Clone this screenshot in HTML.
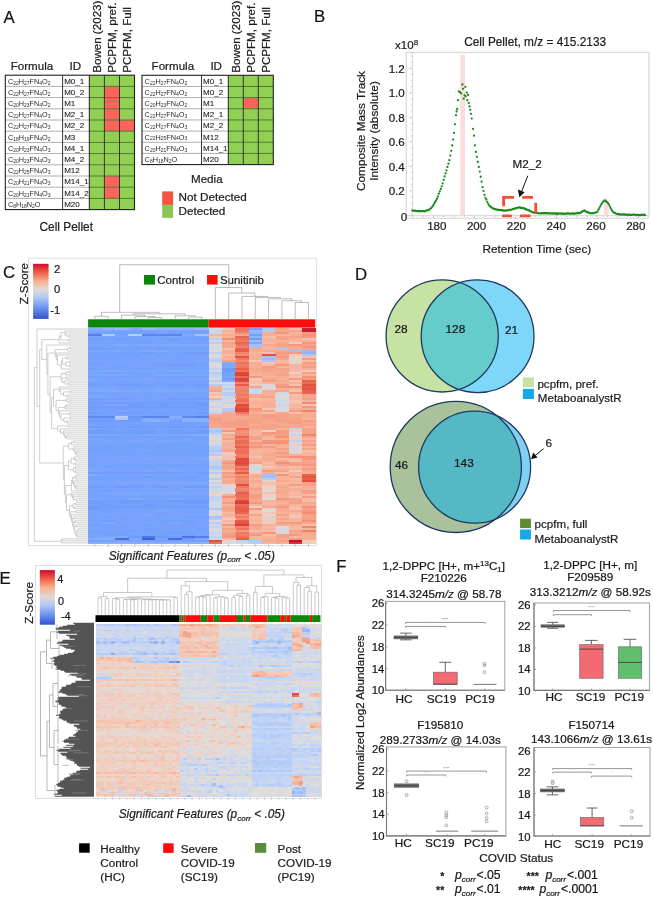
<!DOCTYPE html>
<html><head><meta charset="utf-8"><style>
html,body{margin:0;padding:0;background:#fff;width:653px;height:899px;overflow:hidden}
svg{display:block;filter:blur(0.35px)}
text{stroke:#222;stroke-width:0.22px;stroke-linejoin:round}
</style></head><body>
<svg width="653" height="899" viewBox="0 0 653 899">
<rect width="653" height="899" fill="#fff"/>
<g font-family='"Liberation Sans", sans-serif'>
<text x="3.4" y="23" font-size="16.8" text-anchor="start" fill="#111" >A</text>
<rect x="5.3" y="75.2" width="84" height="134.4" fill="#fff"/>
<rect x="89.3" y="75.2" width="15.1" height="11.2" fill="#91d052"/>
<rect x="104.4" y="75.2" width="15.1" height="11.2" fill="#91d052"/>
<rect x="119.5" y="75.2" width="15" height="11.2" fill="#91d052"/>
<rect x="89.3" y="86.4" width="15.1" height="11.2" fill="#91d052"/>
<rect x="104.4" y="86.4" width="15.1" height="11.2" fill="#fb645b"/>
<rect x="119.5" y="86.4" width="15" height="11.2" fill="#91d052"/>
<rect x="89.3" y="97.6" width="15.1" height="11.2" fill="#91d052"/>
<rect x="104.4" y="97.6" width="15.1" height="11.2" fill="#fb645b"/>
<rect x="119.5" y="97.6" width="15" height="11.2" fill="#91d052"/>
<rect x="89.3" y="108.8" width="15.1" height="11.2" fill="#91d052"/>
<rect x="104.4" y="108.8" width="15.1" height="11.2" fill="#fb645b"/>
<rect x="119.5" y="108.8" width="15" height="11.2" fill="#91d052"/>
<rect x="89.3" y="120" width="15.1" height="11.2" fill="#91d052"/>
<rect x="104.4" y="120" width="15.1" height="11.2" fill="#fb645b"/>
<rect x="119.5" y="120" width="15" height="11.2" fill="#fb645b"/>
<rect x="89.3" y="131.2" width="15.1" height="11.2" fill="#91d052"/>
<rect x="104.4" y="131.2" width="15.1" height="11.2" fill="#91d052"/>
<rect x="119.5" y="131.2" width="15" height="11.2" fill="#91d052"/>
<rect x="89.3" y="142.4" width="15.1" height="11.2" fill="#91d052"/>
<rect x="104.4" y="142.4" width="15.1" height="11.2" fill="#91d052"/>
<rect x="119.5" y="142.4" width="15" height="11.2" fill="#91d052"/>
<rect x="89.3" y="153.6" width="15.1" height="11.2" fill="#91d052"/>
<rect x="104.4" y="153.6" width="15.1" height="11.2" fill="#91d052"/>
<rect x="119.5" y="153.6" width="15" height="11.2" fill="#91d052"/>
<rect x="89.3" y="164.8" width="15.1" height="11.2" fill="#91d052"/>
<rect x="104.4" y="164.8" width="15.1" height="11.2" fill="#91d052"/>
<rect x="119.5" y="164.8" width="15" height="11.2" fill="#91d052"/>
<rect x="89.3" y="176" width="15.1" height="11.2" fill="#91d052"/>
<rect x="104.4" y="176" width="15.1" height="11.2" fill="#fb645b"/>
<rect x="119.5" y="176" width="15" height="11.2" fill="#91d052"/>
<rect x="89.3" y="187.2" width="15.1" height="11.2" fill="#91d052"/>
<rect x="104.4" y="187.2" width="15.1" height="11.2" fill="#fb645b"/>
<rect x="119.5" y="187.2" width="15" height="11.2" fill="#91d052"/>
<rect x="89.3" y="198.4" width="15.1" height="11.2" fill="#91d052"/>
<rect x="104.4" y="198.4" width="15.1" height="11.2" fill="#91d052"/>
<rect x="119.5" y="198.4" width="15" height="11.2" fill="#91d052"/>
<path d="M5.3 86.4H89.3M5.3 97.6H89.3M5.3 108.8H89.3M5.3 120H89.3M5.3 131.2H89.3M5.3 142.4H89.3M5.3 153.6H89.3M5.3 164.8H89.3M5.3 176H89.3M5.3 187.2H89.3M5.3 198.4H89.3" stroke="#9a9a9a" stroke-width="0.8" fill="none"/>
<path d="M89.3 86.4H134.5M89.3 97.6H134.5M89.3 108.8H134.5M89.3 120H134.5M89.3 131.2H134.5M89.3 142.4H134.5M89.3 153.6H134.5M89.3 164.8H134.5M89.3 176H134.5M89.3 187.2H134.5M89.3 198.4H134.5" stroke="#4a7a30" stroke-width="1" fill="none"/>
<path d="M62.6 75.2V209.6M104.4 75.2V209.6M119.5 75.2V209.6" stroke="#222" stroke-width="0.9" fill="none"/>
<path d="M89.3 75.2V209.6" stroke="#222" stroke-width="1" fill="none"/>
<rect x="5.3" y="75.2" width="129.2" height="134.4" fill="none" stroke="#222" stroke-width="1.1"/>
<text x="7.9" y="83.6" font-size="7.3" fill="#2a2a2a" style="stroke:none"><tspan dy="0">C</tspan><tspan font-size="5.0" dy="0.9">22</tspan><tspan dy="-0.9">H</tspan><tspan font-size="5.0" dy="0.9">27</tspan><tspan dy="-0.9">FN</tspan><tspan font-size="5.0" dy="0.9">4</tspan><tspan dy="-0.9">O</tspan><tspan font-size="5.0" dy="0.9">2</tspan></text>
<text x="64.2" y="83.6" font-size="8" fill="#222" style="stroke-width:0.1px">M0_1</text>
<text x="7.9" y="94.8" font-size="7.3" fill="#2a2a2a" style="stroke:none"><tspan dy="0">C</tspan><tspan font-size="5.0" dy="0.9">22</tspan><tspan dy="-0.9">H</tspan><tspan font-size="5.0" dy="0.9">27</tspan><tspan dy="-0.9">FN</tspan><tspan font-size="5.0" dy="0.9">4</tspan><tspan dy="-0.9">O</tspan><tspan font-size="5.0" dy="0.9">2</tspan></text>
<text x="64.2" y="94.8" font-size="8" fill="#222" style="stroke-width:0.1px">M0_2</text>
<text x="7.9" y="106" font-size="7.3" fill="#2a2a2a" style="stroke:none"><tspan dy="0">C</tspan><tspan font-size="5.0" dy="0.9">20</tspan><tspan dy="-0.9">H</tspan><tspan font-size="5.0" dy="0.9">23</tspan><tspan dy="-0.9">FN</tspan><tspan font-size="5.0" dy="0.9">4</tspan><tspan dy="-0.9">O</tspan><tspan font-size="5.0" dy="0.9">2</tspan></text>
<text x="64.2" y="106" font-size="8" fill="#222" style="stroke-width:0.1px">M1</text>
<text x="7.9" y="117.2" font-size="7.3" fill="#2a2a2a" style="stroke:none"><tspan dy="0">C</tspan><tspan font-size="5.0" dy="0.9">22</tspan><tspan dy="-0.9">H</tspan><tspan font-size="5.0" dy="0.9">27</tspan><tspan dy="-0.9">FN</tspan><tspan font-size="5.0" dy="0.9">4</tspan><tspan dy="-0.9">O</tspan><tspan font-size="5.0" dy="0.9">3</tspan></text>
<text x="64.2" y="117.2" font-size="8" fill="#222" style="stroke-width:0.1px">M2_1</text>
<text x="7.9" y="128.4" font-size="7.3" fill="#2a2a2a" style="stroke:none"><tspan dy="0">C</tspan><tspan font-size="5.0" dy="0.9">22</tspan><tspan dy="-0.9">H</tspan><tspan font-size="5.0" dy="0.9">27</tspan><tspan dy="-0.9">FN</tspan><tspan font-size="5.0" dy="0.9">4</tspan><tspan dy="-0.9">O</tspan><tspan font-size="5.0" dy="0.9">3</tspan></text>
<text x="64.2" y="128.4" font-size="8" fill="#222" style="stroke-width:0.1px">M2_2</text>
<text x="7.9" y="139.6" font-size="7.3" fill="#2a2a2a" style="stroke:none"><tspan dy="0">C</tspan><tspan font-size="5.0" dy="0.9">18</tspan><tspan dy="-0.9">H</tspan><tspan font-size="5.0" dy="0.9">19</tspan><tspan dy="-0.9">FN</tspan><tspan font-size="5.0" dy="0.9">4</tspan><tspan dy="-0.9">O</tspan><tspan font-size="5.0" dy="0.9">2</tspan></text>
<text x="64.2" y="139.6" font-size="8" fill="#222" style="stroke-width:0.1px">M3</text>
<text x="7.9" y="150.8" font-size="7.3" fill="#2a2a2a" style="stroke:none"><tspan dy="0">C</tspan><tspan font-size="5.0" dy="0.9">20</tspan><tspan dy="-0.9">H</tspan><tspan font-size="5.0" dy="0.9">23</tspan><tspan dy="-0.9">FN</tspan><tspan font-size="5.0" dy="0.9">4</tspan><tspan dy="-0.9">O</tspan><tspan font-size="5.0" dy="0.9">3</tspan></text>
<text x="64.2" y="150.8" font-size="8" fill="#222" style="stroke-width:0.1px">M4_1</text>
<text x="7.9" y="162" font-size="7.3" fill="#2a2a2a" style="stroke:none"><tspan dy="0">C</tspan><tspan font-size="5.0" dy="0.9">20</tspan><tspan dy="-0.9">H</tspan><tspan font-size="5.0" dy="0.9">23</tspan><tspan dy="-0.9">FN</tspan><tspan font-size="5.0" dy="0.9">4</tspan><tspan dy="-0.9">O</tspan><tspan font-size="5.0" dy="0.9">3</tspan></text>
<text x="64.2" y="162" font-size="8" fill="#222" style="stroke-width:0.1px">M4_2</text>
<text x="7.9" y="173.2" font-size="7.3" fill="#2a2a2a" style="stroke:none"><tspan dy="0">C</tspan><tspan font-size="5.0" dy="0.9">22</tspan><tspan dy="-0.9">H</tspan><tspan font-size="5.0" dy="0.9">25</tspan><tspan dy="-0.9">FN</tspan><tspan font-size="5.0" dy="0.9">4</tspan><tspan dy="-0.9">O</tspan><tspan font-size="5.0" dy="0.9">3</tspan></text>
<text x="64.2" y="173.2" font-size="8" fill="#222" style="stroke-width:0.1px">M12</text>
<text x="7.9" y="184.4" font-size="7.3" fill="#2a2a2a" style="stroke:none"><tspan dy="0">C</tspan><tspan font-size="5.0" dy="0.9">20</tspan><tspan dy="-0.9">H</tspan><tspan font-size="5.0" dy="0.9">21</tspan><tspan dy="-0.9">FN</tspan><tspan font-size="5.0" dy="0.9">4</tspan><tspan dy="-0.9">O</tspan><tspan font-size="5.0" dy="0.9">3</tspan></text>
<text x="64.2" y="184.4" font-size="8" fill="#222" style="stroke-width:0.1px">M14_1</text>
<text x="7.9" y="195.6" font-size="7.3" fill="#2a2a2a" style="stroke:none"><tspan dy="0">C</tspan><tspan font-size="5.0" dy="0.9">20</tspan><tspan dy="-0.9">H</tspan><tspan font-size="5.0" dy="0.9">21</tspan><tspan dy="-0.9">FN</tspan><tspan font-size="5.0" dy="0.9">4</tspan><tspan dy="-0.9">O</tspan><tspan font-size="5.0" dy="0.9">3</tspan></text>
<text x="64.2" y="195.6" font-size="8" fill="#222" style="stroke-width:0.1px">M14_2</text>
<text x="7.9" y="206.8" font-size="7.3" fill="#2a2a2a" style="stroke:none"><tspan dy="0">C</tspan><tspan font-size="5.0" dy="0.9">8</tspan><tspan dy="-0.9">H</tspan><tspan font-size="5.0" dy="0.9">18</tspan><tspan dy="-0.9">N</tspan><tspan font-size="5.0" dy="0.9">2</tspan><tspan dy="-0.9">O</tspan></text>
<text x="64.2" y="206.8" font-size="8" fill="#222" style="stroke-width:0.1px">M20</text>
<rect x="142" y="75.3" width="86.3" height="89.28" fill="#fff"/>
<rect x="228.3" y="75.3" width="15" height="11.16" fill="#91d052"/>
<rect x="243.3" y="75.3" width="15" height="11.16" fill="#91d052"/>
<rect x="258.3" y="75.3" width="15" height="11.16" fill="#91d052"/>
<rect x="228.3" y="86.46" width="15" height="11.16" fill="#91d052"/>
<rect x="243.3" y="86.46" width="15" height="11.16" fill="#91d052"/>
<rect x="258.3" y="86.46" width="15" height="11.16" fill="#91d052"/>
<rect x="228.3" y="97.62" width="15" height="11.16" fill="#91d052"/>
<rect x="243.3" y="97.62" width="15" height="11.16" fill="#fb645b"/>
<rect x="258.3" y="97.62" width="15" height="11.16" fill="#91d052"/>
<rect x="228.3" y="108.78" width="15" height="11.16" fill="#91d052"/>
<rect x="243.3" y="108.78" width="15" height="11.16" fill="#91d052"/>
<rect x="258.3" y="108.78" width="15" height="11.16" fill="#91d052"/>
<rect x="228.3" y="119.94" width="15" height="11.16" fill="#91d052"/>
<rect x="243.3" y="119.94" width="15" height="11.16" fill="#91d052"/>
<rect x="258.3" y="119.94" width="15" height="11.16" fill="#91d052"/>
<rect x="228.3" y="131.1" width="15" height="11.16" fill="#91d052"/>
<rect x="243.3" y="131.1" width="15" height="11.16" fill="#91d052"/>
<rect x="258.3" y="131.1" width="15" height="11.16" fill="#91d052"/>
<rect x="228.3" y="142.26" width="15" height="11.16" fill="#91d052"/>
<rect x="243.3" y="142.26" width="15" height="11.16" fill="#91d052"/>
<rect x="258.3" y="142.26" width="15" height="11.16" fill="#91d052"/>
<rect x="228.3" y="153.42" width="15" height="11.16" fill="#91d052"/>
<rect x="243.3" y="153.42" width="15" height="11.16" fill="#91d052"/>
<rect x="258.3" y="153.42" width="15" height="11.16" fill="#91d052"/>
<path d="M142 86.46H228.3M142 97.62H228.3M142 108.78H228.3M142 119.94H228.3M142 131.1H228.3M142 142.26H228.3M142 153.42H228.3" stroke="#9a9a9a" stroke-width="0.8" fill="none"/>
<path d="M228.3 86.46H273.3M228.3 97.62H273.3M228.3 108.78H273.3M228.3 119.94H273.3M228.3 131.1H273.3M228.3 142.26H273.3M228.3 153.42H273.3" stroke="#4a7a30" stroke-width="1" fill="none"/>
<path d="M201.5 75.3V164.58M243.3 75.3V164.58M258.3 75.3V164.58" stroke="#222" stroke-width="0.9" fill="none"/>
<path d="M228.3 75.3V164.58" stroke="#222" stroke-width="1" fill="none"/>
<rect x="142" y="75.3" width="131.3" height="89.28" fill="none" stroke="#222" stroke-width="1.1"/>
<text x="144.6" y="83.7" font-size="7.3" fill="#2a2a2a" style="stroke:none"><tspan dy="0">C</tspan><tspan font-size="5.0" dy="0.9">22</tspan><tspan dy="-0.9">H</tspan><tspan font-size="5.0" dy="0.9">27</tspan><tspan dy="-0.9">FN</tspan><tspan font-size="5.0" dy="0.9">4</tspan><tspan dy="-0.9">O</tspan><tspan font-size="5.0" dy="0.9">2</tspan></text>
<text x="203.1" y="83.7" font-size="8" fill="#222" style="stroke-width:0.1px">M0_1</text>
<text x="144.6" y="94.86" font-size="7.3" fill="#2a2a2a" style="stroke:none"><tspan dy="0">C</tspan><tspan font-size="5.0" dy="0.9">22</tspan><tspan dy="-0.9">H</tspan><tspan font-size="5.0" dy="0.9">27</tspan><tspan dy="-0.9">FN</tspan><tspan font-size="5.0" dy="0.9">4</tspan><tspan dy="-0.9">O</tspan><tspan font-size="5.0" dy="0.9">2</tspan></text>
<text x="203.1" y="94.86" font-size="8" fill="#222" style="stroke-width:0.1px">M0_2</text>
<text x="144.6" y="106.02" font-size="7.3" fill="#2a2a2a" style="stroke:none"><tspan dy="0">C</tspan><tspan font-size="5.0" dy="0.9">20</tspan><tspan dy="-0.9">H</tspan><tspan font-size="5.0" dy="0.9">23</tspan><tspan dy="-0.9">FN</tspan><tspan font-size="5.0" dy="0.9">4</tspan><tspan dy="-0.9">O</tspan><tspan font-size="5.0" dy="0.9">2</tspan></text>
<text x="203.1" y="106.02" font-size="8" fill="#222" style="stroke-width:0.1px">M1</text>
<text x="144.6" y="117.18" font-size="7.3" fill="#2a2a2a" style="stroke:none"><tspan dy="0">C</tspan><tspan font-size="5.0" dy="0.9">22</tspan><tspan dy="-0.9">H</tspan><tspan font-size="5.0" dy="0.9">27</tspan><tspan dy="-0.9">FN</tspan><tspan font-size="5.0" dy="0.9">4</tspan><tspan dy="-0.9">O</tspan><tspan font-size="5.0" dy="0.9">3</tspan></text>
<text x="203.1" y="117.18" font-size="8" fill="#222" style="stroke-width:0.1px">M2_1</text>
<text x="144.6" y="128.34" font-size="7.3" fill="#2a2a2a" style="stroke:none"><tspan dy="0">C</tspan><tspan font-size="5.0" dy="0.9">22</tspan><tspan dy="-0.9">H</tspan><tspan font-size="5.0" dy="0.9">27</tspan><tspan dy="-0.9">FN</tspan><tspan font-size="5.0" dy="0.9">4</tspan><tspan dy="-0.9">O</tspan><tspan font-size="5.0" dy="0.9">3</tspan></text>
<text x="203.1" y="128.34" font-size="8" fill="#222" style="stroke-width:0.1px">M2_2</text>
<text x="144.6" y="139.5" font-size="7.3" fill="#2a2a2a" style="stroke:none"><tspan dy="0">C</tspan><tspan font-size="5.0" dy="0.9">22</tspan><tspan dy="-0.9">H</tspan><tspan font-size="5.0" dy="0.9">25</tspan><tspan dy="-0.9">FN</tspan><tspan font-size="5.0" dy="0.9">4</tspan><tspan dy="-0.9">O</tspan><tspan font-size="5.0" dy="0.9">3</tspan></text>
<text x="203.1" y="139.5" font-size="8" fill="#222" style="stroke-width:0.1px">M12</text>
<text x="144.6" y="150.66" font-size="7.3" fill="#2a2a2a" style="stroke:none"><tspan dy="0">C</tspan><tspan font-size="5.0" dy="0.9">20</tspan><tspan dy="-0.9">H</tspan><tspan font-size="5.0" dy="0.9">21</tspan><tspan dy="-0.9">FN</tspan><tspan font-size="5.0" dy="0.9">4</tspan><tspan dy="-0.9">O</tspan><tspan font-size="5.0" dy="0.9">3</tspan></text>
<text x="203.1" y="150.66" font-size="8" fill="#222" style="stroke-width:0.1px">M14_1</text>
<text x="144.6" y="161.82" font-size="7.3" fill="#2a2a2a" style="stroke:none"><tspan dy="0">C</tspan><tspan font-size="5.0" dy="0.9">8</tspan><tspan dy="-0.9">H</tspan><tspan font-size="5.0" dy="0.9">18</tspan><tspan dy="-0.9">N</tspan><tspan font-size="5.0" dy="0.9">2</tspan><tspan dy="-0.9">O</tspan></text>
<text x="203.1" y="161.82" font-size="8" fill="#222" style="stroke-width:0.1px">M20</text>
<text x="10.7" y="70.2" font-size="11.6" text-anchor="start" fill="#1a1a1a" >Formula</text>
<text x="69.5" y="70.2" font-size="11.6" text-anchor="start" fill="#1a1a1a" >ID</text>
<text x="151.6" y="70.2" font-size="11.6" text-anchor="start" fill="#1a1a1a" >Formula</text>
<text x="210.4" y="70.2" font-size="11.6" text-anchor="start" fill="#1a1a1a" >ID</text>
<text transform="translate(100.6,72.8) rotate(-90)" font-size="11.6" text-anchor="start" fill="#1a1a1a" >Bowen (2023)</text>
<text transform="translate(116.4,72.8) rotate(-90)" font-size="11.6" text-anchor="start" fill="#1a1a1a" >PCPFM, pref.</text>
<text transform="translate(131.4,72.8) rotate(-90)" font-size="11.6" text-anchor="start" fill="#1a1a1a" >PCPFM, Full</text>
<text transform="translate(239.9,72.8) rotate(-90)" font-size="11.6" text-anchor="start" fill="#1a1a1a" >Bowen (2023)</text>
<text transform="translate(255.4,72.8) rotate(-90)" font-size="11.6" text-anchor="start" fill="#1a1a1a" >PCPFM, pref.</text>
<text transform="translate(270.4,72.8) rotate(-90)" font-size="11.6" text-anchor="start" fill="#1a1a1a" >PCPFM, Full</text>
<text x="39.5" y="231" font-size="11.9" text-anchor="start" fill="#1a1a1a" >Cell Pellet</text>
<text x="191" y="183.3" font-size="11.6" text-anchor="start" fill="#1a1a1a" >Media</text>
<rect x="162.2" y="191.4" width="10.9" height="13.5" fill="#f4553e"/>
<rect x="162.2" y="204.9" width="10.9" height="13" fill="#8cc653"/>
<text x="178.6" y="200.6" font-size="11.7" text-anchor="start" fill="#1a1a1a" >Not Detected</text>
<text x="178.6" y="215.4" font-size="11.7" text-anchor="start" fill="#1a1a1a" >Detected</text>
<text x="313.9" y="21.8" font-size="16.8" text-anchor="start" fill="#111" >B</text>
<rect x="406.3" y="52.4" width="242.7" height="163.2" fill="#fff" stroke="#dcdcdc" stroke-width="1.4"/>
<path d="M412.5 52.4V215.6M406.3 218.3H649.0M406.3 215.6V218.3" stroke="#dcdcdc" stroke-width="1.2" fill="none"/>
<rect x="460.2" y="54.7" width="4.8" height="160.9" fill="#fadcdc"/>
<rect x="603.8" y="198.5" width="4.8" height="17.1" fill="#fadcdc"/>
<path d="M409 215.4H412.5M410.7 209.28H412.5M410.7 203.15H412.5M410.7 197.03H412.5M409 190.9H412.5M410.7 184.78H412.5M410.7 178.65H412.5M410.7 172.53H412.5M409 166.4H412.5M410.7 160.28H412.5M410.7 154.15H412.5M410.7 148.03H412.5M409 141.9H412.5M410.7 135.78H412.5M410.7 129.65H412.5M410.7 123.53H412.5M409 117.4H412.5M410.7 111.27H412.5M410.7 105.15H412.5M410.7 99.02H412.5M409 92.9H412.5M410.7 86.78H412.5M410.7 80.65H412.5M410.7 74.52H412.5M409 68.4H412.5M410.7 62.28H412.5M410.7 56.15H412.5" stroke="#c4c4c4" stroke-width="0.8"/>
<path d="M413.05 215.6V217.1M423.27 215.6V217.1M433.5 215.6V218.4M443.73 215.6V217.1M453.95 215.6V217.1M464.18 215.6V217.1M474.4 215.6V218.4M484.62 215.6V217.1M494.85 215.6V217.1M505.07 215.6V217.1M515.3 215.6V218.4M525.52 215.6V217.1M535.75 215.6V217.1M545.98 215.6V217.1M556.2 215.6V218.4M566.42 215.6V217.1M576.65 215.6V217.1M586.88 215.6V217.1M597.1 215.6V218.4M607.33 215.6V217.1M617.55 215.6V217.1M627.77 215.6V217.1M638 215.6V218.4M648.23 215.6V217.1" stroke="#bdbdbd" stroke-width="0.8"/>
<text x="404.8" y="195.1" font-size="11.6" text-anchor="end" fill="#1a1a1a" >0.2</text>
<text x="404.8" y="170.6" font-size="11.6" text-anchor="end" fill="#1a1a1a" >0.4</text>
<text x="404.8" y="146.1" font-size="11.6" text-anchor="end" fill="#1a1a1a" >0.6</text>
<text x="404.8" y="121.6" font-size="11.6" text-anchor="end" fill="#1a1a1a" >0.8</text>
<text x="404.8" y="97.1" font-size="11.6" text-anchor="end" fill="#1a1a1a" >1.0</text>
<text x="404.8" y="72.6" font-size="11.6" text-anchor="end" fill="#1a1a1a" >1.2</text>
<text x="407.2" y="221.3" font-size="11.6" text-anchor="end" fill="#1a1a1a" >0</text>
<text x="436.8" y="230.2" font-size="11.6" text-anchor="middle" fill="#1a1a1a" >180</text>
<text x="476.6" y="230.2" font-size="11.6" text-anchor="middle" fill="#1a1a1a" >200</text>
<text x="516.4" y="230.2" font-size="11.6" text-anchor="middle" fill="#1a1a1a" >220</text>
<text x="556.2" y="230.2" font-size="11.6" text-anchor="middle" fill="#1a1a1a" >240</text>
<text x="596" y="230.2" font-size="11.6" text-anchor="middle" fill="#1a1a1a" >260</text>
<text x="635.8" y="230.2" font-size="11.6" text-anchor="middle" fill="#1a1a1a" >280</text>
<text x="395" y="49.2" font-size="11.6" fill="#1a1a1a">x10<tspan font-size="8" dy="-4.5">8</tspan></text>
<text x="464.2" y="45.8" font-size="11.85" text-anchor="start" fill="#1a1a1a" >Cell Pellet, m/z = 415.2133</text>
<text transform="translate(364.6,131) rotate(-90)" font-size="11.8" text-anchor="middle" fill="#1a1a1a" >Composite Mass Track</text>
<text transform="translate(377.6,131) rotate(-90)" font-size="11.8" text-anchor="middle" fill="#1a1a1a" >Intensity (absolute)</text>
<text x="536.8" y="252.8" font-size="11.8" text-anchor="middle" fill="#1a1a1a" >Retention Time (sec)</text>
<path d="M412.3 210.54h0M413.25 210.55h0M414.2 210.9h0M415.15 210.7h0M416.1 211.03h0M417.05 211.04h0M418 210.98h0M418.95 211.3h0M419.9 211.16h0M420.85 211.33h0M421.8 211.11h0M422.75 211.09h0M423.7 211.21h0M424.65 211.38h0M425.6 210.8h0M426.55 210.52h0M427.5 210.39h0M428.45 210.22h0M429.4 209.51h0M430.35 208.62h0M431.3 208.12h0M432.25 206.66h0M433.2 205.49h0M434.15 203.63h0M435.1 201.98h0M436.05 200.39h0M437 198.63h0M437.95 196.42h0M438.9 193.64h0M439.85 191.37h0M440.8 188.94h0M441.75 186.34h0M442.7 183.4h0M443.65 179.79h0M444.6 176.44h0M445.55 173.29h0M446.5 170.31h0M447.45 166.96h0M448.4 163.68h0M449.35 160.22h0M450.3 155.53h0M451.25 150.82h0M452.2 145.51h0M453.15 139.57h0M454.1 132.92h0M455.05 124.36h0M456 115.21h0M473.1 128.9h0M474.05 135.64h0M475 145.44h0M475.95 151.94h0M476.9 156.81h0M477.85 161.9h0M478.8 166.98h0M479.75 171.58h0M480.7 176.77h0M481.65 181.71h0M482.6 187.18h0M483.55 191.07h0M484.5 194.82h0M485.45 197.83h0M486.4 199.69h0M487.35 202.03h0M488.3 204.12h0M489.25 205.58h0M490.2 206.25h0M491.15 207.17h0M492.1 207.95h0M493.05 208.44h0M494 208.98h0M494.95 208.87h0M495.9 209.38h0M496.85 209.54h0M497.8 209.9h0M498.75 209.98h0M499.7 209.87h0M500.65 210.09h0M501.6 210.39h0M502.55 210.24h0M503.5 210.62h0M504.45 210.64h0M505.4 210.63h0M506.35 210.41h0M507.3 210.57h0M508.25 210.06h0M509.2 209.93h0M510.15 209.82h0M511.1 209.87h0M512.05 209.28h0M513 209.17h0M513.95 208.84h0M514.9 208.63h0M515.85 208.22h0M516.8 208.06h0M517.75 207.63h0M518.7 207.55h0M519.65 207.38h0M520.6 207.77h0M521.55 208.09h0M522.5 207.98h0M523.45 208.27h0M524.4 208.63h0M525.35 209.01h0M526.3 209.51h0M527.25 209.94h0M528.2 210.19h0M529.15 210.49h0M530.1 211.12h0M531.05 211.51h0M532 212.03h0M532.95 212.45h0M533.9 212.55h0M534.85 212.69h0M535.8 212.96h0M536.75 213.11h0M537.7 212.84h0M538.65 213.31h0M539.6 213.29h0M540.55 213.38h0M541.5 213.38h0M542.45 213.22h0M543.4 213.26h0M544.35 213.15h0M545.3 213.46h0M546.25 213.22h0M547.2 213.26h0M548.15 213.37h0M549.1 213.39h0M550.05 213.52h0M551 213.42h0M551.95 213.43h0M552.9 213.53h0M553.85 213.5h0M554.8 213.63h0M555.75 213.46h0M556.7 213.89h0M557.65 213.76h0M558.6 213.52h0M559.55 213.58h0M560.5 213.62h0M561.45 213.63h0M562.4 213.51h0M563.35 213.87h0M564.3 213.95h0M565.25 213.68h0M566.2 213.69h0M567.15 213.49h0M568.1 213.5h0M569.05 213.62h0M570 213.58h0M570.95 213.86h0M571.9 213.53h0M572.85 213.46h0M573.8 213.93h0M574.75 213.71h0M575.7 213.4h0M576.65 213.42h0M577.6 213h0M578.55 213.08h0M579.5 213.13h0M580.45 212.76h0M581.4 212.2h0M582.35 211.51h0M583.3 211.08h0M584.25 210.51h0M585.2 211.18h0M586.15 211.59h0M587.1 212.24h0M588.05 212.52h0M589 212.61h0M589.95 213.05h0M590.9 213.28h0M591.85 213.35h0M592.8 213.2h0M593.75 213.03h0M594.7 212.81h0M595.65 212.37h0M596.6 212.34h0M597.55 211.65h0M598.5 209.67h0M599.45 207.86h0M600.4 206.09h0M601.35 204.27h0M602.3 202.82h0M603.25 201.55h0M604.2 200.61h0M605.15 200.67h0M606.1 201.38h0M607.05 202.27h0M608 203.11h0M608.95 204.52h0M609.9 206.57h0M610.85 208.47h0M611.8 210.16h0M612.75 211.55h0M613.7 212.31h0M614.65 212.89h0M615.6 213.33h0M616.55 213.79h0M617.5 214.07h0M618.45 213.91h0M619.4 214.4h0M620.35 214.63h0M621.3 214.6h0M622.25 214.62h0M623.2 214.52h0M624.15 214.41h0M625.1 214.75h0M626.05 214.56h0M627 214.83h0M627.95 214.96h0M628.9 214.7h0M629.85 214.74h0M630.8 215.03h0M631.75 214.93h0M632.7 214.67h0M633.65 214.66h0M634.6 214.68h0M635.55 215.07h0M636.5 215.03h0M637.45 214.72h0M638.4 215.07h0M639.35 215.16h0M640.3 215.01h0M641.25 214.87h0M642.2 214.98h0M643.15 214.78h0M644.1 214.73h0M645.05 215.22h0M462.4 84.5h0M465.3 86.8h0M463 88.8h0M458.8 91.4h0M459.9 92.2h0M461.1 93.4h0M466.8 92.6h0M468 94.9h0M464.5 95.3h0M465.7 96.4h0M463.7 98.7h0M458 100.2h0M467.2 100.2h0M468.7 102.9h0M469.5 106.4h0M470.2 109.8h0M457.2 109h0M456.6 111.5h0M471 113.8h0M471.8 118.6h0" stroke="#1d8a1d" stroke-width="2.3" stroke-linecap="round" fill="none"/>
<path d="M502.2 197.3H514M522.2 197.3H533M535.7 202.8V213.3M502.2 215.8H511.8M519.9 215.8H530.6M503.6 196V206.2" stroke="#f0502f" stroke-width="2.8" fill="none"/>
<path d="M527.8 175.7L521.6 191.5" stroke="#111" stroke-width="1" fill="none"/>
<path d="M519.4 197.2L517.8 189.6L524.6 192.2Z" fill="#111"/>
<text x="512.6" y="168" font-size="11.6" text-anchor="start" fill="#1a1a1a" >M2_2</text>
<text x="3" y="277.9" font-size="16.8" text-anchor="start" fill="#111" >C</text>
<rect x="28.6" y="258.2" width="287.7" height="287.5" fill="none" stroke="#dedede" stroke-width="1"/>
<defs><linearGradient id="cbC" x1="0" y1="0" x2="0" y2="1"><stop offset="0" stop-color="#cf0a2c"/><stop offset="0.15" stop-color="#ee5a44"/><stop offset="0.32" stop-color="#f8b293"/><stop offset="0.47" stop-color="#dedbd8"/><stop offset="0.62" stop-color="#aec6f6"/><stop offset="0.8" stop-color="#6b93ee"/><stop offset="1" stop-color="#3350cf"/></linearGradient><linearGradient id="cbE" x1="0" y1="0" x2="0" y2="1"><stop offset="0" stop-color="#cf0a2c"/><stop offset="0.15" stop-color="#ee5a44"/><stop offset="0.32" stop-color="#f8b293"/><stop offset="0.5" stop-color="#dedbd8"/><stop offset="0.65" stop-color="#aec6f6"/><stop offset="0.82" stop-color="#6b93ee"/><stop offset="1" stop-color="#3350cf"/></linearGradient></defs>
<rect x="33.1" y="263.8" width="15.5" height="55.1" fill="url(#cbC)"/>
<text x="60.3" y="273.3" font-size="11.3" text-anchor="end" fill="#1a1a1a" >2</text>
<text x="60.3" y="292.5" font-size="11.3" text-anchor="end" fill="#1a1a1a" >0</text>
<text x="60.3" y="314.2" font-size="11.3" text-anchor="end" fill="#1a1a1a" >-1</text>
<text transform="translate(28.3,283.6) rotate(-90)" font-size="11.6" text-anchor="middle" fill="#1a1a1a" >Z-Score</text>
<rect x="144" y="275" width="11" height="9.6" fill="#0a850a"/>
<text x="157.2" y="283.9" font-size="11.5" text-anchor="start" fill="#1a1a1a" >Control</text>
<rect x="207" y="275" width="10.6" height="9.6" fill="#ff0b0b"/>
<text x="219.9" y="283.9" font-size="11.5" text-anchor="start" fill="#1a1a1a" >Sunitinib</text>
<rect x="88.1" y="319.3" width="120.6" height="8.3" fill="#0a850a"/>
<rect x="208.7" y="319.3" width="106.5" height="8.3" fill="#ff0b0b"/>
<path d="M119.7 264.7H228.8M119.7 264.7V312.3M228.8 264.7V287.5M215.35 287.5H241.77M215.35 287.5V319.3M241.77 287.5V293M228.66 293H254.87M228.66 293V319.3M254.87 293V296.4M241.97 296.4H267.76M241.97 296.4V319.3M267.76 296.4V297.4M255.28 297.4H280.24M255.28 297.4V319.3M280.24 297.4V298.8M268.59 298.8H291.89M268.59 298.8V319.3M291.89 298.8V300.8M281.9 300.8H301.87M281.9 300.8V319.3M301.87 300.8V302.6M295.21 302.6H308.52M295.21 302.6V319.3M308.52 302.6V319.3M94.79 316.3H108.19M94.79 316.3V319.3M108.19 316.3V319.3M148.35 317.63H161.75M148.35 317.63V319.3M161.75 317.63V319.3M134.97 316.54H155.05M134.97 316.54V319.3M155.05 316.54V317.63M121.57 315.12H145.01M121.57 315.12V319.3M145.01 315.12V316.54M188.53 317H201.91M188.53 317V319.3M201.91 317V319.3M175.13 315.77H195.22M175.13 315.77V319.3M195.22 315.77V317M133.29 313.8H185.18M133.29 313.8V315.12M185.18 313.8V315.77M101.49 312.3H159.23M101.49 312.3V316.3M159.23 312.3V313.8" stroke="#a6a6a6" stroke-width="0.75" fill="none"/>
<path d="M88.1 328h13.6v2.2h-13.6zM128.3 328h13.6v2.2h-13.6zM168.4 415.9h13.6v2.2h-13.6zM141.7 417.9h13.6v2.2h-13.6zM88.1 537.8h27v2.2h-27z" fill="#84aefc" shape-rendering="crispEdges"/>
<path d="M101.5 328h13.6v2.2h-13.6zM168.4 328h27v2.2h-27zM248.6 332h13.6v2.2h-13.6zM248.6 336h13.6v2.2h-13.6zM301.9 352h13.6v2.2h-13.6z" fill="#90b4fc" shape-rendering="crispEdges"/>
<path d="M114.9 328h13.6v2.2h-13.6zM141.7 328h13.6v2.2h-13.6zM195.2 328h13.6v2.2h-13.6zM301.9 350h13.6v2.2h-13.6z" fill="#96bafc" shape-rendering="crispEdges"/>
<path d="M155.1 328h13.6v2.2h-13.6z" fill="#8ab4fc" shape-rendering="crispEdges"/>
<path d="M208.6 328h13.6v2.2h-13.6zM208.6 346h13.6v2.2h-13.6zM208.6 370h13.6v2.2h-13.6zM222 381.9h13.6v2.2h-13.6zM222 389.9h13.6v2.2h-13.6zM248.6 389.9h13.6v2.2h-13.6zM222 399.9h13.6v2.2h-13.6zM208.6 403.9h13.6v2.2h-13.6zM208.6 441.9h13.6v2.2h-13.6zM288.6 445.9h13.6v2.2h-13.6zM288.6 447.9h13.6v2.2h-13.6zM248.6 465.9h13.6v2.2h-13.6zM248.6 469.9h13.6v2.2h-13.6zM222 487.9h13.6v2.2h-13.6zM222 489.8h13.6v2.2h-13.6zM208.6 501.8h13.6v2.2h-13.6zM208.6 505.8h13.6v2.2h-13.6zM275.2 527.8h13.6v2.2h-13.6zM275.2 531.8h13.6v2.2h-13.6z" fill="#d2d8e4" shape-rendering="crispEdges"/>
<path d="M222 328h13.6v2.2h-13.6zM248.6 360h13.6v2.2h-13.6zM301.9 370h13.6v2.2h-13.6zM208.6 391.9h13.6v2.2h-13.6zM261.9 407.9h13.6v2.2h-13.6zM222 431.9h13.6v2.2h-13.6zM261.9 465.9h13.6v2.2h-13.6zM261.9 511.8h13.6v2.2h-13.6z" fill="#f6c6b4" shape-rendering="crispEdges"/>
<path d="M235.3 328h13.6v2.2h-13.6zM235.3 338h13.6v2.2h-13.6zM235.3 344h13.6v2.2h-13.6zM235.3 362h13.6v2.2h-13.6zM235.3 370h13.6v2.2h-13.6zM235.3 397.9h13.6v2.2h-13.6zM235.3 411.9h13.6v2.2h-13.6zM235.3 447.9h13.6v2.2h-13.6zM235.3 497.8h13.6v2.2h-13.6zM235.3 527.8h13.6v2.2h-13.6zM235.3 535.8h13.6v2.2h-13.6zM208.6 541.8h13.6v2.2h-13.6z" fill="#f0725a" shape-rendering="crispEdges"/>
<path d="M248.6 328h13.6v2.2h-13.6zM88.1 332h67.2v2.2h-67.2zM168.4 332h40.4v2.2h-40.4zM248.6 334h13.6v2.2h-13.6zM101.5 338h13.6v2.2h-13.6zM128.3 338h40.4v2.2h-40.4zM181.8 338h13.6v2.2h-13.6zM88.1 340h13.6v2.2h-13.6zM114.9 340h40.4v2.2h-40.4zM168.4 340h13.6v2.2h-13.6zM88.1 342h27v2.2h-27zM128.3 342h80.6v2.2h-80.6zM88.1 346h13.6v2.2h-13.6zM114.9 346h27v2.2h-27zM155.1 346h53.8v2.2h-53.8zM114.9 348h40.4v2.2h-40.4zM168.4 348h40.4v2.2h-40.4zM88.1 352h53.8v2.2h-53.8zM155.1 352h27v2.2h-27zM101.5 354h40.4v2.2h-40.4zM155.1 354h13.6v2.2h-13.6zM181.8 354h13.6v2.2h-13.6zM88.1 356h53.8v2.2h-53.8zM168.4 356h13.6v2.2h-13.6zM88.1 358h27v2.2h-27zM141.7 358h13.6v2.2h-13.6zM168.4 358h27v2.2h-27zM88.1 362h13.6v2.2h-13.6zM88.1 364h40.4v2.2h-40.4zM141.7 364h27v2.2h-27zM195.2 364h13.6v2.2h-13.6zM114.9 366h13.6v2.2h-13.6zM88.1 368h67.2v2.2h-67.2zM168.4 368h40.4v2.2h-40.4zM101.5 372h13.6v2.2h-13.6zM128.3 372h13.6v2.2h-13.6zM155.1 372h27v2.2h-27zM222 372h13.6v2.2h-13.6zM222 374h13.6v2.2h-13.6zM88.1 376h120.8v2.2h-120.8zM88.1 381.9h13.6v2.2h-13.6zM128.3 381.9h13.6v2.2h-13.6zM155.1 381.9h13.6v2.2h-13.6zM101.5 383.9h13.6v2.2h-13.6zM141.7 383.9h27v2.2h-27zM181.8 383.9h13.6v2.2h-13.6zM128.3 385.9h27v2.2h-27zM168.4 385.9h40.4v2.2h-40.4zM88.1 391.9h13.6v2.2h-13.6zM114.9 391.9h13.6v2.2h-13.6zM141.7 391.9h13.6v2.2h-13.6zM181.8 391.9h27v2.2h-27zM141.7 393.9h27v2.2h-27zM181.8 393.9h13.6v2.2h-13.6zM128.3 397.9h40.4v2.2h-40.4zM155.1 399.9h27v2.2h-27zM88.1 403.9h13.6v2.2h-13.6zM141.7 403.9h13.6v2.2h-13.6zM168.4 403.9h27v2.2h-27zM195.2 405.9h13.6v2.2h-13.6zM101.5 407.9h13.6v2.2h-13.6zM128.3 407.9h67.2v2.2h-67.2zM101.5 409.9h13.6v2.2h-13.6zM128.3 409.9h27v2.2h-27zM181.8 409.9h13.6v2.2h-13.6zM101.5 411.9h13.6v2.2h-13.6zM141.7 411.9h13.6v2.2h-13.6zM168.4 411.9h27v2.2h-27zM88.1 413.9h27v2.2h-27zM155.1 413.9h53.8v2.2h-53.8zM88.1 421.9h120.8v2.2h-120.8zM101.5 423.9h94v2.2h-94zM114.9 425.9h13.6v2.2h-13.6zM101.5 427.9h13.6v2.2h-13.6zM141.7 427.9h13.6v2.2h-13.6zM114.9 429.9h13.6v2.2h-13.6zM155.1 429.9h13.6v2.2h-13.6zM181.8 429.9h13.6v2.2h-13.6zM155.1 431.9h13.6v2.2h-13.6zM88.1 435.9h13.6v2.2h-13.6zM114.9 435.9h53.8v2.2h-53.8zM181.8 435.9h27v2.2h-27zM101.5 437.9h40.4v2.2h-40.4zM155.1 437.9h27v2.2h-27zM195.2 437.9h13.6v2.2h-13.6zM168.4 441.9h27v2.2h-27zM101.5 443.9h40.4v2.2h-40.4zM155.1 443.9h53.8v2.2h-53.8zM88.1 445.9h120.8v2.2h-120.8zM88.1 447.9h120.8v2.2h-120.8zM88.1 449.9h27v2.2h-27zM155.1 449.9h13.6v2.2h-13.6zM181.8 449.9h27v2.2h-27zM88.1 451.9h120.8v2.2h-120.8zM114.9 453.9h27v2.2h-27zM155.1 453.9h53.8v2.2h-53.8zM88.1 457.9h13.6v2.2h-13.6zM88.1 463.9h120.8v2.2h-120.8zM101.5 465.9h27v2.2h-27zM141.7 465.9h13.6v2.2h-13.6zM168.4 465.9h27v2.2h-27zM181.8 471.9h13.6v2.2h-13.6zM195.2 473.9h13.6v2.2h-13.6zM88.1 475.9h53.8v2.2h-53.8zM155.1 475.9h27v2.2h-27zM195.2 475.9h13.6v2.2h-13.6zM88.1 477.9h27v2.2h-27zM155.1 477.9h53.8v2.2h-53.8zM195.2 479.9h13.6v2.2h-13.6zM88.1 483.9h13.6v2.2h-13.6zM128.3 483.9h13.6v2.2h-13.6zM195.2 483.9h13.6v2.2h-13.6zM101.5 485.9h13.6v2.2h-13.6zM141.7 485.9h13.6v2.2h-13.6zM168.4 485.9h13.6v2.2h-13.6zM168.4 487.9h13.6v2.2h-13.6zM88.1 489.8h80.6v2.2h-80.6zM181.8 489.8h13.6v2.2h-13.6zM88.1 495.8h120.8v2.2h-120.8zM101.5 501.8h13.6v2.2h-13.6zM141.7 501.8h40.4v2.2h-40.4zM88.1 503.8h13.6v2.2h-13.6zM114.9 503.8h27v2.2h-27zM155.1 503.8h53.8v2.2h-53.8zM101.5 507.8h53.8v2.2h-53.8zM168.4 507.8h40.4v2.2h-40.4zM101.5 509.8h13.6v2.2h-13.6zM101.5 511.8h13.6v2.2h-13.6zM155.1 511.8h13.6v2.2h-13.6zM181.8 511.8h27v2.2h-27zM88.1 515.8h27v2.2h-27zM181.8 515.8h27v2.2h-27zM114.9 517.8h13.6v2.2h-13.6zM88.1 519.8h13.6v2.2h-13.6zM128.3 519.8h67.2v2.2h-67.2zM155.1 521.8h13.6v2.2h-13.6zM181.8 521.8h13.6v2.2h-13.6zM88.1 523.8h27v2.2h-27zM141.7 523.8h27v2.2h-27zM181.8 523.8h13.6v2.2h-13.6zM101.5 525.8h27v2.2h-27zM141.7 527.8h13.6v2.2h-13.6zM195.2 527.8h13.6v2.2h-13.6zM88.1 529.8h120.8v2.2h-120.8zM88.1 531.8h40.4v2.2h-40.4zM141.7 531.8h27v2.2h-27zM181.8 531.8h13.6v2.2h-13.6zM101.5 533.8h40.4v2.2h-40.4zM155.1 533.8h13.6v2.2h-13.6zM181.8 533.8h13.6v2.2h-13.6zM88.1 539.8h27v2.2h-27zM128.3 539.8h13.6v2.2h-13.6zM155.1 539.8h53.8v2.2h-53.8z" fill="#72a2fc" shape-rendering="crispEdges"/>
<path d="M261.9 328h13.6v2.2h-13.6zM275.2 348h13.6v2.2h-13.6zM301.9 354h13.6v2.2h-13.6zM261.9 360h13.6v2.2h-13.6zM114.9 417.9h13.6v2.2h-13.6zM208.6 449.9h13.6v2.2h-13.6zM208.6 465.9h13.6v2.2h-13.6zM208.6 507.8h13.6v2.2h-13.6z" fill="#aec6f6" shape-rendering="crispEdges"/>
<path d="M275.2 328h13.6v2.2h-13.6zM275.2 338h13.6v2.2h-13.6zM222 342h13.6v2.2h-13.6zM275.2 344h13.6v2.2h-13.6zM261.9 370h13.6v2.2h-13.6zM301.9 372h13.6v2.2h-13.6zM275.2 374h13.6v2.2h-13.6zM261.9 395.9h13.6v2.2h-13.6zM248.6 409.9h13.6v2.2h-13.6zM248.6 417.9h13.6v2.2h-13.6zM208.6 419.9h13.6v2.2h-13.6zM208.6 421.9h13.6v2.2h-13.6zM248.6 421.9h13.6v2.2h-13.6zM301.9 423.9h13.6v2.2h-13.6zM248.6 425.9h40.2v2.2h-40.2zM301.9 427.9h13.6v2.2h-13.6zM301.9 431.9h13.6v2.2h-13.6zM275.2 433.9h13.6v2.2h-13.6zM248.6 435.9h13.6v2.2h-13.6zM275.2 447.9h13.6v2.2h-13.6zM301.9 447.9h13.6v2.2h-13.6zM248.6 461.9h13.6v2.2h-13.6zM275.2 469.9h13.6v2.2h-13.6zM301.9 483.9h13.6v2.2h-13.6zM301.9 491.8h13.6v2.2h-13.6zM222 507.8h13.6v2.2h-13.6zM275.2 513.8h13.6v2.2h-13.6zM301.9 515.8h13.6v2.2h-13.6zM275.2 539.8h13.6v2.2h-13.6z" fill="#f6a284" shape-rendering="crispEdges"/>
<path d="M288.6 328h13.6v2.2h-13.6zM301.9 338h13.6v2.2h-13.6zM222 348h13.6v2.2h-13.6zM261.9 352h13.6v2.2h-13.6zM301.9 356h13.6v2.2h-13.6zM261.9 362h13.6v2.2h-13.6zM288.6 380h13.6v2.2h-13.6zM288.6 383.9h13.6v2.2h-13.6zM288.6 401.9h13.6v2.2h-13.6zM261.9 411.9h13.6v2.2h-13.6zM288.6 411.9h13.6v2.2h-13.6zM222 455.9h13.6v2.2h-13.6zM248.6 455.9h13.6v2.2h-13.6zM275.2 457.9h13.6v2.2h-13.6zM288.6 459.9h13.6v2.2h-13.6zM288.6 465.9h13.6v2.2h-13.6zM222 469.9h13.6v2.2h-13.6zM261.9 481.9h13.6v2.2h-13.6zM261.9 491.8h13.6v2.2h-13.6zM288.6 495.8h13.6v2.2h-13.6zM248.6 509.8h13.6v2.2h-13.6zM288.6 513.8h13.6v2.2h-13.6zM222 521.8h13.6v2.2h-13.6zM301.9 523.8h13.6v2.2h-13.6z" fill="#f6c0ae" shape-rendering="crispEdges"/>
<path d="M301.9 328h13.6v2.2h-13.6z" fill="#cc1e30" shape-rendering="crispEdges"/>
<path d="M88.1 330h27v2.2h-27zM88.1 344h13.6v2.2h-13.6zM88.1 350h40.4v2.2h-40.4zM168.4 350h40.4v2.2h-40.4zM155.1 360h13.6v2.2h-13.6zM195.2 360h13.6v2.2h-13.6zM222 364h13.6v2.2h-13.6zM128.3 370h27v2.2h-27zM181.8 370h27v2.2h-27zM88.1 374h13.6v2.2h-13.6zM222 376h13.6v2.2h-13.6zM88.1 378h13.6v2.2h-13.6zM114.9 378h13.6v2.2h-13.6zM181.8 378h27v2.2h-27zM88.1 380h13.6v2.2h-13.6zM128.3 380h13.6v2.2h-13.6zM168.4 380h13.6v2.2h-13.6zM88.1 387.9h27v2.2h-27zM155.1 387.9h40.4v2.2h-40.4zM141.7 389.9h13.6v2.2h-13.6zM88.1 395.9h27v2.2h-27zM114.9 433.9h27v2.2h-27zM88.1 439.9h27v2.2h-27zM168.4 439.9h27v2.2h-27zM141.7 457.9h13.6v2.2h-13.6zM114.9 459.9h13.6v2.2h-13.6zM168.4 461.9h13.6v2.2h-13.6zM88.1 467.9h27v2.2h-27zM155.1 467.9h27v2.2h-27zM88.1 469.9h13.6v2.2h-13.6zM168.4 469.9h13.6v2.2h-13.6zM195.2 469.9h13.6v2.2h-13.6zM141.7 473.9h13.6v2.2h-13.6zM88.1 481.9h27v2.2h-27zM141.7 487.9h13.6v2.2h-13.6zM101.5 491.8h13.6v2.2h-13.6zM128.3 491.8h27v2.2h-27zM181.8 491.8h27v2.2h-27zM128.3 493.8h13.6v2.2h-13.6zM88.1 497.8h13.6v2.2h-13.6zM168.4 497.8h13.6v2.2h-13.6zM168.4 521.8h13.6v2.2h-13.6z" fill="#78a8fc" shape-rendering="crispEdges"/>
<path d="M114.9 330h94v2.2h-94zM155.1 332h13.6v2.2h-13.6zM114.9 334h13.6v2.2h-13.6zM88.1 336h80.6v2.2h-80.6zM181.8 336h27v2.2h-27zM101.5 340h13.6v2.2h-13.6zM155.1 340h13.6v2.2h-13.6zM181.8 340h27v2.2h-27zM114.9 342h13.6v2.2h-13.6zM101.5 344h13.6v2.2h-13.6zM101.5 346h13.6v2.2h-13.6zM141.7 346h13.6v2.2h-13.6zM128.3 350h13.6v2.2h-13.6zM88.1 354h13.6v2.2h-13.6zM141.7 354h13.6v2.2h-13.6zM168.4 354h13.6v2.2h-13.6zM195.2 354h13.6v2.2h-13.6zM141.7 356h27v2.2h-27zM181.8 356h27v2.2h-27zM114.9 358h27v2.2h-27zM155.1 358h13.6v2.2h-13.6zM195.2 358h13.6v2.2h-13.6zM88.1 360h67.2v2.2h-67.2zM168.4 360h27v2.2h-27zM101.5 362h107.4v2.2h-107.4zM128.3 364h13.6v2.2h-13.6zM88.1 366h27v2.2h-27zM128.3 366h80.6v2.2h-80.6zM155.1 368h13.6v2.2h-13.6zM155.1 370h13.6v2.2h-13.6zM88.1 372h13.6v2.2h-13.6zM114.9 372h13.6v2.2h-13.6zM141.7 372h13.6v2.2h-13.6zM181.8 372h27v2.2h-27zM128.3 374h27v2.2h-27zM101.5 378h13.6v2.2h-13.6zM128.3 378h13.6v2.2h-13.6zM155.1 378h27v2.2h-27zM101.5 380h27v2.2h-27zM141.7 380h27v2.2h-27zM181.8 380h27v2.2h-27zM101.5 381.9h27v2.2h-27zM141.7 381.9h13.6v2.2h-13.6zM168.4 381.9h40.4v2.2h-40.4zM88.1 385.9h40.4v2.2h-40.4zM155.1 385.9h13.6v2.2h-13.6zM114.9 387.9h40.4v2.2h-40.4zM195.2 387.9h13.6v2.2h-13.6zM101.5 391.9h13.6v2.2h-13.6zM128.3 391.9h13.6v2.2h-13.6zM155.1 391.9h27v2.2h-27zM88.1 393.9h53.8v2.2h-53.8zM168.4 393.9h13.6v2.2h-13.6zM195.2 393.9h13.6v2.2h-13.6zM114.9 395.9h94v2.2h-94zM88.1 399.9h67.2v2.2h-67.2zM181.8 399.9h27v2.2h-27zM101.5 403.9h27v2.2h-27zM88.1 409.9h13.6v2.2h-13.6zM114.9 409.9h13.6v2.2h-13.6zM155.1 409.9h27v2.2h-27zM195.2 409.9h13.6v2.2h-13.6zM114.9 413.9h40.4v2.2h-40.4zM88.1 423.9h13.6v2.2h-13.6zM195.2 423.9h13.6v2.2h-13.6zM88.1 427.9h13.6v2.2h-13.6zM114.9 427.9h27v2.2h-27zM155.1 427.9h53.8v2.2h-53.8zM88.1 437.9h13.6v2.2h-13.6zM141.7 437.9h13.6v2.2h-13.6zM181.8 437.9h13.6v2.2h-13.6zM114.9 439.9h13.6v2.2h-13.6zM141.7 439.9h13.6v2.2h-13.6zM195.2 439.9h13.6v2.2h-13.6zM88.1 441.9h80.6v2.2h-80.6zM195.2 441.9h13.6v2.2h-13.6zM88.1 443.9h13.6v2.2h-13.6zM141.7 443.9h13.6v2.2h-13.6zM114.9 449.9h40.4v2.2h-40.4zM168.4 449.9h13.6v2.2h-13.6zM88.1 453.9h27v2.2h-27zM141.7 453.9h13.6v2.2h-13.6zM88.1 455.9h120.8v2.2h-120.8zM101.5 457.9h40.4v2.2h-40.4zM155.1 457.9h40.4v2.2h-40.4zM88.1 459.9h27v2.2h-27zM128.3 459.9h80.6v2.2h-80.6zM88.1 461.9h80.6v2.2h-80.6zM181.8 461.9h27v2.2h-27zM88.1 465.9h13.6v2.2h-13.6zM128.3 465.9h13.6v2.2h-13.6zM155.1 465.9h13.6v2.2h-13.6zM195.2 465.9h13.6v2.2h-13.6zM114.9 467.9h40.4v2.2h-40.4zM181.8 467.9h27v2.2h-27zM101.5 469.9h40.4v2.2h-40.4zM155.1 469.9h13.6v2.2h-13.6zM181.8 469.9h13.6v2.2h-13.6zM101.5 473.9h40.4v2.2h-40.4zM155.1 473.9h40.4v2.2h-40.4zM114.9 477.9h40.4v2.2h-40.4zM88.1 479.9h107.4v2.2h-107.4zM101.5 483.9h27v2.2h-27zM141.7 483.9h53.8v2.2h-53.8zM88.1 487.9h53.8v2.2h-53.8zM155.1 487.9h13.6v2.2h-13.6zM195.2 487.9h13.6v2.2h-13.6zM168.4 489.8h13.6v2.2h-13.6zM195.2 489.8h13.6v2.2h-13.6zM88.1 491.8h13.6v2.2h-13.6zM88.1 493.8h40.4v2.2h-40.4zM141.7 493.8h67.2v2.2h-67.2zM101.5 497.8h27v2.2h-27zM141.7 497.8h27v2.2h-27zM181.8 497.8h27v2.2h-27zM155.1 507.8h13.6v2.2h-13.6zM88.1 509.8h13.6v2.2h-13.6zM114.9 509.8h40.4v2.2h-40.4zM168.4 509.8h40.4v2.2h-40.4zM88.1 511.8h13.6v2.2h-13.6zM114.9 511.8h40.4v2.2h-40.4zM168.4 511.8h13.6v2.2h-13.6zM88.1 513.8h53.8v2.2h-53.8zM155.1 513.8h53.8v2.2h-53.8zM114.9 515.8h67.2v2.2h-67.2zM88.1 517.8h27v2.2h-27zM128.3 517.8h80.6v2.2h-80.6zM114.9 519.8h13.6v2.2h-13.6zM195.2 519.8h13.6v2.2h-13.6zM88.1 521.8h13.6v2.2h-13.6zM114.9 521.8h40.4v2.2h-40.4zM195.2 521.8h13.6v2.2h-13.6zM114.9 523.8h27v2.2h-27zM168.4 523.8h13.6v2.2h-13.6zM195.2 523.8h13.6v2.2h-13.6zM88.1 525.8h13.6v2.2h-13.6zM128.3 525.8h80.6v2.2h-80.6zM88.1 527.8h53.8v2.2h-53.8zM155.1 527.8h40.4v2.2h-40.4zM128.3 531.8h13.6v2.2h-13.6zM195.2 531.8h13.6v2.2h-13.6zM88.1 533.8h13.6v2.2h-13.6zM141.7 533.8h13.6v2.2h-13.6zM168.4 533.8h13.6v2.2h-13.6zM195.2 533.8h13.6v2.2h-13.6zM88.1 535.8h13.6v2.2h-13.6zM155.1 537.8h13.6v2.2h-13.6zM114.9 539.8h13.6v2.2h-13.6zM141.7 539.8h13.6v2.2h-13.6z" fill="#78a2fc" shape-rendering="crispEdges"/>
<path d="M208.6 330h13.6v2.2h-13.6zM208.6 340h13.6v2.2h-13.6zM275.2 391.9h13.6v2.2h-13.6zM222 395.9h13.6v2.2h-13.6zM222 397.9h13.6v2.2h-13.6zM275.2 399.9h13.6v2.2h-13.6zM275.2 403.9h13.6v2.2h-13.6zM275.2 405.9h13.6v2.2h-13.6zM208.6 409.9h13.6v2.2h-13.6zM208.6 433.9h13.6v2.2h-13.6zM208.6 443.9h13.6v2.2h-13.6zM248.6 467.9h13.6v2.2h-13.6zM208.6 469.9h13.6v2.2h-13.6zM208.6 487.9h13.6v2.2h-13.6zM208.6 489.8h13.6v2.2h-13.6zM208.6 503.8h13.6v2.2h-13.6zM208.6 523.8h13.6v2.2h-13.6zM208.6 537.8h13.6v2.2h-13.6z" fill="#ccd8ea" shape-rendering="crispEdges"/>
<path d="M222 330h13.6v2.2h-13.6zM261.9 332h13.6v2.2h-13.6zM261.9 334h13.6v2.2h-13.6zM288.6 334h13.6v2.2h-13.6zM288.6 338h13.6v2.2h-13.6zM301.9 340h13.6v2.2h-13.6zM222 350h13.6v2.2h-13.6zM248.6 350h13.6v2.2h-13.6zM222 352h13.6v2.2h-13.6zM248.6 354h13.6v2.2h-13.6zM222 356h13.6v2.2h-13.6zM248.6 356h13.6v2.2h-13.6zM248.6 358h13.6v2.2h-13.6zM248.6 364h13.6v2.2h-13.6zM248.6 366h13.6v2.2h-13.6zM301.9 368h13.6v2.2h-13.6zM248.6 372h26.9v2.2h-26.9zM288.6 381.9h13.6v2.2h-13.6zM208.6 385.9h13.6v2.2h-13.6zM208.6 387.9h13.6v2.2h-13.6zM275.2 387.9h13.6v2.2h-13.6zM261.9 389.9h13.6v2.2h-13.6zM261.9 391.9h13.6v2.2h-13.6zM261.9 393.9h13.6v2.2h-13.6zM208.6 397.9h13.6v2.2h-13.6zM248.6 401.9h13.6v2.2h-13.6zM261.9 403.9h13.6v2.2h-13.6zM261.9 405.9h13.6v2.2h-13.6zM301.9 407.9h13.6v2.2h-13.6zM248.6 411.9h13.6v2.2h-13.6zM301.9 415.9h13.6v2.2h-13.6zM222 441.9h13.6v2.2h-13.6zM301.9 441.9h13.6v2.2h-13.6zM222 443.9h13.6v2.2h-13.6zM275.2 443.9h13.6v2.2h-13.6zM222 447.9h13.6v2.2h-13.6zM248.6 447.9h26.9v2.2h-26.9zM275.2 449.9h13.6v2.2h-13.6zM261.9 451.9h13.6v2.2h-13.6zM288.6 453.9h13.6v2.2h-13.6zM248.6 457.9h13.6v2.2h-13.6zM248.6 459.9h13.6v2.2h-13.6zM275.2 467.9h13.6v2.2h-13.6zM301.9 471.9h13.6v2.2h-13.6zM248.6 473.9h13.6v2.2h-13.6zM222 481.9h13.6v2.2h-13.6zM248.6 481.9h13.6v2.2h-13.6zM275.2 483.9h13.6v2.2h-13.6zM248.6 485.9h13.6v2.2h-13.6zM301.9 485.9h13.6v2.2h-13.6zM288.6 487.9h13.6v2.2h-13.6zM288.6 489.8h13.6v2.2h-13.6zM248.6 491.8h13.6v2.2h-13.6zM222 493.8h13.6v2.2h-13.6zM275.2 493.8h13.6v2.2h-13.6zM275.2 495.8h13.6v2.2h-13.6zM222 497.8h13.6v2.2h-13.6zM301.9 503.8h13.6v2.2h-13.6zM275.2 509.8h13.6v2.2h-13.6zM261.9 523.8h40.2v2.2h-40.2zM301.9 533.8h13.6v2.2h-13.6zM301.9 535.8h13.6v2.2h-13.6zM261.9 537.8h13.6v2.2h-13.6zM275.2 541.8h13.6v2.2h-13.6z" fill="#f6ae96" shape-rendering="crispEdges"/>
<path d="M235.3 330h13.6v2.2h-13.6zM235.3 358h13.6v2.2h-13.6zM235.3 366h13.6v2.2h-13.6zM235.3 393.9h13.6v2.2h-13.6zM235.3 427.9h13.6v2.2h-13.6zM235.3 443.9h13.6v2.2h-13.6zM235.3 455.9h13.6v2.2h-13.6zM235.3 485.9h13.6v2.2h-13.6zM235.3 531.8h13.6v2.2h-13.6z" fill="#f07860" shape-rendering="crispEdges"/>
<path d="M248.6 330h13.6v2.2h-13.6zM248.6 340h13.6v2.2h-13.6zM261.9 358h13.6v2.2h-13.6z" fill="#9cbafc" shape-rendering="crispEdges"/>
<path d="M261.9 330h13.6v2.2h-13.6zM101.5 334h13.6v2.2h-13.6zM222 409.9h13.6v2.2h-13.6zM208.6 517.8h13.6v2.2h-13.6zM248.6 539.8h13.6v2.2h-13.6z" fill="#aeccf6" shape-rendering="crispEdges"/>
<path d="M275.2 330h13.6v2.2h-13.6zM235.3 334h13.6v2.2h-13.6zM222 344h13.6v2.2h-13.6zM261.9 344h13.6v2.2h-13.6zM288.6 346h13.6v2.2h-13.6zM248.6 348h13.6v2.2h-13.6zM288.6 348h13.6v2.2h-13.6zM261.9 350h13.6v2.2h-13.6zM275.2 358h13.6v2.2h-13.6zM301.9 364h13.6v2.2h-13.6zM248.6 370h13.6v2.2h-13.6zM275.2 372h13.6v2.2h-13.6zM275.2 380h13.6v2.2h-13.6zM248.6 395.9h13.6v2.2h-13.6zM222 411.9h13.6v2.2h-13.6zM208.6 413.9h27v2.2h-27zM222 415.9h13.6v2.2h-13.6zM222 417.9h13.6v2.2h-13.6zM261.9 419.9h13.6v2.2h-13.6zM261.9 421.9h13.6v2.2h-13.6zM248.6 423.9h13.6v2.2h-13.6zM275.2 423.9h26.9v2.2h-26.9zM208.6 425.9h13.6v2.2h-13.6zM288.6 425.9h13.6v2.2h-13.6zM248.6 427.9h13.6v2.2h-13.6zM275.2 453.9h13.6v2.2h-13.6zM261.9 457.9h13.6v2.2h-13.6zM222 459.9h13.6v2.2h-13.6zM275.2 459.9h13.6v2.2h-13.6zM301.9 459.9h13.6v2.2h-13.6zM301.9 465.9h13.6v2.2h-13.6zM301.9 469.9h13.6v2.2h-13.6zM261.9 471.9h13.6v2.2h-13.6zM222 473.9h13.6v2.2h-13.6zM222 479.9h13.6v2.2h-13.6zM248.6 479.9h13.6v2.2h-13.6zM248.6 489.8h13.6v2.2h-13.6zM275.2 491.8h13.6v2.2h-13.6zM248.6 499.8h13.6v2.2h-13.6zM275.2 499.8h13.6v2.2h-13.6zM301.9 501.8h13.6v2.2h-13.6zM275.2 503.8h13.6v2.2h-13.6zM261.9 505.8h13.6v2.2h-13.6zM275.2 507.8h13.6v2.2h-13.6zM288.6 509.8h13.6v2.2h-13.6zM248.6 525.8h13.6v2.2h-13.6zM248.6 531.8h13.6v2.2h-13.6zM288.6 531.8h13.6v2.2h-13.6zM275.2 537.8h13.6v2.2h-13.6zM261.9 539.8h13.6v2.2h-13.6z" fill="#f6a890" shape-rendering="crispEdges"/>
<path d="M288.6 330h13.6v2.2h-13.6zM275.2 336h26.9v2.2h-26.9zM301.9 344h13.6v2.2h-13.6zM301.9 348h13.6v2.2h-13.6zM275.2 354h13.6v2.2h-13.6zM222 360h13.6v2.2h-13.6zM261.9 368h26.9v2.2h-26.9zM248.6 385.9h13.6v2.2h-13.6zM208.6 389.9h13.6v2.2h-13.6zM301.9 393.9h13.6v2.2h-13.6zM301.9 397.9h13.6v2.2h-13.6zM261.9 409.9h13.6v2.2h-13.6zM248.6 413.9h13.6v2.2h-13.6zM275.2 413.9h26.9v2.2h-26.9zM275.2 415.9h13.6v2.2h-13.6zM261.9 417.9h40.2v2.2h-40.2zM248.6 419.9h13.6v2.2h-13.6zM288.6 419.9h13.6v2.2h-13.6zM222 423.9h13.6v2.2h-13.6zM261.9 423.9h13.6v2.2h-13.6zM222 425.9h26.9v2.2h-26.9zM261.9 427.9h13.6v2.2h-13.6zM301.9 429.9h13.6v2.2h-13.6zM261.9 433.9h13.6v2.2h-13.6zM222 437.9h13.6v2.2h-13.6zM248.6 437.9h13.6v2.2h-13.6zM301.9 439.9h13.6v2.2h-13.6zM248.6 443.9h13.6v2.2h-13.6zM222 449.9h13.6v2.2h-13.6zM288.6 461.9h26.9v2.2h-26.9zM275.2 463.9h13.6v2.2h-13.6zM222 465.9h13.6v2.2h-13.6zM288.6 475.9h13.6v2.2h-13.6zM248.6 487.9h13.6v2.2h-13.6zM248.6 497.8h13.6v2.2h-13.6zM288.6 497.8h13.6v2.2h-13.6zM288.6 499.8h13.6v2.2h-13.6zM288.6 501.8h13.6v2.2h-13.6zM301.9 507.8h13.6v2.2h-13.6zM248.6 513.8h13.6v2.2h-13.6zM301.9 513.8h13.6v2.2h-13.6zM301.9 517.8h13.6v2.2h-13.6zM222 527.8h13.6v2.2h-13.6zM288.6 529.8h13.6v2.2h-13.6zM222 531.8h13.6v2.2h-13.6zM275.2 533.8h13.6v2.2h-13.6zM275.2 535.8h13.6v2.2h-13.6z" fill="#f6a28a" shape-rendering="crispEdges"/>
<path d="M301.9 330h13.6v2.2h-13.6z" fill="#cc1e2a" shape-rendering="crispEdges"/>
<path d="M208.6 332h13.6v2.2h-13.6zM208.6 376h13.6v2.2h-13.6zM248.6 391.9h13.6v2.2h-13.6zM208.6 499.8h13.6v2.2h-13.6zM235.3 541.8h13.6v2.2h-13.6z" fill="#c6d8ea" shape-rendering="crispEdges"/>
<path d="M222 332h13.6v2.2h-13.6zM261.9 342h13.6v2.2h-13.6zM275.2 360h13.6v2.2h-13.6zM261.9 364h13.6v2.2h-13.6zM208.6 393.9h13.6v2.2h-13.6zM288.6 397.9h13.6v2.2h-13.6zM288.6 405.9h13.6v2.2h-13.6zM222 427.9h13.6v2.2h-13.6zM301.9 437.9h13.6v2.2h-13.6zM222 439.9h13.6v2.2h-13.6zM248.6 449.9h13.6v2.2h-13.6zM288.6 457.9h13.6v2.2h-13.6zM275.2 465.9h13.6v2.2h-13.6zM288.6 473.9h13.6v2.2h-13.6zM275.2 481.9h26.9v2.2h-26.9zM301.9 493.8h13.6v2.2h-13.6zM301.9 499.8h13.6v2.2h-13.6zM261.9 501.8h13.6v2.2h-13.6zM222 511.8h13.6v2.2h-13.6zM222 515.8h13.6v2.2h-13.6zM248.6 515.8h13.6v2.2h-13.6zM248.6 521.8h13.6v2.2h-13.6zM288.6 525.8h13.6v2.2h-13.6zM288.6 527.8h13.6v2.2h-13.6zM261.9 529.8h13.6v2.2h-13.6zM288.6 535.8h13.6v2.2h-13.6z" fill="#f6baa2" shape-rendering="crispEdges"/>
<path d="M235.3 332h13.6v2.2h-13.6zM222 338h13.6v2.2h-13.6zM301.9 401.9h13.6v2.2h-13.6zM235.3 429.9h13.6v2.2h-13.6zM235.3 517.8h13.6v2.2h-13.6z" fill="#f68a72" shape-rendering="crispEdges"/>
<path d="M275.2 332h13.6v2.2h-13.6zM275.2 364h13.6v2.2h-13.6zM248.6 376h13.6v2.2h-13.6zM301.9 376h13.6v2.2h-13.6zM275.2 385.9h13.6v2.2h-13.6zM261.9 431.9h13.6v2.2h-13.6zM275.2 439.9h13.6v2.2h-13.6zM248.6 445.9h13.6v2.2h-13.6zM235.3 473.9h13.6v2.2h-13.6zM275.2 473.9h13.6v2.2h-13.6z" fill="#f69678" shape-rendering="crispEdges"/>
<path d="M288.6 332h13.6v2.2h-13.6zM208.6 334h13.6v2.2h-13.6zM222 336h13.6v2.2h-13.6zM261.9 338h13.6v2.2h-13.6zM261.9 340h40.2v2.2h-40.2zM261.9 348h13.6v2.2h-13.6zM248.6 352h13.6v2.2h-13.6zM222 358h13.6v2.2h-13.6zM275.2 362h13.6v2.2h-13.6zM288.6 364h13.6v2.2h-13.6zM275.2 366h13.6v2.2h-13.6zM248.6 374h13.6v2.2h-13.6zM301.9 374h13.6v2.2h-13.6zM261.9 376h13.6v2.2h-13.6zM275.2 378h13.6v2.2h-13.6zM261.9 381.9h13.6v2.2h-13.6zM248.6 399.9h26.9v2.2h-26.9zM301.9 399.9h13.6v2.2h-13.6zM248.6 403.9h13.6v2.2h-13.6zM288.6 403.9h13.6v2.2h-13.6zM301.9 425.9h13.6v2.2h-13.6zM275.2 427.9h13.6v2.2h-13.6zM248.6 429.9h13.6v2.2h-13.6zM248.6 431.9h13.6v2.2h-13.6zM248.6 433.9h13.6v2.2h-13.6zM222 435.9h13.6v2.2h-13.6zM261.9 435.9h13.6v2.2h-13.6zM248.6 439.9h13.6v2.2h-13.6zM261.9 443.9h13.6v2.2h-13.6zM222 445.9h13.6v2.2h-13.6zM275.2 445.9h13.6v2.2h-13.6zM301.9 445.9h13.6v2.2h-13.6zM261.9 449.9h13.6v2.2h-13.6zM248.6 451.9h13.6v2.2h-13.6zM301.9 451.9h13.6v2.2h-13.6zM248.6 453.9h13.6v2.2h-13.6zM301.9 453.9h13.6v2.2h-13.6zM261.9 463.9h13.6v2.2h-13.6zM261.9 467.9h13.6v2.2h-13.6zM288.6 467.9h13.6v2.2h-13.6zM288.6 471.9h13.6v2.2h-13.6zM275.2 475.9h13.6v2.2h-13.6zM222 477.9h13.6v2.2h-13.6zM275.2 477.9h13.6v2.2h-13.6zM288.6 479.9h13.6v2.2h-13.6zM301.9 487.9h13.6v2.2h-13.6zM288.6 493.8h13.6v2.2h-13.6zM261.9 499.8h13.6v2.2h-13.6zM275.2 501.8h13.6v2.2h-13.6zM222 503.8h13.6v2.2h-13.6zM248.6 503.8h13.6v2.2h-13.6zM288.6 503.8h13.6v2.2h-13.6zM275.2 511.8h26.9v2.2h-26.9zM288.6 517.8h13.6v2.2h-13.6zM248.6 519.8h13.6v2.2h-13.6zM275.2 519.8h26.9v2.2h-26.9zM222 525.8h13.6v2.2h-13.6zM301.9 527.8h13.6v2.2h-13.6zM261.9 535.8h13.6v2.2h-13.6zM248.6 537.8h13.6v2.2h-13.6zM261.9 541.8h13.6v2.2h-13.6z" fill="#f6b49c" shape-rendering="crispEdges"/>
<path d="M301.9 332h13.6v2.2h-13.6zM301.9 358h13.6v2.2h-13.6zM301.9 362h13.6v2.2h-13.6zM261.9 366h13.6v2.2h-13.6zM301.9 366h13.6v2.2h-13.6zM275.2 419.9h13.6v2.2h-13.6zM288.6 421.9h13.6v2.2h-13.6zM275.2 429.9h13.6v2.2h-13.6zM275.2 455.9h13.6v2.2h-13.6zM248.6 495.8h13.6v2.2h-13.6zM275.2 505.8h13.6v2.2h-13.6zM275.2 521.8h26.9v2.2h-26.9zM248.6 523.8h13.6v2.2h-13.6zM288.6 533.8h13.6v2.2h-13.6z" fill="#f69c7e" shape-rendering="crispEdges"/>
<path d="M88.1 334h13.6v2.2h-13.6zM195.2 415.9h13.6v2.2h-13.6zM195.2 535.8h13.6v2.2h-13.6z" fill="#547eea" shape-rendering="crispEdges"/>
<path d="M128.3 334h13.6v2.2h-13.6zM208.6 383.9h13.6v2.2h-13.6zM222 387.9h13.6v2.2h-13.6zM222 393.9h13.6v2.2h-13.6zM114.9 415.9h13.6v2.2h-13.6zM208.6 427.9h13.6v2.2h-13.6zM208.6 431.9h13.6v2.2h-13.6zM208.6 447.9h13.6v2.2h-13.6zM208.6 453.9h13.6v2.2h-13.6zM208.6 467.9h13.6v2.2h-13.6zM208.6 471.9h13.6v2.2h-13.6zM261.9 477.9h13.6v2.2h-13.6z" fill="#b4ccf6" shape-rendering="crispEdges"/>
<path d="M141.7 334h40.4v2.2h-40.4zM141.7 415.9h27v2.2h-27z" fill="#5a84f0" shape-rendering="crispEdges"/>
<path d="M181.8 334h13.6v2.2h-13.6zM168.4 336h13.6v2.2h-13.6zM248.6 342h13.6v2.2h-13.6zM114.9 344h94v2.2h-94zM141.7 350h27v2.2h-27zM222 362h13.6v2.2h-13.6zM222 366h13.6v2.2h-13.6zM88.1 370h40.4v2.2h-40.4zM168.4 370h13.6v2.2h-13.6zM101.5 374h27v2.2h-27zM155.1 374h53.8v2.2h-53.8zM141.7 378h13.6v2.2h-13.6zM222 380h13.6v2.2h-13.6zM88.1 389.9h53.8v2.2h-53.8zM155.1 389.9h53.8v2.2h-53.8zM155.1 417.9h27v2.2h-27zM88.1 433.9h27v2.2h-27zM141.7 433.9h67.2v2.2h-67.2zM128.3 439.9h13.6v2.2h-13.6zM155.1 439.9h13.6v2.2h-13.6zM195.2 457.9h13.6v2.2h-13.6zM141.7 469.9h13.6v2.2h-13.6zM88.1 473.9h13.6v2.2h-13.6zM114.9 481.9h94v2.2h-94zM181.8 487.9h13.6v2.2h-13.6zM114.9 491.8h13.6v2.2h-13.6zM155.1 491.8h27v2.2h-27zM128.3 497.8h13.6v2.2h-13.6zM155.1 509.8h13.6v2.2h-13.6zM141.7 513.8h13.6v2.2h-13.6zM101.5 521.8h13.6v2.2h-13.6zM101.5 535.8h27v2.2h-27zM128.3 537.8h13.6v2.2h-13.6zM195.2 537.8h13.6v2.2h-13.6z" fill="#7ea8fc" shape-rendering="crispEdges"/>
<path d="M195.2 334h13.6v2.2h-13.6zM208.6 515.8h13.6v2.2h-13.6z" fill="#a8c0f6" shape-rendering="crispEdges"/>
<path d="M222 334h13.6v2.2h-13.6zM248.6 362h13.6v2.2h-13.6zM261.9 374h13.6v2.2h-13.6zM275.2 376h13.6v2.2h-13.6zM275.2 381.9h13.6v2.2h-13.6zM261.9 401.9h13.6v2.2h-13.6zM288.6 407.9h13.6v2.2h-13.6zM301.9 411.9h13.6v2.2h-13.6zM301.9 413.9h13.6v2.2h-13.6zM275.2 437.9h13.6v2.2h-13.6zM261.9 455.9h13.6v2.2h-13.6zM261.9 459.9h13.6v2.2h-13.6zM248.6 475.9h13.6v2.2h-13.6zM275.2 487.9h13.6v2.2h-13.6zM222 499.8h13.6v2.2h-13.6zM222 513.8h13.6v2.2h-13.6zM248.6 527.8h13.6v2.2h-13.6zM222 529.8h13.6v2.2h-13.6zM301.9 537.8h13.6v2.2h-13.6z" fill="#f6ae90" shape-rendering="crispEdges"/>
<path d="M275.2 334h13.6v2.2h-13.6zM222 340h13.6v2.2h-13.6zM261.9 346h13.6v2.2h-13.6zM288.6 366h13.6v2.2h-13.6zM288.6 368h13.6v2.2h-13.6zM288.6 387.9h13.6v2.2h-13.6zM261.9 397.9h13.6v2.2h-13.6zM248.6 405.9h13.6v2.2h-13.6zM261.9 437.9h13.6v2.2h-13.6zM248.6 477.9h13.6v2.2h-13.6zM261.9 503.8h13.6v2.2h-13.6zM275.2 515.8h13.6v2.2h-13.6zM248.6 517.8h13.6v2.2h-13.6zM222 519.8h13.6v2.2h-13.6zM261.9 527.8h13.6v2.2h-13.6zM248.6 535.8h13.6v2.2h-13.6z" fill="#f6b4a2" shape-rendering="crispEdges"/>
<path d="M301.9 334h13.6v2.2h-13.6zM288.6 385.9h13.6v2.2h-13.6zM235.3 431.9h13.6v2.2h-13.6zM261.9 441.9h13.6v2.2h-13.6zM301.9 455.9h13.6v2.2h-13.6zM301.9 505.8h13.6v2.2h-13.6zM301.9 519.8h13.6v2.2h-13.6z" fill="#f69078" shape-rendering="crispEdges"/>
<path d="M208.6 336h13.6v2.2h-13.6zM288.6 399.9h13.6v2.2h-13.6zM261.9 483.9h13.6v2.2h-13.6zM288.6 515.8h13.6v2.2h-13.6z" fill="#f6c6ae" shape-rendering="crispEdges"/>
<path d="M235.3 336h13.6v2.2h-13.6zM235.3 342h13.6v2.2h-13.6zM301.9 391.9h13.6v2.2h-13.6zM235.3 435.9h13.6v2.2h-13.6zM235.3 511.8h13.6v2.2h-13.6z" fill="#ea6654" shape-rendering="crispEdges"/>
<path d="M261.9 336h13.6v2.2h-13.6zM288.6 376h13.6v2.2h-13.6zM248.6 380h13.6v2.2h-13.6zM248.6 381.9h13.6v2.2h-13.6zM288.6 389.9h13.6v2.2h-13.6zM288.6 393.9h13.6v2.2h-13.6zM301.9 449.9h13.6v2.2h-13.6zM275.2 471.9h13.6v2.2h-13.6zM288.6 507.8h13.6v2.2h-13.6zM248.6 511.8h13.6v2.2h-13.6zM261.9 533.8h13.6v2.2h-13.6z" fill="#f6c0a8" shape-rendering="crispEdges"/>
<path d="M301.9 336h13.6v2.2h-13.6zM301.9 342h13.6v2.2h-13.6zM288.6 344h13.6v2.2h-13.6zM301.9 346h13.6v2.2h-13.6zM275.2 356h13.6v2.2h-13.6zM301.9 405.9h13.6v2.2h-13.6zM248.6 407.9h13.6v2.2h-13.6zM235.3 413.9h13.6v2.2h-13.6zM222 429.9h13.6v2.2h-13.6zM261.9 439.9h13.6v2.2h-13.6zM248.6 441.9h13.6v2.2h-13.6zM301.9 457.9h13.6v2.2h-13.6zM222 461.9h13.6v2.2h-13.6zM301.9 463.9h13.6v2.2h-13.6zM275.2 497.8h13.6v2.2h-13.6zM248.6 501.8h13.6v2.2h-13.6zM248.6 507.8h13.6v2.2h-13.6zM301.9 509.8h13.6v2.2h-13.6zM222 523.8h13.6v2.2h-13.6zM235.3 529.8h13.6v2.2h-13.6zM261.9 531.8h13.6v2.2h-13.6zM248.6 533.8h13.6v2.2h-13.6zM222 535.8h13.6v2.2h-13.6z" fill="#f6967e" shape-rendering="crispEdges"/>
<path d="M88.1 338h13.6v2.2h-13.6zM114.9 338h13.6v2.2h-13.6zM168.4 338h13.6v2.2h-13.6zM195.2 338h13.6v2.2h-13.6zM248.6 338h13.6v2.2h-13.6zM88.1 348h27v2.2h-27zM155.1 348h13.6v2.2h-13.6zM141.7 352h13.6v2.2h-13.6zM181.8 352h27v2.2h-27zM168.4 364h27v2.2h-27zM222 378h13.6v2.2h-13.6zM88.1 383.9h13.6v2.2h-13.6zM114.9 383.9h13.6v2.2h-13.6zM168.4 383.9h13.6v2.2h-13.6zM195.2 383.9h13.6v2.2h-13.6zM88.1 397.9h40.4v2.2h-40.4zM168.4 397.9h40.4v2.2h-40.4zM88.1 401.9h120.8v2.2h-120.8zM128.3 403.9h13.6v2.2h-13.6zM155.1 403.9h13.6v2.2h-13.6zM195.2 403.9h13.6v2.2h-13.6zM88.1 405.9h53.8v2.2h-53.8zM155.1 405.9h40.4v2.2h-40.4zM88.1 407.9h13.6v2.2h-13.6zM114.9 407.9h13.6v2.2h-13.6zM195.2 407.9h13.6v2.2h-13.6zM88.1 411.9h13.6v2.2h-13.6zM114.9 411.9h27v2.2h-27zM155.1 411.9h13.6v2.2h-13.6zM195.2 411.9h13.6v2.2h-13.6zM88.1 417.9h27v2.2h-27zM128.3 417.9h13.6v2.2h-13.6zM88.1 419.9h53.8v2.2h-53.8zM168.4 419.9h13.6v2.2h-13.6zM88.1 425.9h27v2.2h-27zM128.3 425.9h67.2v2.2h-67.2zM88.1 429.9h27v2.2h-27zM128.3 429.9h27v2.2h-27zM168.4 429.9h13.6v2.2h-13.6zM195.2 429.9h13.6v2.2h-13.6zM88.1 431.9h67.2v2.2h-67.2zM168.4 431.9h40.4v2.2h-40.4zM101.5 435.9h13.6v2.2h-13.6zM168.4 435.9h13.6v2.2h-13.6zM88.1 471.9h94v2.2h-94zM195.2 471.9h13.6v2.2h-13.6zM141.7 475.9h13.6v2.2h-13.6zM181.8 475.9h13.6v2.2h-13.6zM88.1 485.9h13.6v2.2h-13.6zM114.9 485.9h27v2.2h-27zM155.1 485.9h13.6v2.2h-13.6zM181.8 485.9h27v2.2h-27zM88.1 499.8h67.2v2.2h-67.2zM181.8 499.8h27v2.2h-27zM88.1 501.8h13.6v2.2h-13.6zM114.9 501.8h27v2.2h-27zM181.8 501.8h13.6v2.2h-13.6zM101.5 503.8h13.6v2.2h-13.6zM141.7 503.8h13.6v2.2h-13.6zM88.1 505.8h27v2.2h-27zM128.3 505.8h80.6v2.2h-80.6zM88.1 507.8h13.6v2.2h-13.6zM101.5 519.8h13.6v2.2h-13.6zM168.4 531.8h13.6v2.2h-13.6zM181.8 537.8h13.6v2.2h-13.6z" fill="#729cfc" shape-rendering="crispEdges"/>
<path d="M208.6 338h13.6v2.2h-13.6zM208.6 352h13.6v2.2h-13.6zM208.6 358h13.6v2.2h-13.6zM208.6 374h13.6v2.2h-13.6zM222 383.9h13.6v2.2h-13.6zM208.6 451.9h13.6v2.2h-13.6zM208.6 461.9h13.6v2.2h-13.6zM208.6 485.9h13.6v2.2h-13.6zM208.6 497.8h13.6v2.2h-13.6zM208.6 535.8h13.6v2.2h-13.6zM235.3 539.8h13.6v2.2h-13.6z" fill="#c0d2f0" shape-rendering="crispEdges"/>
<path d="M235.3 340h13.6v2.2h-13.6zM235.3 346h13.6v2.2h-13.6zM235.3 389.9h13.6v2.2h-13.6zM235.3 437.9h13.6v2.2h-13.6zM235.3 453.9h13.6v2.2h-13.6zM235.3 465.9h13.6v2.2h-13.6zM235.3 469.9h13.6v2.2h-13.6zM235.3 475.9h13.6v2.2h-13.6zM235.3 489.8h13.6v2.2h-13.6zM301.9 529.8h13.6v2.2h-13.6z" fill="#f07e66" shape-rendering="crispEdges"/>
<path d="M208.6 342h13.6v2.2h-13.6zM208.6 360h13.6v2.2h-13.6zM208.6 372h13.6v2.2h-13.6zM208.6 380h13.6v2.2h-13.6zM222 391.9h13.6v2.2h-13.6zM222 407.9h13.6v2.2h-13.6zM208.6 445.9h13.6v2.2h-13.6zM208.6 477.9h13.6v2.2h-13.6zM208.6 521.8h13.6v2.2h-13.6zM248.6 541.8h13.6v2.2h-13.6z" fill="#baccf0" shape-rendering="crispEdges"/>
<path d="M275.2 342h13.6v2.2h-13.6zM222 346h13.6v2.2h-13.6zM275.2 346h13.6v2.2h-13.6zM275.2 350h13.6v2.2h-13.6zM248.6 368h13.6v2.2h-13.6zM275.2 370h13.6v2.2h-13.6zM261.9 378h13.6v2.2h-13.6zM275.2 389.9h13.6v2.2h-13.6zM248.6 393.9h13.6v2.2h-13.6zM301.9 395.9h13.6v2.2h-13.6zM275.2 411.9h13.6v2.2h-13.6zM208.6 415.9h13.6v2.2h-13.6zM235.3 415.9h26.9v2.2h-26.9zM288.6 415.9h13.6v2.2h-13.6zM235.3 417.9h13.6v2.2h-13.6zM222 419.9h13.6v2.2h-13.6zM275.2 421.9h13.6v2.2h-13.6zM301.9 421.9h13.6v2.2h-13.6zM208.6 423.9h13.6v2.2h-13.6zM222 433.9h13.6v2.2h-13.6zM301.9 435.9h13.6v2.2h-13.6zM261.9 453.9h13.6v2.2h-13.6zM222 463.9h13.6v2.2h-13.6zM222 467.9h13.6v2.2h-13.6zM275.2 479.9h13.6v2.2h-13.6zM275.2 485.9h13.6v2.2h-13.6zM275.2 489.8h13.6v2.2h-13.6zM222 505.8h13.6v2.2h-13.6zM222 509.8h13.6v2.2h-13.6zM275.2 517.8h13.6v2.2h-13.6zM301.9 521.8h13.6v2.2h-13.6zM301.9 531.8h13.6v2.2h-13.6z" fill="#f6a88a" shape-rendering="crispEdges"/>
<path d="M288.6 342h13.6v2.2h-13.6zM248.6 378h13.6v2.2h-13.6zM288.6 437.9h13.6v2.2h-13.6zM288.6 443.9h13.6v2.2h-13.6zM222 451.9h13.6v2.2h-13.6zM248.6 471.9h13.6v2.2h-13.6zM248.6 505.8h13.6v2.2h-13.6zM261.9 517.8h13.6v2.2h-13.6zM301.9 541.8h13.6v2.2h-13.6z" fill="#f0ccc0" shape-rendering="crispEdges"/>
<path d="M208.6 344h13.6v2.2h-13.6zM208.6 350h13.6v2.2h-13.6zM208.6 354h13.6v2.2h-13.6zM208.6 356h13.6v2.2h-13.6zM208.6 364h13.6v2.2h-13.6zM208.6 381.9h13.6v2.2h-13.6zM261.9 385.9h13.6v2.2h-13.6zM275.2 393.9h13.6v2.2h-13.6zM208.6 401.9h13.6v2.2h-13.6zM208.6 407.9h13.6v2.2h-13.6zM275.2 409.9h13.6v2.2h-13.6zM208.6 437.9h13.6v2.2h-13.6zM208.6 511.8h13.6v2.2h-13.6zM275.2 525.8h13.6v2.2h-13.6zM222 539.8h13.6v2.2h-13.6zM222 541.8h13.6v2.2h-13.6z" fill="#ded8d8" shape-rendering="crispEdges"/>
<path d="M248.6 344h13.6v2.2h-13.6zM248.6 346h13.6v2.2h-13.6zM288.6 350h13.6v2.2h-13.6zM261.9 356h13.6v2.2h-13.6zM261.9 473.9h13.6v2.2h-13.6z" fill="#a2c0fc" shape-rendering="crispEdges"/>
<path d="M208.6 348h13.6v2.2h-13.6zM208.6 362h13.6v2.2h-13.6zM208.6 366h13.6v2.2h-13.6zM208.6 378h13.6v2.2h-13.6zM261.9 383.9h13.6v2.2h-13.6zM222 385.9h13.6v2.2h-13.6zM275.2 397.9h13.6v2.2h-13.6zM222 405.9h13.6v2.2h-13.6zM275.2 407.9h13.6v2.2h-13.6zM288.6 431.9h13.6v2.2h-13.6zM208.6 435.9h13.6v2.2h-13.6zM288.6 441.9h13.6v2.2h-13.6zM288.6 451.9h13.6v2.2h-13.6zM208.6 475.9h13.6v2.2h-13.6zM208.6 479.9h13.6v2.2h-13.6zM208.6 483.9h13.6v2.2h-13.6zM222 485.9h13.6v2.2h-13.6zM208.6 509.8h13.6v2.2h-13.6zM208.6 513.8h13.6v2.2h-13.6zM208.6 519.8h13.6v2.2h-13.6zM208.6 527.8h13.6v2.2h-13.6zM208.6 529.8h13.6v2.2h-13.6zM208.6 533.8h13.6v2.2h-13.6z" fill="#d8d8de" shape-rendering="crispEdges"/>
<path d="M235.3 348h13.6v2.2h-13.6zM301.9 389.9h13.6v2.2h-13.6zM235.3 505.8h13.6v2.2h-13.6z" fill="#ea604e" shape-rendering="crispEdges"/>
<path d="M235.3 350h13.6v2.2h-13.6zM235.3 383.9h13.6v2.2h-13.6zM301.9 385.9h13.6v2.2h-13.6zM235.3 491.8h13.6v2.2h-13.6zM235.3 507.8h13.6v2.2h-13.6zM235.3 509.8h13.6v2.2h-13.6zM235.3 519.8h13.6v2.2h-13.6zM235.3 537.8h13.6v2.2h-13.6z" fill="#ea5a48" shape-rendering="crispEdges"/>
<path d="M235.3 352h13.6v2.2h-13.6zM235.3 385.9h13.6v2.2h-13.6zM235.3 387.9h13.6v2.2h-13.6zM301.9 433.9h13.6v2.2h-13.6zM235.3 479.9h13.6v2.2h-13.6zM235.3 481.9h13.6v2.2h-13.6zM235.3 487.9h13.6v2.2h-13.6zM235.3 525.8h13.6v2.2h-13.6zM301.9 525.8h13.6v2.2h-13.6z" fill="#f0846c" shape-rendering="crispEdges"/>
<path d="M275.2 352h26.9v2.2h-26.9zM288.6 378h26.9v2.2h-26.9zM261.9 380h13.6v2.2h-13.6zM275.2 383.9h13.6v2.2h-13.6zM288.6 391.9h13.6v2.2h-13.6zM288.6 409.9h13.6v2.2h-13.6zM261.9 413.9h13.6v2.2h-13.6zM261.9 415.9h13.6v2.2h-13.6zM208.6 417.9h13.6v2.2h-13.6zM235.3 419.9h13.6v2.2h-13.6zM301.9 419.9h13.6v2.2h-13.6zM222 421.9h26.9v2.2h-26.9zM235.3 423.9h13.6v2.2h-13.6zM275.2 431.9h13.6v2.2h-13.6zM301.9 443.9h13.6v2.2h-13.6zM261.9 445.9h13.6v2.2h-13.6zM275.2 451.9h13.6v2.2h-13.6zM288.6 463.9h13.6v2.2h-13.6zM301.9 467.9h13.6v2.2h-13.6zM261.9 469.9h13.6v2.2h-13.6zM222 471.9h13.6v2.2h-13.6zM222 475.9h13.6v2.2h-13.6zM301.9 481.9h13.6v2.2h-13.6zM288.6 483.9h13.6v2.2h-13.6zM301.9 489.8h13.6v2.2h-13.6zM248.6 493.8h13.6v2.2h-13.6zM301.9 495.8h13.6v2.2h-13.6zM222 501.8h13.6v2.2h-13.6zM222 533.8h13.6v2.2h-13.6zM288.6 537.8h13.6v2.2h-13.6z" fill="#f69c84" shape-rendering="crispEdges"/>
<path d="M222 354h13.6v2.2h-13.6zM301.9 360h13.6v2.2h-13.6zM288.6 370h13.6v2.2h-13.6zM288.6 374h13.6v2.2h-13.6zM288.6 395.9h13.6v2.2h-13.6zM248.6 397.9h13.6v2.2h-13.6zM261.9 461.9h13.6v2.2h-13.6zM288.6 477.9h13.6v2.2h-13.6zM248.6 483.9h13.6v2.2h-13.6zM288.6 485.9h13.6v2.2h-13.6zM288.6 491.8h13.6v2.2h-13.6zM301.9 497.8h13.6v2.2h-13.6zM288.6 505.8h13.6v2.2h-13.6zM261.9 525.8h13.6v2.2h-13.6zM248.6 529.8h13.6v2.2h-13.6zM222 537.8h13.6v2.2h-13.6z" fill="#f6baa8" shape-rendering="crispEdges"/>
<path d="M235.3 354h13.6v2.2h-13.6zM235.3 360h13.6v2.2h-13.6zM235.3 433.9h13.6v2.2h-13.6zM235.3 477.9h13.6v2.2h-13.6zM301.9 511.8h13.6v2.2h-13.6zM235.3 513.8h13.6v2.2h-13.6z" fill="#f68a6c" shape-rendering="crispEdges"/>
<path d="M261.9 354h13.6v2.2h-13.6zM301.9 383.9h13.6v2.2h-13.6zM235.3 459.9h13.6v2.2h-13.6zM301.9 479.9h13.6v2.2h-13.6zM235.3 483.9h13.6v2.2h-13.6zM208.6 539.8h13.6v2.2h-13.6z" fill="#e44e42" shape-rendering="crispEdges"/>
<path d="M288.6 354h13.6v2.2h-13.6zM288.6 372h13.6v2.2h-13.6zM248.6 383.9h13.6v2.2h-13.6zM288.6 469.9h13.6v2.2h-13.6zM301.9 539.8h13.6v2.2h-13.6z" fill="#f0ccba" shape-rendering="crispEdges"/>
<path d="M235.3 356h13.6v2.2h-13.6zM301.9 387.9h13.6v2.2h-13.6zM235.3 405.9h13.6v2.2h-13.6zM235.3 463.9h13.6v2.2h-13.6zM301.9 475.9h13.6v2.2h-13.6zM235.3 521.8h13.6v2.2h-13.6z" fill="#e45442" shape-rendering="crispEdges"/>
<path d="M288.6 356h13.6v2.2h-13.6zM288.6 358h13.6v2.2h-13.6zM208.6 395.9h13.6v2.2h-13.6zM261.9 429.9h13.6v2.2h-13.6zM288.6 435.9h13.6v2.2h-13.6zM288.6 449.9h13.6v2.2h-13.6zM248.6 463.9h13.6v2.2h-13.6zM208.6 473.9h13.6v2.2h-13.6zM222 483.9h13.6v2.2h-13.6zM261.9 485.9h13.6v2.2h-13.6zM208.6 491.8h13.6v2.2h-13.6zM261.9 493.8h13.6v2.2h-13.6zM261.9 495.8h13.6v2.2h-13.6zM261.9 507.8h13.6v2.2h-13.6zM275.2 529.8h13.6v2.2h-13.6z" fill="#ead2c6" shape-rendering="crispEdges"/>
<path d="M288.6 360h13.6v2.2h-13.6zM288.6 362h13.6v2.2h-13.6zM261.9 387.9h13.6v2.2h-13.6zM208.6 439.9h13.6v2.2h-13.6zM208.6 457.9h13.6v2.2h-13.6zM261.9 479.9h13.6v2.2h-13.6z" fill="#e4d2cc" shape-rendering="crispEdges"/>
<path d="M235.3 364h13.6v2.2h-13.6zM235.3 401.9h13.6v2.2h-13.6zM235.3 515.8h13.6v2.2h-13.6zM235.3 533.8h13.6v2.2h-13.6z" fill="#f07e60" shape-rendering="crispEdges"/>
<path d="M208.6 368h13.6v2.2h-13.6zM248.6 387.9h13.6v2.2h-13.6zM208.6 399.9h13.6v2.2h-13.6zM222 401.9h13.6v2.2h-13.6zM288.6 427.9h13.6v2.2h-13.6zM288.6 439.9h13.6v2.2h-13.6zM208.6 463.9h13.6v2.2h-13.6zM208.6 481.9h13.6v2.2h-13.6zM208.6 525.8h13.6v2.2h-13.6z" fill="#c6d2ea" shape-rendering="crispEdges"/>
<path d="M222 368h13.6v2.2h-13.6zM222 370h13.6v2.2h-13.6zM128.3 383.9h13.6v2.2h-13.6zM141.7 405.9h13.6v2.2h-13.6zM195.2 425.9h13.6v2.2h-13.6zM155.1 499.8h27v2.2h-27zM195.2 501.8h13.6v2.2h-13.6zM114.9 505.8h13.6v2.2h-13.6zM128.3 535.8h13.6v2.2h-13.6zM155.1 535.8h27v2.2h-27z" fill="#6c9cfc" shape-rendering="crispEdges"/>
<path d="M235.3 368h13.6v2.2h-13.6zM301.9 380h13.6v2.2h-13.6zM235.3 445.9h13.6v2.2h-13.6zM301.9 473.9h13.6v2.2h-13.6zM301.9 477.9h13.6v2.2h-13.6z" fill="#ea6048" shape-rendering="crispEdges"/>
<path d="M235.3 372h13.6v2.2h-13.6zM235.3 407.9h13.6v2.2h-13.6zM235.3 409.9h13.6v2.2h-13.6zM235.3 461.9h13.6v2.2h-13.6zM235.3 499.8h13.6v2.2h-13.6z" fill="#de483c" shape-rendering="crispEdges"/>
<path d="M235.3 374h13.6v2.2h-13.6z" fill="#de4236" shape-rendering="crispEdges"/>
<path d="M235.3 376h13.6v2.2h-13.6zM301.9 381.9h13.6v2.2h-13.6zM235.3 439.9h13.6v2.2h-13.6zM235.3 441.9h13.6v2.2h-13.6zM235.3 493.8h13.6v2.2h-13.6zM235.3 495.8h13.6v2.2h-13.6zM235.3 503.8h13.6v2.2h-13.6z" fill="#ea6c54" shape-rendering="crispEdges"/>
<path d="M235.3 378h13.6v2.2h-13.6z" fill="#de423c" shape-rendering="crispEdges"/>
<path d="M235.3 380h13.6v2.2h-13.6zM235.3 403.9h13.6v2.2h-13.6zM235.3 457.9h13.6v2.2h-13.6z" fill="#e4483c" shape-rendering="crispEdges"/>
<path d="M235.3 381.9h13.6v2.2h-13.6zM235.3 395.9h13.6v2.2h-13.6z" fill="#f6846c" shape-rendering="crispEdges"/>
<path d="M235.3 391.9h13.6v2.2h-13.6zM301.9 409.9h13.6v2.2h-13.6z" fill="#f08466" shape-rendering="crispEdges"/>
<path d="M275.2 395.9h13.6v2.2h-13.6zM275.2 401.9h13.6v2.2h-13.6zM222 403.9h13.6v2.2h-13.6zM261.9 489.8h13.6v2.2h-13.6zM261.9 513.8h13.6v2.2h-13.6z" fill="#ded8d2" shape-rendering="crispEdges"/>
<path d="M235.3 399.9h13.6v2.2h-13.6z" fill="#f06c5a" shape-rendering="crispEdges"/>
<path d="M301.9 403.9h13.6v2.2h-13.6zM222 453.9h13.6v2.2h-13.6zM222 517.8h13.6v2.2h-13.6z" fill="#f6c6ba" shape-rendering="crispEdges"/>
<path d="M208.6 405.9h13.6v2.2h-13.6zM208.6 411.9h13.6v2.2h-13.6zM288.6 433.9h13.6v2.2h-13.6zM208.6 459.9h13.6v2.2h-13.6zM208.6 495.8h13.6v2.2h-13.6zM208.6 531.8h13.6v2.2h-13.6z" fill="#c6d2f0" shape-rendering="crispEdges"/>
<path d="M88.1 415.9h27v2.2h-27zM181.8 415.9h13.6v2.2h-13.6z" fill="#608af0" shape-rendering="crispEdges"/>
<path d="M128.3 415.9h13.6v2.2h-13.6z" fill="#6696f6" shape-rendering="crispEdges"/>
<path d="M181.8 417.9h27v2.2h-27zM141.7 419.9h27v2.2h-27zM181.8 419.9h27v2.2h-27zM88.1 541.8h120.8v2.2h-120.8z" fill="#8aaefc" shape-rendering="crispEdges"/>
<path d="M301.9 417.9h13.6v2.2h-13.6z" fill="#f6b496" shape-rendering="crispEdges"/>
<path d="M208.6 429.9h13.6v2.2h-13.6z" fill="#a8c6f6" shape-rendering="crispEdges"/>
<path d="M288.6 429.9h13.6v2.2h-13.6zM261.9 515.8h13.6v2.2h-13.6zM261.9 519.8h13.6v2.2h-13.6z" fill="#eaccc0" shape-rendering="crispEdges"/>
<path d="M275.2 435.9h13.6v2.2h-13.6zM275.2 441.9h13.6v2.2h-13.6zM288.6 455.9h13.6v2.2h-13.6zM275.2 461.9h13.6v2.2h-13.6zM222 495.8h13.6v2.2h-13.6z" fill="#f69072" shape-rendering="crispEdges"/>
<path d="M235.3 449.9h13.6v2.2h-13.6zM235.3 451.9h13.6v2.2h-13.6z" fill="#f06c54" shape-rendering="crispEdges"/>
<path d="M208.6 455.9h13.6v2.2h-13.6zM222 491.8h13.6v2.2h-13.6zM208.6 493.8h13.6v2.2h-13.6zM261.9 497.8h13.6v2.2h-13.6zM261.9 509.8h13.6v2.2h-13.6z" fill="#e4d8d2" shape-rendering="crispEdges"/>
<path d="M222 457.9h13.6v2.2h-13.6z" fill="#f0c6ba" shape-rendering="crispEdges"/>
<path d="M235.3 467.9h13.6v2.2h-13.6z" fill="#ea664e" shape-rendering="crispEdges"/>
<path d="M235.3 471.9h13.6v2.2h-13.6z" fill="#ea5a42" shape-rendering="crispEdges"/>
<path d="M261.9 475.9h13.6v2.2h-13.6z" fill="#9cc0fc" shape-rendering="crispEdges"/>
<path d="M261.9 487.9h13.6v2.2h-13.6z" fill="#ead2cc" shape-rendering="crispEdges"/>
<path d="M235.3 501.8h13.6v2.2h-13.6zM235.3 523.8h13.6v2.2h-13.6z" fill="#de3c36" shape-rendering="crispEdges"/>
<path d="M261.9 521.8h13.6v2.2h-13.6z" fill="#eaccc6" shape-rendering="crispEdges"/>
<path d="M141.7 535.8h13.6v2.2h-13.6z" fill="#4e78e4" shape-rendering="crispEdges"/>
<path d="M181.8 535.8h13.6v2.2h-13.6z" fill="#4e72e4" shape-rendering="crispEdges"/>
<path d="M114.9 537.8h13.6v2.2h-13.6zM168.4 537.8h13.6v2.2h-13.6z" fill="#486cde" shape-rendering="crispEdges"/>
<path d="M141.7 537.8h13.6v2.2h-13.6z" fill="#4260d8" shape-rendering="crispEdges"/>
<path d="M288.6 539.8h13.6v2.2h-13.6z" fill="#c0122a" shape-rendering="crispEdges"/>
<path d="M288.6 541.8h13.6v2.2h-13.6z" fill="#d83636" shape-rendering="crispEdges"/>
<path d="M94.79 544V547M108.19 544V547M121.57 544V547M134.96 544V547M148.36 544V547M161.75 544V547M175.13 544V547M188.52 544V547M201.92 544V547M215.31 544V547M228.66 544V547M241.97 544V547M255.28 544V547M268.6 544V547M281.9 544V547M295.22 544V547M308.52 544V547" stroke="#b0b0b0" stroke-width="0.7"/>
<path d="M68.9 335.0V337.0M68.9 335.0H88.0M68.9 337.0H88.0M65.9 333.0V336.0M65.9 333.0H88.0M65.9 336.0H68.9M64.8 331.0V334.5M64.8 331.0H88.0M64.8 334.5H65.9M68.9 339.0V341.0M68.9 339.0H88.0M68.9 341.0H88.0M60.9 332.7V340.0M60.9 332.7H64.8M60.9 340.0H68.9M59.2 336.4V343.0M59.2 336.4H60.9M59.2 343.0H88.0M69.9 347.0V349.0M69.9 347.0H88.0M69.9 349.0H88.0M67.5 348.0V351.0M67.5 348.0H69.9M67.5 351.0H88.0M66.6 357.0V359.0M66.6 357.0H88.0M66.6 359.0H88.0M69.8 361.0V363.0M69.8 361.0H88.0M69.8 363.0H88.0M69.4 365.0V367.0M69.4 365.0H88.0M69.4 367.0H88.0M65.8 362.0V366.0M65.8 362.0H69.8M65.8 366.0H69.4M62.4 358.0V364.0M62.4 358.0H66.6M62.4 364.0H65.8M61.3 361.0V369.0M61.3 361.0H62.4M61.3 369.0H88.0M57.4 355.0V365.0M57.4 355.0H88.0M57.4 365.0H61.3M56.3 353.0V360.0M56.3 353.0H88.0M56.3 360.0H57.4M55.2 349.5V356.5M55.2 349.5H67.5M55.2 356.5H56.3M69.7 371.0V373.0M69.7 371.0H88.0M69.7 373.0H88.0M65.7 372.0V375.0M65.7 372.0H69.7M65.7 375.0H88.0M66.4 377.0V379.0M66.4 377.0H88.0M66.4 379.0H88.0M68.1 382.9V384.9M68.1 382.9H88.0M68.1 384.9H88.0M64.2 381.0V383.9M64.2 381.0H88.0M64.2 383.9H68.1M62.0 378.0V382.4M62.0 378.0H66.4M62.0 382.4H64.2M61.0 373.5V380.2M61.0 373.5H65.7M61.0 380.2H62.0M70.0 390.9V392.9M70.0 390.9H88.0M70.0 392.9H88.0M66.8 394.9V396.9M66.8 394.9H88.0M66.8 396.9H88.0M63.6 391.9V395.9M63.6 391.9H70.0M63.6 395.9H66.8M60.4 388.9V393.9M60.4 388.9H88.0M60.4 393.9H63.6M59.1 386.9V391.4M59.1 386.9H88.0M59.1 391.4H60.4M69.0 400.9V402.9M69.0 400.9H88.0M69.0 402.9H88.0M66.2 398.9V401.9M66.2 398.9H88.0M66.2 401.9H69.0M66.2 404.9V406.9M66.2 404.9H88.0M66.2 406.9H88.0M65.1 405.9V408.9M65.1 405.9H66.2M65.1 408.9H88.0M69.0 412.9V414.9M69.0 412.9H88.0M69.0 414.9H88.0M69.9 416.9V418.9M69.9 416.9H88.0M69.9 418.9H88.0M67.0 420.9V422.9M67.0 420.9H88.0M67.0 422.9H88.0M63.9 417.9V421.9M63.9 417.9H69.9M63.9 421.9H67.0M60.9 413.9V419.9M60.9 413.9H69.0M60.9 419.9H63.9M59.5 410.9V416.9M59.5 410.9H88.0M59.5 416.9H60.9M58.4 407.4V413.9M58.4 407.4H65.1M58.4 413.9H59.5M56.1 400.4V410.7M56.1 400.4H66.2M56.1 410.7H58.4M53.5 389.2V405.6M53.5 389.2H59.1M53.5 405.6H56.1M68.1 424.9V426.9M68.1 424.9H88.0M68.1 426.9H88.0M67.0 434.9V436.9M67.0 434.9H88.0M67.0 436.9H88.0M65.9 435.9V438.9M65.9 435.9H67.0M65.9 438.9H88.0M64.8 432.9V437.4M64.8 432.9H88.0M64.8 437.4H65.9M63.7 430.9V435.2M63.7 430.9H88.0M63.7 435.2H64.8M60.5 428.9V433.0M60.5 428.9H88.0M60.5 433.0H63.7M57.6 425.9V431.0M57.6 425.9H68.1M57.6 431.0H60.5M51.6 397.4V428.4M51.6 397.4H53.5M51.6 428.4H57.6M50.1 376.8V412.9M50.1 376.8H61.0M50.1 412.9H51.6M47.9 353.0V394.9M47.9 353.0H55.2M47.9 394.9H50.1M46.8 345.0V373.9M46.8 345.0H88.0M46.8 373.9H47.9M41.8 339.7V359.5M41.8 339.7H59.2M41.8 359.5H46.8M73.4 440.9V442.9M73.4 440.9H88.0M73.4 442.9H88.0M71.6 441.9V444.9M71.6 441.9H73.4M71.6 444.9H88.0M76.9 450.9V452.9M76.9 450.9H88.0M76.9 452.9H88.0M75.8 451.9V454.9M75.8 451.9H76.9M75.8 454.9H88.0M74.8 448.9V453.4M74.8 448.9H88.0M74.8 453.4H75.8M73.7 446.9V451.1M73.7 446.9H88.0M73.7 451.1H74.8M68.6 443.4V449.0M68.6 443.4H71.6M68.6 449.0H73.7M75.4 458.9V460.9M75.4 458.9H88.0M75.4 460.9H88.0M74.3 456.9V459.9M74.3 456.9H88.0M74.3 459.9H75.4M75.1 462.9V464.9M75.1 462.9H88.0M75.1 464.9H88.0M71.1 458.4V463.9M71.1 458.4H74.3M71.1 463.9H75.1M75.1 466.9V468.9M75.1 466.9H88.0M75.1 468.9H88.0M75.6 470.9V472.9M75.6 470.9H88.0M75.6 472.9H88.0M73.4 467.9V471.9M73.4 467.9H75.1M73.4 471.9H75.6M68.5 461.1V469.9M68.5 461.1H71.1M68.5 469.9H73.4M76.0 474.9V476.9M76.0 474.9H88.0M76.0 476.9H88.0M74.9 475.9V478.9M74.9 475.9H76.0M74.9 478.9H88.0M76.8 484.9V486.9M76.8 484.9H88.0M76.8 486.9H88.0M75.7 485.9V488.9M75.7 485.9H76.8M75.7 488.9H88.0M74.6 482.9V487.4M74.6 482.9H88.0M74.6 487.4H75.7M73.5 480.9V485.1M73.5 480.9H88.0M73.5 485.1H74.6M72.5 477.4V483.0M72.5 477.4H74.9M72.5 483.0H73.5M71.4 480.2V490.8M71.4 480.2H72.5M71.4 490.8H88.0M76.4 498.8V500.8M76.4 498.8H88.0M76.4 500.8H88.0M73.5 496.8V499.8M73.5 496.8H88.0M73.5 499.8H76.4M72.5 494.8V498.3M72.5 494.8H88.0M72.5 498.3H73.5M71.4 492.8V496.6M71.4 492.8H88.0M71.4 496.6H72.5M75.5 502.8V504.8M75.5 502.8H88.0M75.5 504.8H88.0M74.6 506.8V508.8M74.6 506.8H88.0M74.6 508.8H88.0M73.0 503.8V507.8M73.0 503.8H75.5M73.0 507.8H74.6M75.9 510.8V512.8M75.9 510.8H88.0M75.9 512.8H88.0M73.7 516.8V518.8M73.7 516.8H88.0M73.7 518.8H88.0M74.7 520.8V522.8M74.7 520.8H88.0M74.7 522.8H88.0M75.8 524.8V526.8M75.8 524.8H88.0M75.8 526.8H88.0M78.0 528.8V530.8M78.0 528.8H88.0M78.0 530.8H88.0M76.9 529.8V532.8M76.9 529.8H78.0M76.9 532.8H88.0M76.9 534.8V536.8M76.9 534.8H88.0M76.9 536.8H88.0M75.8 531.3V535.8M75.8 531.3H76.9M75.8 535.8H76.9M74.7 525.8V533.6M74.7 525.8H75.8M74.7 533.6H75.8M73.7 521.8V529.7M73.7 521.8H74.7M73.7 529.7H74.7M72.6 517.8V525.8M72.6 517.8H73.7M72.6 525.8H73.7M71.5 514.8V521.8M71.5 514.8H88.0M71.5 521.8H72.6M70.4 511.8V518.3M70.4 511.8H75.9M70.4 518.3H71.5M69.4 505.8V515.1M69.4 505.8H73.0M69.4 515.1H70.4M66.5 494.7V510.5M66.5 494.7H71.4M66.5 510.5H69.4M65.4 485.5V502.6M65.4 485.5H71.4M65.4 502.6H66.5M64.4 465.5V494.0M64.4 465.5H68.5M64.4 494.0H65.4M63.3 446.2V479.8M63.3 446.2H68.6M63.3 479.8H64.4M62.2 538.8V540.8M62.2 538.8H88.0M62.2 540.8H88.0M61.1 539.8V542.8M61.1 539.8H62.2M61.1 542.8H88.0M39.7 349.6V463.0M39.7 349.6H41.8M39.7 463.0H63.3M37.0 329.0V406.3M37.0 329.0H88.0M37.0 406.3H39.7M34.3 367.6V541.3M34.3 367.6H37.0M34.3 541.3H61.1" stroke="#bdbdbd" stroke-width="0.75" fill="none"/>
<text x="108.7" y="559.8" font-size="11.85" font-style="italic" fill="#1a1a1a">Significant Features (p<tspan font-size="8" dy="2.5">corr</tspan><tspan dy="-2.5"> &lt; .05)</tspan></text>
<text x="355" y="279.9" font-size="16.8" text-anchor="start" fill="#111" >D</text>
<defs><clipPath id="cl1"><circle cx="442.2" cy="335.9" r="56.1"/></clipPath><clipPath id="cl2"><circle cx="455.8" cy="466.9" r="65.6"/></clipPath></defs>
<circle cx="442.2" cy="335.9" r="56.1" fill="#c6e3a4"/>
<circle cx="477.6" cy="336.2" r="56.4" fill="#7ed7f8"/>
<circle cx="477.6" cy="336.2" r="56.4" fill="#65cbcb" clip-path="url(#cl1)"/>
<circle cx="442.2" cy="335.9" r="56.1" fill="none" stroke="#1f3a60" stroke-width="1.3"/>
<circle cx="477.6" cy="336.2" r="56.4" fill="none" stroke="#1f3a60" stroke-width="1.3"/>
<text x="401.1" y="333.3" font-size="11.8" text-anchor="middle" fill="#111" >28</text>
<text x="455.4" y="333.3" font-size="11.8" text-anchor="middle" fill="#111" >128</text>
<text x="511.6" y="334.3" font-size="11.8" text-anchor="middle" fill="#111" >21</text>
<rect x="522.9" y="377.4" width="11" height="9.6" fill="#c6e3a4"/>
<rect x="522.9" y="388.9" width="11" height="10.1" fill="#13a8e6"/>
<text x="537.4" y="387.8" font-size="11.6" text-anchor="start" fill="#1a1a1a" >pcpfm, pref.</text>
<text x="537.8" y="402.2" font-size="11.6" text-anchor="start" fill="#1a1a1a" >MetaboanalystR</text>
<circle cx="455.8" cy="466.9" r="65.6" fill="#aac29b"/>
<circle cx="474.6" cy="467.1" r="56" fill="#80d0f2"/>
<circle cx="474.6" cy="467.1" r="56" fill="#55b8c5" clip-path="url(#cl2)"/>
<circle cx="455.8" cy="466.9" r="65.6" fill="none" stroke="#1f3a60" stroke-width="1.3"/>
<circle cx="474.6" cy="467.1" r="56" fill="none" stroke="#1f3a60" stroke-width="1.3"/>
<text x="401.5" y="468.6" font-size="11.8" text-anchor="middle" fill="#111" >46</text>
<text x="463.9" y="466.7" font-size="11.8" text-anchor="middle" fill="#111" >143</text>
<text x="548.8" y="446.5" font-size="11.8" text-anchor="middle" fill="#111" >6</text>
<path d="M543.6 448.6L535.2 455.6" stroke="#111" stroke-width="1" fill="none"/>
<path d="M531 459.2L533.2 452.6L537.6 457.4Z" fill="#111"/>
<rect x="520.1" y="518.7" width="10.8" height="9.4" fill="#5b8c33"/>
<rect x="520.1" y="529.5" width="10.8" height="10" fill="#13a8e6"/>
<text x="534.6" y="527.9" font-size="11.6" text-anchor="start" fill="#1a1a1a" >pcpfm, full</text>
<text x="534.6" y="542.6" font-size="11.6" text-anchor="start" fill="#1a1a1a" >MetaboanalystR</text>
<text x="-0.4" y="583.6" font-size="16.8" text-anchor="start" fill="#111" >E</text>
<rect x="35.5" y="565.4" width="286" height="233.1" fill="none" stroke="#dedede" stroke-width="1"/>
<rect x="39.8" y="570.1" width="15.1" height="54.6" fill="url(#cbE)"/>
<text x="57.2" y="582.5" font-size="10.9" text-anchor="start" fill="#1a1a1a" >4</text>
<text x="58.1" y="605" font-size="10.9" text-anchor="start" fill="#1a1a1a" >0</text>
<text x="60.9" y="620.2" font-size="10.9" text-anchor="start" fill="#1a1a1a" >-4</text>
<text transform="translate(32.9,602.9) rotate(-90)" font-size="11.7" text-anchor="middle" fill="#1a1a1a" >Z-Score</text>
<rect x="95.5" y="615.2" width="83.75" height="6.8" fill="#000"/>
<rect x="179.2" y="615.2" width="2.25" height="6.8" fill="#0b870b"/>
<rect x="181.4" y="615.2" width="1.95" height="6.8" fill="#ff0a0a"/>
<rect x="183.3" y="615.2" width="2.05" height="6.8" fill="#0b870b"/>
<rect x="185.3" y="615.2" width="15.45" height="6.8" fill="#ff0a0a"/>
<rect x="200.7" y="615.2" width="6.55" height="6.8" fill="#0b870b"/>
<rect x="207.2" y="615.2" width="6.45" height="6.8" fill="#ff0a0a"/>
<rect x="213.6" y="615.2" width="6.25" height="6.8" fill="#0b870b"/>
<rect x="219.8" y="615.2" width="17.25" height="6.8" fill="#ff0a0a"/>
<rect x="237" y="615.2" width="6.55" height="6.8" fill="#0b870b"/>
<rect x="243.5" y="615.2" width="2.35" height="6.8" fill="#ff0a0a"/>
<rect x="245.8" y="615.2" width="4.55" height="6.8" fill="#0b870b"/>
<rect x="250.3" y="615.2" width="17.15" height="6.8" fill="#ff0a0a"/>
<rect x="267.4" y="615.2" width="12.85" height="6.8" fill="#0b870b"/>
<rect x="280.2" y="615.2" width="4.65" height="6.8" fill="#ff0a0a"/>
<rect x="284.8" y="615.2" width="1.65" height="6.8" fill="#0b870b"/>
<rect x="286.4" y="615.2" width="4.25" height="6.8" fill="#ff0a0a"/>
<rect x="290.6" y="615.2" width="19.25" height="6.8" fill="#0b870b"/>
<rect x="309.8" y="615.2" width="2.35" height="6.8" fill="#ff0a0a"/>
<rect x="312.1" y="615.2" width="8.35" height="6.8" fill="#0b870b"/>
<path d="M96.2 623.5h3.9v2.2h-3.9zM117.9 623.5h7.5v2.2h-7.5zM164.9 623.5h3.9v2.2h-3.9zM280.6 627.4h7.5v2.2h-7.5zM305.9 627.4h3.9v2.2h-3.9zM99.8 629.4h3.9v2.2h-3.9zM161.3 629.4h7.5v2.2h-7.5zM280.6 629.4h3.9v2.2h-3.9zM269.8 631.4h3.9v2.2h-3.9zM284.2 631.4h3.9v2.2h-3.9zM302.3 631.4h3.9v2.2h-3.9zM161.3 633.4h3.9v2.2h-3.9zM305.9 633.4h3.9v2.2h-3.9zM269.8 635.3h3.9v2.2h-3.9zM280.6 635.3h3.9v2.2h-3.9zM99.8 637.3h3.9v2.2h-3.9zM114.3 637.3h3.9v2.2h-3.9zM121.5 637.3h3.9v2.2h-3.9zM168.5 637.3h3.9v2.2h-3.9zM103.4 639.3h7.5v2.2h-7.5zM139.6 639.3h3.9v2.2h-3.9zM172.1 639.3h3.9v2.2h-3.9zM255.3 639.3h3.9v2.2h-3.9zM168.5 641.3h3.9v2.2h-3.9zM269.8 641.3h3.9v2.2h-3.9zM244.5 643.2h3.9v2.2h-3.9zM168.5 645.2h3.9v2.2h-3.9zM262.5 645.2h3.9v2.2h-3.9zM284.2 645.2h3.9v2.2h-3.9zM248.1 647.2h3.9v2.2h-3.9zM248.1 649.2h3.9v2.2h-3.9zM266.2 649.2h3.9v2.2h-3.9zM277 649.2h11.1v2.2h-11.1zM110.7 651.1h3.9v2.2h-3.9zM117.9 651.1h7.5v2.2h-7.5zM150.4 651.1h7.5v2.2h-7.5zM172.1 651.1h3.9v2.2h-3.9zM255.3 651.1h3.9v2.2h-3.9zM277 651.1h3.9v2.2h-3.9zM287.9 651.1h3.9v2.2h-3.9zM114.3 653.1h3.9v2.2h-3.9zM157.7 653.1h3.9v2.2h-3.9zM262.5 653.1h3.9v2.2h-3.9zM273.4 653.1h3.9v2.2h-3.9zM280.6 653.1h3.9v2.2h-3.9zM161.3 657.1h3.9v2.2h-3.9zM136 659h3.9v2.2h-3.9zM172.1 659h3.9v2.2h-3.9zM143.2 661h3.9v2.2h-3.9zM211.9 661h7.5v2.2h-7.5zM295.1 661h3.9v2.2h-3.9zM313.2 661h3.9v2.2h-3.9zM226.4 665h3.9v2.2h-3.9zM237.2 665h3.9v2.2h-3.9zM262.5 665h3.9v2.2h-3.9zM277 665h3.9v2.2h-3.9zM316.8 668.9h3.9v2.2h-3.9zM305.9 672.8h3.9v2.2h-3.9zM262.5 676.8h3.9v2.2h-3.9zM284.2 682.7h3.9v2.2h-3.9zM233.6 686.7h7.5v2.2h-7.5zM244.5 686.7h3.9v2.2h-3.9zM233.6 690.6h3.9v2.2h-3.9zM287.9 690.6h3.9v2.2h-3.9zM226.4 700.5h3.9v2.2h-3.9zM262.5 702.5h3.9v2.2h-3.9zM269.8 702.5h11.1v2.2h-11.1zM255.3 706.4h3.9v2.2h-3.9zM266.2 706.4h3.9v2.2h-3.9zM273.4 706.4h7.5v2.2h-7.5zM287.9 706.4h3.9v2.2h-3.9zM302.3 708.4h3.9v2.2h-3.9zM309.6 708.4h3.9v2.2h-3.9zM255.3 712.3h3.9v2.2h-3.9zM273.4 712.3h18.3v2.2h-18.3zM302.3 712.3h3.9v2.2h-3.9zM309.6 712.3h3.9v2.2h-3.9zM302.3 714.3h3.9v2.2h-3.9zM251.7 716.3h7.5v2.2h-7.5zM269.8 716.3h3.9v2.2h-3.9zM277 716.3h3.9v2.2h-3.9zM284.2 716.3h3.9v2.2h-3.9zM269.8 718.2h3.9v2.2h-3.9zM287.9 718.2h3.9v2.2h-3.9zM255.3 720.2h3.9v2.2h-3.9zM255.3 722.2h11.1v2.2h-11.1zM277 722.2h3.9v2.2h-3.9zM287.9 722.2h3.9v2.2h-3.9zM251.7 724.2h3.9v2.2h-3.9zM273.4 724.2h3.9v2.2h-3.9zM255.3 728.1h11.1v2.2h-11.1zM280.6 728.1h3.9v2.2h-3.9zM291.5 728.1h3.9v2.2h-3.9zM273.4 730.1h7.5v2.2h-7.5zM280.6 732.1h3.9v2.2h-3.9zM295.1 732.1h3.9v2.2h-3.9zM255.3 734h7.5v2.2h-7.5zM273.4 734h3.9v2.2h-3.9zM280.6 734h11.1v2.2h-11.1zM266.2 736h3.9v2.2h-3.9zM280.6 736h11.1v2.2h-11.1zM258.9 738h3.9v2.2h-3.9zM266.2 738h3.9v2.2h-3.9zM287.9 738h3.9v2.2h-3.9zM251.7 741.9h3.9v2.2h-3.9zM262.5 741.9h3.9v2.2h-3.9zM277 741.9h3.9v2.2h-3.9zM287.9 741.9h3.9v2.2h-3.9zM251.7 743.9h3.9v2.2h-3.9zM262.5 743.9h7.5v2.2h-7.5zM273.4 743.9h3.9v2.2h-3.9zM309.6 743.9h3.9v2.2h-3.9zM262.5 745.9h3.9v2.2h-3.9zM269.8 745.9h3.9v2.2h-3.9zM277 745.9h7.5v2.2h-7.5zM255.3 747.9h3.9v2.2h-3.9zM262.5 747.9h11.1v2.2h-11.1zM284.2 747.9h3.9v2.2h-3.9zM305.9 747.9h11.1v2.2h-11.1zM258.9 749.8h3.9v2.2h-3.9zM266.2 749.8h3.9v2.2h-3.9zM295.1 749.8h3.9v2.2h-3.9zM313.2 749.8h3.9v2.2h-3.9zM258.9 751.8h7.5v2.2h-7.5zM280.6 751.8h3.9v2.2h-3.9zM287.9 751.8h3.9v2.2h-3.9zM255.3 753.8h18.3v2.2h-18.3zM280.6 753.8h11.1v2.2h-11.1zM295.1 753.8h3.9v2.2h-3.9zM204.7 757.7h11.1v2.2h-11.1zM258.9 757.7h3.9v2.2h-3.9zM269.8 757.7h3.9v2.2h-3.9zM287.9 757.7h3.9v2.2h-3.9zM255.3 759.7h7.5v2.2h-7.5zM219.1 761.7h3.9v2.2h-3.9zM240.8 761.7h3.9v2.2h-3.9zM273.4 761.7h3.9v2.2h-3.9zM302.3 761.7h3.9v2.2h-3.9zM251.7 763.6h3.9v2.2h-3.9zM258.9 763.6h3.9v2.2h-3.9zM273.4 763.6h3.9v2.2h-3.9zM284.2 763.6h3.9v2.2h-3.9zM255.3 765.6h3.9v2.2h-3.9zM262.5 765.6h11.1v2.2h-11.1zM280.6 765.6h3.9v2.2h-3.9zM287.9 765.6h3.9v2.2h-3.9zM204.7 767.6h3.9v2.2h-3.9zM302.3 767.6h7.5v2.2h-7.5zM211.9 769.6h3.9v2.2h-3.9zM284.2 769.6h3.9v2.2h-3.9zM190.2 773.5h3.9v2.2h-3.9zM226.4 773.5h3.9v2.2h-3.9zM251.7 773.5h3.9v2.2h-3.9zM262.5 773.5h3.9v2.2h-3.9zM269.8 773.5h11.1v2.2h-11.1zM287.9 773.5h7.5v2.2h-7.5zM313.2 773.5h3.9v2.2h-3.9zM258.9 775.5h7.5v2.2h-7.5zM193.8 777.5h3.9v2.2h-3.9zM266.2 777.5h3.9v2.2h-3.9zM251.7 779.4h11.1v2.2h-11.1zM277 779.4h3.9v2.2h-3.9zM251.7 783.4h3.9v2.2h-3.9zM266.2 783.4h3.9v2.2h-3.9zM280.6 783.4h3.9v2.2h-3.9zM287.9 783.4h3.9v2.2h-3.9zM262.5 785.4h7.5v2.2h-7.5zM280.6 785.4h3.9v2.2h-3.9zM222.8 787.3h3.9v2.2h-3.9zM99.8 789.3h3.9v2.2h-3.9zM136 789.3h3.9v2.2h-3.9zM179.4 789.3h3.9v2.2h-3.9zM298.7 789.3h3.9v2.2h-3.9zM143.2 791.3h3.9v2.2h-3.9zM197.5 791.3h3.9v2.2h-3.9zM204.7 791.3h3.9v2.2h-3.9zM295.1 793.3h3.9v2.2h-3.9zM302.3 793.3h3.9v2.2h-3.9zM132.4 795.2h3.9v2.2h-3.9zM146.8 795.2h3.9v2.2h-3.9zM201.1 795.2h3.9v2.2h-3.9zM230 795.2h7.5v2.2h-7.5z" fill="#bad2f6" shape-rendering="crispEdges"/>
<path d="M99.8 623.5h3.9v2.2h-3.9zM114.3 623.5h3.9v2.2h-3.9zM139.6 623.5h3.9v2.2h-3.9zM157.7 623.5h7.5v2.2h-7.5zM168.5 623.5h3.9v2.2h-3.9zM136 625.5h3.9v2.2h-3.9zM146.8 625.5h7.5v2.2h-7.5zM157.7 625.5h3.9v2.2h-3.9zM277 627.4h3.9v2.2h-3.9zM96.2 629.4h3.9v2.2h-3.9zM128.7 629.4h3.9v2.2h-3.9zM146.8 629.4h11.1v2.2h-11.1zM269.8 629.4h3.9v2.2h-3.9zM277 631.4h7.5v2.2h-7.5zM99.8 633.4h3.9v2.2h-3.9zM121.5 633.4h3.9v2.2h-3.9zM136 633.4h3.9v2.2h-3.9zM266.2 633.4h3.9v2.2h-3.9zM273.4 633.4h7.5v2.2h-7.5zM132.4 635.3h3.9v2.2h-3.9zM164.9 635.3h3.9v2.2h-3.9zM266.2 635.3h3.9v2.2h-3.9zM273.4 635.3h7.5v2.2h-7.5zM287.9 635.3h3.9v2.2h-3.9zM107 637.3h3.9v2.2h-3.9zM117.9 637.3h3.9v2.2h-3.9zM269.8 637.3h3.9v2.2h-3.9zM277 637.3h7.5v2.2h-7.5zM96.2 639.3h3.9v2.2h-3.9zM125.1 639.3h7.5v2.2h-7.5zM146.8 639.3h3.9v2.2h-3.9zM154.1 639.3h3.9v2.2h-3.9zM168.5 639.3h3.9v2.2h-3.9zM226.4 639.3h3.9v2.2h-3.9zM139.6 641.3h3.9v2.2h-3.9zM103.4 643.2h7.5v2.2h-7.5zM139.6 643.2h3.9v2.2h-3.9zM222.8 643.2h3.9v2.2h-3.9zM230 643.2h11.1v2.2h-11.1zM248.1 643.2h7.5v2.2h-7.5zM96.2 645.2h3.9v2.2h-3.9zM110.7 645.2h3.9v2.2h-3.9zM117.9 645.2h3.9v2.2h-3.9zM143.2 645.2h7.5v2.2h-7.5zM266.2 645.2h3.9v2.2h-3.9zM273.4 645.2h3.9v2.2h-3.9zM287.9 645.2h3.9v2.2h-3.9zM96.2 649.2h3.9v2.2h-3.9zM128.7 649.2h11.1v2.2h-11.1zM146.8 649.2h3.9v2.2h-3.9zM164.9 649.2h11.1v2.2h-11.1zM262.5 649.2h3.9v2.2h-3.9zM269.8 649.2h7.5v2.2h-7.5zM96.2 651.1h3.9v2.2h-3.9zM107 651.1h3.9v2.2h-3.9zM262.5 651.1h3.9v2.2h-3.9zM128.7 653.1h3.9v2.2h-3.9zM219.1 653.1h3.9v2.2h-3.9zM226.4 653.1h3.9v2.2h-3.9zM237.2 653.1h11.1v2.2h-11.1zM251.7 653.1h3.9v2.2h-3.9zM258.9 653.1h3.9v2.2h-3.9zM277 653.1h3.9v2.2h-3.9zM287.9 653.1h3.9v2.2h-3.9zM269.8 655.1h3.9v2.2h-3.9zM287.9 655.1h3.9v2.2h-3.9zM136 657.1h3.9v2.2h-3.9zM175.8 657.1h3.9v2.2h-3.9zM258.9 657.1h3.9v2.2h-3.9zM277 657.1h3.9v2.2h-3.9zM143.2 659h3.9v2.2h-3.9zM161.3 659h3.9v2.2h-3.9zM240.8 659h3.9v2.2h-3.9zM248.1 659h3.9v2.2h-3.9zM146.8 661h3.9v2.2h-3.9zM186.6 661h3.9v2.2h-3.9zM248.1 661h3.9v2.2h-3.9zM284.2 661h3.9v2.2h-3.9zM305.9 661h7.5v2.2h-7.5zM222.8 663h3.9v2.2h-3.9zM280.6 665h11.1v2.2h-11.1zM280.6 668.9h3.9v2.2h-3.9zM313.2 668.9h3.9v2.2h-3.9zM201.1 670.9h3.9v2.2h-3.9zM219.1 670.9h7.5v2.2h-7.5zM230 670.9h3.9v2.2h-3.9zM295.1 672.8h7.5v2.2h-7.5zM291.5 674.8h3.9v2.2h-3.9zM298.7 674.8h11.1v2.2h-11.1zM258.9 676.8h3.9v2.2h-3.9zM273.4 676.8h11.1v2.2h-11.1zM222.8 678.8h3.9v2.2h-3.9zM258.9 678.8h3.9v2.2h-3.9zM255.3 682.7h3.9v2.2h-3.9zM262.5 682.7h3.9v2.2h-3.9zM287.9 682.7h3.9v2.2h-3.9zM179.4 686.7h3.9v2.2h-3.9zM193.8 686.7h3.9v2.2h-3.9zM230 686.7h3.9v2.2h-3.9zM240.8 686.7h3.9v2.2h-3.9zM291.5 688.6h3.9v2.2h-3.9zM240.8 690.6h3.9v2.2h-3.9zM251.7 690.6h7.5v2.2h-7.5zM266.2 690.6h3.9v2.2h-3.9zM298.7 690.6h3.9v2.2h-3.9zM316.8 700.5h3.9v2.2h-3.9zM255.3 702.5h7.5v2.2h-7.5zM266.2 702.5h3.9v2.2h-3.9zM251.7 706.4h3.9v2.2h-3.9zM258.9 706.4h7.5v2.2h-7.5zM280.6 706.4h7.5v2.2h-7.5zM305.9 708.4h3.9v2.2h-3.9zM258.9 712.3h3.9v2.2h-3.9zM298.7 712.3h3.9v2.2h-3.9zM305.9 714.3h7.5v2.2h-7.5zM258.9 716.3h11.1v2.2h-11.1zM280.6 716.3h3.9v2.2h-3.9zM255.3 718.2h3.9v2.2h-3.9zM262.5 718.2h7.5v2.2h-7.5zM273.4 718.2h3.9v2.2h-3.9zM284.2 718.2h3.9v2.2h-3.9zM251.7 720.2h3.9v2.2h-3.9zM262.5 720.2h7.5v2.2h-7.5zM273.4 720.2h3.9v2.2h-3.9zM287.9 720.2h3.9v2.2h-3.9zM277 728.1h3.9v2.2h-3.9zM298.7 728.1h3.9v2.2h-3.9zM255.3 730.1h18.3v2.2h-18.3zM251.7 732.1h14.7v2.2h-14.7zM269.8 732.1h3.9v2.2h-3.9zM284.2 732.1h7.5v2.2h-7.5zM298.7 732.1h3.9v2.2h-3.9zM266.2 734h3.9v2.2h-3.9zM251.7 736h7.5v2.2h-7.5zM251.7 738h3.9v2.2h-3.9zM262.5 738h3.9v2.2h-3.9zM269.8 738h14.7v2.2h-14.7zM273.4 740h3.9v2.2h-3.9zM287.9 740h3.9v2.2h-3.9zM255.3 741.9h7.5v2.2h-7.5zM273.4 741.9h3.9v2.2h-3.9zM280.6 741.9h7.5v2.2h-7.5zM258.9 743.9h3.9v2.2h-3.9zM269.8 743.9h3.9v2.2h-3.9zM280.6 743.9h7.5v2.2h-7.5zM291.5 743.9h3.9v2.2h-3.9zM298.7 743.9h7.5v2.2h-7.5zM313.2 743.9h3.9v2.2h-3.9zM251.7 745.9h11.1v2.2h-11.1zM266.2 745.9h3.9v2.2h-3.9zM273.4 745.9h3.9v2.2h-3.9zM284.2 745.9h7.5v2.2h-7.5zM280.6 747.9h3.9v2.2h-3.9zM251.7 749.8h7.5v2.2h-7.5zM262.5 749.8h3.9v2.2h-3.9zM269.8 749.8h11.1v2.2h-11.1zM284.2 749.8h7.5v2.2h-7.5zM298.7 749.8h7.5v2.2h-7.5zM255.3 751.8h3.9v2.2h-3.9zM266.2 751.8h11.1v2.2h-11.1zM284.2 751.8h3.9v2.2h-3.9zM302.3 751.8h7.5v2.2h-7.5zM233.6 753.8h3.9v2.2h-3.9zM291.5 753.8h3.9v2.2h-3.9zM298.7 753.8h11.1v2.2h-11.1zM291.5 755.7h18.3v2.2h-18.3zM316.8 755.7h3.9v2.2h-3.9zM222.8 757.7h3.9v2.2h-3.9zM251.7 757.7h3.9v2.2h-3.9zM262.5 757.7h3.9v2.2h-3.9zM284.2 757.7h3.9v2.2h-3.9zM298.7 759.7h3.9v2.2h-3.9zM183 761.7h3.9v2.2h-3.9zM215.5 761.7h3.9v2.2h-3.9zM233.6 761.7h3.9v2.2h-3.9zM291.5 761.7h3.9v2.2h-3.9zM305.9 761.7h7.5v2.2h-7.5zM179.4 763.6h3.9v2.2h-3.9zM204.7 763.6h3.9v2.2h-3.9zM269.8 763.6h3.9v2.2h-3.9zM316.8 763.6h3.9v2.2h-3.9zM219.1 765.6h7.5v2.2h-7.5zM277 765.6h3.9v2.2h-3.9zM255.3 767.6h14.7v2.2h-14.7zM277 767.6h14.7v2.2h-14.7zM295.1 767.6h3.9v2.2h-3.9zM309.6 767.6h3.9v2.2h-3.9zM316.8 767.6h3.9v2.2h-3.9zM204.7 769.6h3.9v2.2h-3.9zM266.2 771.5h3.9v2.2h-3.9zM273.4 771.5h3.9v2.2h-3.9zM186.6 773.5h3.9v2.2h-3.9zM211.9 773.5h3.9v2.2h-3.9zM230 773.5h3.9v2.2h-3.9zM237.2 773.5h3.9v2.2h-3.9zM255.3 773.5h7.5v2.2h-7.5zM280.6 773.5h7.5v2.2h-7.5zM295.1 773.5h3.9v2.2h-3.9zM305.9 773.5h7.5v2.2h-7.5zM251.7 775.5h7.5v2.2h-7.5zM273.4 775.5h11.1v2.2h-11.1zM287.9 775.5h3.9v2.2h-3.9zM201.1 777.5h3.9v2.2h-3.9zM251.7 777.5h14.7v2.2h-14.7zM269.8 777.5h11.1v2.2h-11.1zM284.2 777.5h3.9v2.2h-3.9zM280.6 779.4h11.1v2.2h-11.1zM208.3 781.4h3.9v2.2h-3.9zM219.1 781.4h3.9v2.2h-3.9zM255.3 781.4h3.9v2.2h-3.9zM262.5 781.4h3.9v2.2h-3.9zM273.4 781.4h7.5v2.2h-7.5zM179.4 783.4h3.9v2.2h-3.9zM190.2 783.4h3.9v2.2h-3.9zM204.7 783.4h3.9v2.2h-3.9zM258.9 783.4h7.5v2.2h-7.5zM273.4 783.4h3.9v2.2h-3.9zM201.1 785.4h3.9v2.2h-3.9zM208.3 785.4h3.9v2.2h-3.9zM222.8 785.4h3.9v2.2h-3.9zM251.7 785.4h7.5v2.2h-7.5zM269.8 785.4h11.1v2.2h-11.1zM287.9 785.4h3.9v2.2h-3.9zM186.6 789.3h7.5v2.2h-7.5zM215.5 789.3h3.9v2.2h-3.9zM295.1 789.3h3.9v2.2h-3.9zM107 791.3h3.9v2.2h-3.9zM219.1 791.3h3.9v2.2h-3.9zM291.5 793.3h3.9v2.2h-3.9zM103.4 795.2h3.9v2.2h-3.9zM110.7 795.2h3.9v2.2h-3.9zM157.7 795.2h3.9v2.2h-3.9zM179.4 795.2h3.9v2.2h-3.9zM197.5 795.2h3.9v2.2h-3.9zM211.9 795.2h7.5v2.2h-7.5zM226.4 795.2h3.9v2.2h-3.9z" fill="#c0d2f6" shape-rendering="crispEdges"/>
<path d="M103.4 623.5h7.5v2.2h-7.5zM136 623.5h3.9v2.2h-3.9zM175.8 623.5h3.9v2.2h-3.9zM273.4 627.4h3.9v2.2h-3.9zM103.4 629.4h7.5v2.2h-7.5zM114.3 629.4h3.9v2.2h-3.9zM305.9 631.4h3.9v2.2h-3.9zM96.2 637.3h3.9v2.2h-3.9zM103.4 637.3h3.9v2.2h-3.9zM136 637.3h7.5v2.2h-7.5zM146.8 637.3h3.9v2.2h-3.9zM154.1 637.3h7.5v2.2h-7.5zM172.1 637.3h3.9v2.2h-3.9zM175.8 639.3h3.9v2.2h-3.9zM258.9 639.3h3.9v2.2h-3.9zM273.4 639.3h3.9v2.2h-3.9zM287.9 639.3h3.9v2.2h-3.9zM107 641.3h3.9v2.2h-3.9zM114.3 641.3h3.9v2.2h-3.9zM128.7 641.3h11.1v2.2h-11.1zM146.8 641.3h3.9v2.2h-3.9zM251.7 641.3h3.9v2.2h-3.9zM258.9 641.3h3.9v2.2h-3.9zM273.4 641.3h3.9v2.2h-3.9zM284.2 641.3h7.5v2.2h-7.5zM154.1 643.2h3.9v2.2h-3.9zM255.3 647.2h7.5v2.2h-7.5zM277 647.2h11.1v2.2h-11.1zM251.7 649.2h3.9v2.2h-3.9zM136 651.1h11.1v2.2h-11.1zM168.5 651.1h3.9v2.2h-3.9zM258.9 651.1h3.9v2.2h-3.9zM280.6 651.1h3.9v2.2h-3.9zM96.2 653.1h3.9v2.2h-3.9zM103.4 653.1h7.5v2.2h-7.5zM121.5 653.1h3.9v2.2h-3.9zM136 653.1h3.9v2.2h-3.9zM146.8 653.1h7.5v2.2h-7.5zM161.3 653.1h7.5v2.2h-7.5zM222.8 653.1h3.9v2.2h-3.9zM284.2 653.1h3.9v2.2h-3.9zM132.4 657.1h3.9v2.2h-3.9zM164.9 657.1h3.9v2.2h-3.9zM157.7 659h3.9v2.2h-3.9zM132.4 661h3.9v2.2h-3.9zM164.9 661h3.9v2.2h-3.9zM183 661h3.9v2.2h-3.9zM222.8 661h3.9v2.2h-3.9zM316.8 661h3.9v2.2h-3.9zM273.4 665h3.9v2.2h-3.9zM302.3 672.8h3.9v2.2h-3.9zM309.6 672.8h3.9v2.2h-3.9zM99.8 676.8h3.9v2.2h-3.9zM107 676.8h3.9v2.2h-3.9zM266.2 676.8h3.9v2.2h-3.9zM222.8 686.7h3.9v2.2h-3.9zM258.9 690.6h3.9v2.2h-3.9zM215.5 696.5h3.9v2.2h-3.9zM280.6 702.5h3.9v2.2h-3.9zM251.7 704.4h7.5v2.2h-7.5zM262.5 704.4h7.5v2.2h-7.5zM273.4 704.4h14.7v2.2h-14.7zM251.7 712.3h3.9v2.2h-3.9zM291.5 712.3h3.9v2.2h-3.9zM305.9 712.3h3.9v2.2h-3.9zM313.2 712.3h3.9v2.2h-3.9zM258.9 714.3h11.1v2.2h-11.1zM273.4 714.3h7.5v2.2h-7.5zM284.2 714.3h3.9v2.2h-3.9zM273.4 716.3h3.9v2.2h-3.9zM287.9 716.3h3.9v2.2h-3.9zM251.7 722.2h3.9v2.2h-3.9zM266.2 722.2h7.5v2.2h-7.5zM255.3 724.2h18.3v2.2h-18.3zM277 724.2h3.9v2.2h-3.9zM284.2 724.2h3.9v2.2h-3.9zM251.7 728.1h3.9v2.2h-3.9zM269.8 728.1h7.5v2.2h-7.5zM287.9 728.1h3.9v2.2h-3.9zM302.3 732.1h7.5v2.2h-7.5zM251.7 734h3.9v2.2h-3.9zM262.5 734h3.9v2.2h-3.9zM269.8 734h3.9v2.2h-3.9zM277 734h3.9v2.2h-3.9zM262.5 736h3.9v2.2h-3.9zM269.8 736h7.5v2.2h-7.5zM269.8 741.9h3.9v2.2h-3.9zM258.9 747.9h3.9v2.2h-3.9zM273.4 747.9h3.9v2.2h-3.9zM287.9 747.9h11.1v2.2h-11.1zM302.3 747.9h3.9v2.2h-3.9zM316.8 747.9h3.9v2.2h-3.9zM291.5 749.8h3.9v2.2h-3.9zM309.6 749.8h3.9v2.2h-3.9zM251.7 751.8h3.9v2.2h-3.9zM277 751.8h3.9v2.2h-3.9zM251.7 753.8h3.9v2.2h-3.9zM277 753.8h3.9v2.2h-3.9zM309.6 753.8h3.9v2.2h-3.9zM251.7 755.7h7.5v2.2h-7.5zM262.5 755.7h7.5v2.2h-7.5zM273.4 755.7h18.3v2.2h-18.3zM183 757.7h3.9v2.2h-3.9zM197.5 757.7h3.9v2.2h-3.9zM266.2 757.7h3.9v2.2h-3.9zM262.5 759.7h25.6v2.2h-25.6zM230 761.7h3.9v2.2h-3.9zM251.7 761.7h3.9v2.2h-3.9zM258.9 761.7h11.1v2.2h-11.1zM287.9 761.7h3.9v2.2h-3.9zM186.6 763.6h11.1v2.2h-11.1zM201.1 763.6h3.9v2.2h-3.9zM262.5 763.6h3.9v2.2h-3.9zM277 763.6h7.5v2.2h-7.5zM287.9 763.6h3.9v2.2h-3.9zM273.4 765.6h3.9v2.2h-3.9zM255.3 769.6h3.9v2.2h-3.9zM266.2 769.6h11.1v2.2h-11.1zM280.6 769.6h3.9v2.2h-3.9zM244.5 773.5h3.9v2.2h-3.9zM302.3 773.5h3.9v2.2h-3.9zM316.8 773.5h3.9v2.2h-3.9zM269.8 783.4h3.9v2.2h-3.9zM103.4 789.3h3.9v2.2h-3.9zM117.9 789.3h3.9v2.2h-3.9zM154.1 789.3h3.9v2.2h-3.9zM164.9 789.3h3.9v2.2h-3.9zM172.1 789.3h3.9v2.2h-3.9zM208.3 789.3h3.9v2.2h-3.9zM291.5 789.3h3.9v2.2h-3.9zM208.3 791.3h3.9v2.2h-3.9zM139.6 795.2h3.9v2.2h-3.9zM150.4 795.2h3.9v2.2h-3.9zM183 795.2h3.9v2.2h-3.9z" fill="#b4ccf6" shape-rendering="crispEdges"/>
<path d="M110.7 623.5h3.9v2.2h-3.9zM143.2 623.5h3.9v2.2h-3.9zM284.2 629.4h3.9v2.2h-3.9zM302.3 633.4h3.9v2.2h-3.9zM161.3 637.3h7.5v2.2h-7.5zM175.8 637.3h3.9v2.2h-3.9zM114.3 639.3h7.5v2.2h-7.5zM161.3 639.3h3.9v2.2h-3.9zM277 639.3h3.9v2.2h-3.9zM284.2 639.3h3.9v2.2h-3.9zM99.8 641.3h3.9v2.2h-3.9zM117.9 641.3h3.9v2.2h-3.9zM164.9 641.3h3.9v2.2h-3.9zM172.1 641.3h3.9v2.2h-3.9zM262.5 647.2h3.9v2.2h-3.9zM161.3 651.1h3.9v2.2h-3.9zM251.7 651.1h3.9v2.2h-3.9zM266.2 651.1h3.9v2.2h-3.9zM117.9 653.1h3.9v2.2h-3.9zM157.7 661h3.9v2.2h-3.9zM298.7 661h3.9v2.2h-3.9zM230 665h3.9v2.2h-3.9zM96.2 676.8h3.9v2.2h-3.9zM273.4 690.6h3.9v2.2h-3.9zM269.8 706.4h3.9v2.2h-3.9zM262.5 712.3h11.1v2.2h-11.1zM269.8 714.3h3.9v2.2h-3.9zM316.8 714.3h3.9v2.2h-3.9zM273.4 722.2h3.9v2.2h-3.9zM280.6 722.2h7.5v2.2h-7.5zM287.9 724.2h3.9v2.2h-3.9zM266.2 728.1h3.9v2.2h-3.9zM284.2 728.1h3.9v2.2h-3.9zM291.5 732.1h3.9v2.2h-3.9zM258.9 736h3.9v2.2h-3.9zM277 736h3.9v2.2h-3.9zM251.7 747.9h3.9v2.2h-3.9zM277 747.9h3.9v2.2h-3.9zM280.6 749.8h3.9v2.2h-3.9zM273.4 753.8h3.9v2.2h-3.9zM258.9 755.7h3.9v2.2h-3.9zM269.8 755.7h3.9v2.2h-3.9zM255.3 757.7h3.9v2.2h-3.9zM251.7 765.6h3.9v2.2h-3.9zM258.9 765.6h3.9v2.2h-3.9zM284.2 765.6h3.9v2.2h-3.9zM193.8 767.6h3.9v2.2h-3.9zM179.4 769.6h3.9v2.2h-3.9zM262.5 769.6h3.9v2.2h-3.9zM208.3 773.5h3.9v2.2h-3.9zM298.7 773.5h3.9v2.2h-3.9zM201.1 783.4h3.9v2.2h-3.9zM255.3 783.4h3.9v2.2h-3.9zM277 783.4h3.9v2.2h-3.9zM211.9 785.4h3.9v2.2h-3.9zM298.7 793.3h3.9v2.2h-3.9z" fill="#baccf6" shape-rendering="crispEdges"/>
<path d="M125.1 623.5h3.9v2.2h-3.9zM132.4 623.5h3.9v2.2h-3.9zM132.4 639.3h3.9v2.2h-3.9zM251.7 639.3h3.9v2.2h-3.9zM266.2 639.3h3.9v2.2h-3.9zM143.2 641.3h3.9v2.2h-3.9zM157.7 641.3h3.9v2.2h-3.9zM251.7 647.2h3.9v2.2h-3.9zM269.8 647.2h3.9v2.2h-3.9zM284.2 651.1h3.9v2.2h-3.9zM139.6 653.1h3.9v2.2h-3.9zM168.5 653.1h3.9v2.2h-3.9zM154.1 657.1h3.9v2.2h-3.9zM139.6 661h3.9v2.2h-3.9zM154.1 661h3.9v2.2h-3.9zM161.3 661h3.9v2.2h-3.9zM280.6 714.3h3.9v2.2h-3.9zM280.6 761.7h3.9v2.2h-3.9zM251.7 769.6h3.9v2.2h-3.9zM215.5 773.5h3.9v2.2h-3.9zM215.5 785.4h3.9v2.2h-3.9zM298.7 787.3h3.9v2.2h-3.9zM139.6 789.3h3.9v2.2h-3.9zM295.1 791.3h3.9v2.2h-3.9zM164.9 795.2h3.9v2.2h-3.9zM291.5 795.2h3.9v2.2h-3.9zM298.7 795.2h3.9v2.2h-3.9z" fill="#a8c6f6" shape-rendering="crispEdges"/>
<path d="M128.7 623.5h3.9v2.2h-3.9zM146.8 623.5h3.9v2.2h-3.9zM125.1 629.4h3.9v2.2h-3.9zM287.9 631.4h3.9v2.2h-3.9zM132.4 637.3h3.9v2.2h-3.9zM280.6 639.3h3.9v2.2h-3.9zM273.4 651.1h3.9v2.2h-3.9zM99.8 653.1h3.9v2.2h-3.9zM125.1 653.1h3.9v2.2h-3.9zM132.4 653.1h3.9v2.2h-3.9zM175.8 653.1h3.9v2.2h-3.9zM164.9 659h3.9v2.2h-3.9zM103.4 676.8h3.9v2.2h-3.9zM269.8 676.8h3.9v2.2h-3.9zM258.9 704.4h3.9v2.2h-3.9zM269.8 704.4h3.9v2.2h-3.9zM287.9 714.3h3.9v2.2h-3.9zM316.8 749.8h3.9v2.2h-3.9zM287.9 759.7h3.9v2.2h-3.9zM269.8 761.7h3.9v2.2h-3.9zM277 761.7h3.9v2.2h-3.9zM284.2 761.7h3.9v2.2h-3.9zM255.3 763.6h3.9v2.2h-3.9zM266.2 763.6h3.9v2.2h-3.9zM277 769.6h3.9v2.2h-3.9zM287.9 769.6h3.9v2.2h-3.9zM302.3 789.3h3.9v2.2h-3.9z" fill="#aeccf6" shape-rendering="crispEdges"/>
<path d="M150.4 623.5h3.9v2.2h-3.9zM269.8 623.5h3.9v2.2h-3.9zM96.2 625.5h3.9v2.2h-3.9zM114.3 625.5h3.9v2.2h-3.9zM121.5 625.5h11.1v2.2h-11.1zM139.6 625.5h3.9v2.2h-3.9zM175.8 625.5h3.9v2.2h-3.9zM136 627.4h3.9v2.2h-3.9zM157.7 627.4h3.9v2.2h-3.9zM219.1 627.4h3.9v2.2h-3.9zM269.8 627.4h3.9v2.2h-3.9zM287.9 627.4h3.9v2.2h-3.9zM132.4 629.4h3.9v2.2h-3.9zM157.7 629.4h3.9v2.2h-3.9zM287.9 629.4h3.9v2.2h-3.9zM266.2 631.4h3.9v2.2h-3.9zM273.4 631.4h3.9v2.2h-3.9zM154.1 633.4h7.5v2.2h-7.5zM168.5 633.4h3.9v2.2h-3.9zM150.4 635.3h3.9v2.2h-3.9zM143.2 637.3h3.9v2.2h-3.9zM222.8 637.3h3.9v2.2h-3.9zM233.6 637.3h3.9v2.2h-3.9zM313.2 637.3h3.9v2.2h-3.9zM136 639.3h3.9v2.2h-3.9zM143.2 639.3h3.9v2.2h-3.9zM164.9 639.3h3.9v2.2h-3.9zM222.8 639.3h3.9v2.2h-3.9zM233.6 639.3h3.9v2.2h-3.9zM262.5 639.3h3.9v2.2h-3.9zM244.5 641.3h3.9v2.2h-3.9zM125.1 643.2h3.9v2.2h-3.9zM136 643.2h3.9v2.2h-3.9zM143.2 643.2h7.5v2.2h-7.5zM168.5 643.2h3.9v2.2h-3.9zM284.2 643.2h3.9v2.2h-3.9zM107 645.2h3.9v2.2h-3.9zM125.1 645.2h3.9v2.2h-3.9zM132.4 645.2h3.9v2.2h-3.9zM154.1 645.2h3.9v2.2h-3.9zM172.1 645.2h3.9v2.2h-3.9zM251.7 645.2h3.9v2.2h-3.9zM269.8 645.2h3.9v2.2h-3.9zM277 645.2h3.9v2.2h-3.9zM146.8 647.2h3.9v2.2h-3.9zM161.3 647.2h3.9v2.2h-3.9zM103.4 649.2h3.9v2.2h-3.9zM114.3 649.2h3.9v2.2h-3.9zM121.5 649.2h7.5v2.2h-7.5zM143.2 649.2h3.9v2.2h-3.9zM157.7 649.2h3.9v2.2h-3.9zM258.9 649.2h3.9v2.2h-3.9zM233.6 651.1h7.5v2.2h-7.5zM230 653.1h3.9v2.2h-3.9zM248.1 653.1h3.9v2.2h-3.9zM269.8 653.1h3.9v2.2h-3.9zM251.7 655.1h3.9v2.2h-3.9zM139.6 657.1h3.9v2.2h-3.9zM150.4 657.1h3.9v2.2h-3.9zM157.7 657.1h3.9v2.2h-3.9zM168.5 657.1h3.9v2.2h-3.9zM280.6 657.1h3.9v2.2h-3.9zM168.5 659h3.9v2.2h-3.9zM175.8 659h3.9v2.2h-3.9zM230 661h3.9v2.2h-3.9zM277 661h3.9v2.2h-3.9zM291.5 661h3.9v2.2h-3.9zM302.3 661h3.9v2.2h-3.9zM219.1 665h7.5v2.2h-7.5zM251.7 665h3.9v2.2h-3.9zM233.6 668.9h7.5v2.2h-7.5zM251.7 668.9h3.9v2.2h-3.9zM287.9 668.9h3.9v2.2h-3.9zM237.2 670.9h3.9v2.2h-3.9zM248.1 670.9h3.9v2.2h-3.9zM291.5 672.8h3.9v2.2h-3.9zM99.8 674.8h3.9v2.2h-3.9zM233.6 674.8h3.9v2.2h-3.9zM248.1 674.8h3.9v2.2h-3.9zM295.1 674.8h3.9v2.2h-3.9zM244.5 676.8h3.9v2.2h-3.9zM284.2 676.8h3.9v2.2h-3.9zM309.6 676.8h3.9v2.2h-3.9zM244.5 678.8h3.9v2.2h-3.9zM269.8 678.8h3.9v2.2h-3.9zM277 678.8h3.9v2.2h-3.9zM251.7 682.7h3.9v2.2h-3.9zM269.8 682.7h14.7v2.2h-14.7zM284.2 684.7h3.9v2.2h-3.9zM204.7 686.7h3.9v2.2h-3.9zM219.1 686.7h3.9v2.2h-3.9zM248.1 686.7h3.9v2.2h-3.9zM309.6 688.6h3.9v2.2h-3.9zM316.8 688.6h3.9v2.2h-3.9zM226.4 690.6h3.9v2.2h-3.9zM277 690.6h3.9v2.2h-3.9zM284.2 690.6h3.9v2.2h-3.9zM183 696.5h3.9v2.2h-3.9zM269.8 696.5h3.9v2.2h-3.9zM251.7 702.5h3.9v2.2h-3.9zM284.2 702.5h7.5v2.2h-7.5zM295.1 714.3h3.9v2.2h-3.9zM313.2 714.3h3.9v2.2h-3.9zM277 718.2h7.5v2.2h-7.5zM269.8 720.2h3.9v2.2h-3.9zM277 720.2h3.9v2.2h-3.9zM284.2 720.2h3.9v2.2h-3.9zM255.3 726.1h3.9v2.2h-3.9zM277 726.1h3.9v2.2h-3.9zM280.6 730.1h11.1v2.2h-11.1zM266.2 732.1h3.9v2.2h-3.9zM255.3 738h3.9v2.2h-3.9zM251.7 740h7.5v2.2h-7.5zM262.5 740h3.9v2.2h-3.9zM269.8 740h3.9v2.2h-3.9zM277 740h7.5v2.2h-7.5zM266.2 741.9h3.9v2.2h-3.9zM277 743.9h3.9v2.2h-3.9zM287.9 743.9h3.9v2.2h-3.9zM298.7 747.9h3.9v2.2h-3.9zM305.9 749.8h3.9v2.2h-3.9zM316.8 751.8h3.9v2.2h-3.9zM309.6 755.7h7.5v2.2h-7.5zM273.4 757.7h3.9v2.2h-3.9zM280.6 757.7h3.9v2.2h-3.9zM295.1 759.7h3.9v2.2h-3.9zM305.9 759.7h3.9v2.2h-3.9zM208.3 761.7h3.9v2.2h-3.9zM244.5 761.7h3.9v2.2h-3.9zM313.2 761.7h7.5v2.2h-7.5zM211.9 763.6h7.5v2.2h-7.5zM302.3 763.6h7.5v2.2h-7.5zM233.6 765.6h3.9v2.2h-3.9zM244.5 765.6h3.9v2.2h-3.9zM201.1 767.6h3.9v2.2h-3.9zM208.3 767.6h3.9v2.2h-3.9zM269.8 767.6h3.9v2.2h-3.9zM291.5 767.6h3.9v2.2h-3.9zM186.6 769.6h3.9v2.2h-3.9zM233.6 769.6h3.9v2.2h-3.9zM251.7 771.5h7.5v2.2h-7.5zM262.5 771.5h3.9v2.2h-3.9zM284.2 771.5h3.9v2.2h-3.9zM183 773.5h3.9v2.2h-3.9zM248.1 773.5h3.9v2.2h-3.9zM269.8 775.5h3.9v2.2h-3.9zM284.2 775.5h3.9v2.2h-3.9zM280.6 777.5h3.9v2.2h-3.9zM269.8 779.4h7.5v2.2h-7.5zM183 781.4h3.9v2.2h-3.9zM251.7 781.4h3.9v2.2h-3.9zM280.6 781.4h3.9v2.2h-3.9zM287.9 781.4h3.9v2.2h-3.9zM230 783.4h3.9v2.2h-3.9zM284.2 783.4h3.9v2.2h-3.9zM183 785.4h3.9v2.2h-3.9zM190.2 785.4h3.9v2.2h-3.9zM226.4 785.4h3.9v2.2h-3.9zM244.5 785.4h3.9v2.2h-3.9zM258.9 785.4h3.9v2.2h-3.9zM197.5 789.3h3.9v2.2h-3.9zM117.9 791.3h3.9v2.2h-3.9zM161.3 791.3h3.9v2.2h-3.9zM215.5 791.3h3.9v2.2h-3.9zM313.2 791.3h3.9v2.2h-3.9zM233.6 793.3h3.9v2.2h-3.9zM204.7 795.2h3.9v2.2h-3.9zM240.8 795.2h3.9v2.2h-3.9z" fill="#c6d8f6" shape-rendering="crispEdges"/>
<path d="M154.1 623.5h3.9v2.2h-3.9zM172.1 623.5h3.9v2.2h-3.9zM110.7 637.3h3.9v2.2h-3.9zM269.8 639.3h3.9v2.2h-3.9zM262.5 641.3h7.5v2.2h-7.5zM280.6 641.3h3.9v2.2h-3.9zM266.2 647.2h3.9v2.2h-3.9zM287.9 649.2h3.9v2.2h-3.9zM269.8 651.1h3.9v2.2h-3.9zM273.4 655.1h3.9v2.2h-3.9zM150.4 661h3.9v2.2h-3.9zM258.9 665h3.9v2.2h-3.9zM269.8 665h3.9v2.2h-3.9zM287.9 704.4h3.9v2.2h-3.9zM295.1 712.3h3.9v2.2h-3.9zM251.7 714.3h7.5v2.2h-7.5zM280.6 724.2h3.9v2.2h-3.9zM313.2 753.8h3.9v2.2h-3.9zM251.7 759.7h3.9v2.2h-3.9zM255.3 761.7h3.9v2.2h-3.9zM291.5 787.3h3.9v2.2h-3.9zM302.3 791.3h3.9v2.2h-3.9zM226.4 793.3h3.9v2.2h-3.9zM302.3 795.2h3.9v2.2h-3.9z" fill="#aec6f6" shape-rendering="crispEdges"/>
<path d="M179.4 623.5h3.9v2.2h-3.9zM186.6 623.5h3.9v2.2h-3.9zM193.8 623.5h7.5v2.2h-7.5zM208.3 625.5h3.9v2.2h-3.9zM186.6 631.4h3.9v2.2h-3.9zM179.4 633.4h3.9v2.2h-3.9zM201.1 633.4h3.9v2.2h-3.9zM298.7 635.3h3.9v2.2h-3.9zM193.8 641.3h3.9v2.2h-3.9zM211.9 641.3h3.9v2.2h-3.9zM302.3 641.3h3.9v2.2h-3.9zM204.7 645.2h3.9v2.2h-3.9zM295.1 645.2h3.9v2.2h-3.9zM313.2 645.2h7.5v2.2h-7.5zM208.3 647.2h3.9v2.2h-3.9zM291.5 649.2h7.5v2.2h-7.5zM186.6 651.1h7.5v2.2h-7.5zM128.7 659h3.9v2.2h-3.9zM258.9 670.9h3.9v2.2h-3.9zM258.9 674.8h3.9v2.2h-3.9zM277 674.8h3.9v2.2h-3.9zM172.1 678.8h3.9v2.2h-3.9zM136 720.2h3.9v2.2h-3.9zM313.2 726.1h3.9v2.2h-3.9zM96.2 771.5h3.9v2.2h-3.9zM172.1 771.5h3.9v2.2h-3.9zM291.5 775.5h3.9v2.2h-3.9zM295.1 783.4h3.9v2.2h-3.9zM172.1 787.3h3.9v2.2h-3.9z" fill="#f6b49c" shape-rendering="crispEdges"/>
<path d="M183 623.5h3.9v2.2h-3.9zM204.7 623.5h3.9v2.2h-3.9zM204.7 641.3h3.9v2.2h-3.9zM255.3 672.8h3.9v2.2h-3.9zM262.5 672.8h3.9v2.2h-3.9zM273.4 674.8h3.9v2.2h-3.9zM313.2 692.6h3.9v2.2h-3.9zM291.5 702.5h3.9v2.2h-3.9zM295.1 706.4h7.5v2.2h-7.5zM298.7 775.5h3.9v2.2h-3.9zM295.1 781.4h3.9v2.2h-3.9z" fill="#f6ae96" shape-rendering="crispEdges"/>
<path d="M190.2 623.5h3.9v2.2h-3.9zM305.9 637.3h3.9v2.2h-3.9zM251.7 674.8h3.9v2.2h-3.9zM291.5 781.4h3.9v2.2h-3.9z" fill="#f0a28a" shape-rendering="crispEdges"/>
<path d="M201.1 623.5h3.9v2.2h-3.9zM251.7 623.5h3.9v2.2h-3.9zM295.1 627.4h3.9v2.2h-3.9zM291.5 631.4h3.9v2.2h-3.9zM215.5 633.4h3.9v2.2h-3.9zM295.1 633.4h7.5v2.2h-7.5zM204.7 635.3h3.9v2.2h-3.9zM215.5 641.3h3.9v2.2h-3.9zM193.8 647.2h3.9v2.2h-3.9zM204.7 651.1h3.9v2.2h-3.9zM125.1 659h3.9v2.2h-3.9zM248.1 704.4h3.9v2.2h-3.9zM190.2 706.4h3.9v2.2h-3.9zM211.9 718.2h3.9v2.2h-3.9zM313.2 724.2h3.9v2.2h-3.9zM143.2 726.1h3.9v2.2h-3.9zM128.7 771.5h3.9v2.2h-3.9zM132.4 775.5h3.9v2.2h-3.9zM295.1 777.5h3.9v2.2h-3.9zM295.1 779.4h3.9v2.2h-3.9zM103.4 793.3h3.9v2.2h-3.9zM150.4 793.3h3.9v2.2h-3.9z" fill="#f6baa8" shape-rendering="crispEdges"/>
<path d="M208.3 623.5h3.9v2.2h-3.9zM183 635.3h3.9v2.2h-3.9zM295.1 635.3h3.9v2.2h-3.9zM309.6 643.2h3.9v2.2h-3.9zM211.9 651.1h3.9v2.2h-3.9z" fill="#f0ae90" shape-rendering="crispEdges"/>
<path d="M211.9 623.5h3.9v2.2h-3.9zM255.3 623.5h7.5v2.2h-7.5zM262.5 625.5h3.9v2.2h-3.9zM186.6 627.4h3.9v2.2h-3.9zM193.8 631.4h3.9v2.2h-3.9zM295.1 631.4h3.9v2.2h-3.9zM193.8 633.4h3.9v2.2h-3.9zM258.9 637.3h3.9v2.2h-3.9zM316.8 639.3h3.9v2.2h-3.9zM197.5 641.3h3.9v2.2h-3.9zM208.3 641.3h3.9v2.2h-3.9zM197.5 643.2h3.9v2.2h-3.9zM298.7 643.2h3.9v2.2h-3.9zM179.4 647.2h3.9v2.2h-3.9zM186.6 647.2h3.9v2.2h-3.9zM204.7 647.2h3.9v2.2h-3.9zM313.2 647.2h3.9v2.2h-3.9zM298.7 649.2h3.9v2.2h-3.9zM183 651.1h3.9v2.2h-3.9zM193.8 651.1h7.5v2.2h-7.5zM107 657.1h3.9v2.2h-3.9zM117.9 659h3.9v2.2h-3.9zM132.4 666.9h3.9v2.2h-3.9zM251.7 672.8h3.9v2.2h-3.9zM262.5 674.8h3.9v2.2h-3.9zM117.9 678.8h3.9v2.2h-3.9zM125.1 678.8h3.9v2.2h-3.9zM309.6 692.6h3.9v2.2h-3.9zM316.8 692.6h3.9v2.2h-3.9zM313.2 694.6h3.9v2.2h-3.9zM208.3 718.2h3.9v2.2h-3.9zM125.1 722.2h3.9v2.2h-3.9zM164.9 722.2h3.9v2.2h-3.9zM211.9 724.2h3.9v2.2h-3.9zM309.6 724.2h3.9v2.2h-3.9zM316.8 726.1h3.9v2.2h-3.9zM154.1 743.9h3.9v2.2h-3.9zM139.6 759.7h3.9v2.2h-3.9zM114.3 771.5h3.9v2.2h-3.9zM132.4 771.5h3.9v2.2h-3.9zM154.1 771.5h3.9v2.2h-3.9zM146.8 783.4h3.9v2.2h-3.9zM291.5 783.4h3.9v2.2h-3.9zM96.2 793.3h3.9v2.2h-3.9zM110.7 793.3h3.9v2.2h-3.9zM146.8 793.3h3.9v2.2h-3.9zM164.9 793.3h7.5v2.2h-7.5z" fill="#f6baa2" shape-rendering="crispEdges"/>
<path d="M215.5 623.5h3.9v2.2h-3.9zM197.5 625.5h3.9v2.2h-3.9zM215.5 625.5h3.9v2.2h-3.9zM251.7 625.5h3.9v2.2h-3.9zM201.1 631.4h3.9v2.2h-3.9zM190.2 633.4h3.9v2.2h-3.9zM186.6 641.3h3.9v2.2h-3.9zM201.1 643.2h3.9v2.2h-3.9zM208.3 643.2h3.9v2.2h-3.9zM190.2 645.2h3.9v2.2h-3.9zM201.1 645.2h3.9v2.2h-3.9zM309.6 647.2h3.9v2.2h-3.9zM179.4 655.1h3.9v2.2h-3.9zM190.2 655.1h7.5v2.2h-7.5zM110.7 657.1h3.9v2.2h-3.9zM117.9 657.1h3.9v2.2h-3.9zM107 659h3.9v2.2h-3.9zM255.3 670.9h3.9v2.2h-3.9zM266.2 674.8h3.9v2.2h-3.9zM284.2 674.8h3.9v2.2h-3.9zM110.7 678.8h3.9v2.2h-3.9zM139.6 678.8h3.9v2.2h-3.9zM175.8 678.8h3.9v2.2h-3.9zM309.6 694.6h3.9v2.2h-3.9zM295.1 702.5h3.9v2.2h-3.9zM291.5 708.4h3.9v2.2h-3.9zM96.2 720.2h3.9v2.2h-3.9zM107 720.2h3.9v2.2h-3.9zM117.9 722.2h3.9v2.2h-3.9zM128.7 722.2h3.9v2.2h-3.9zM313.2 722.2h3.9v2.2h-3.9zM125.1 724.2h3.9v2.2h-3.9zM154.1 724.2h3.9v2.2h-3.9zM125.1 726.1h3.9v2.2h-3.9zM132.4 726.1h3.9v2.2h-3.9zM150.4 726.1h3.9v2.2h-3.9zM161.3 726.1h3.9v2.2h-3.9zM157.7 741.9h3.9v2.2h-3.9zM143.2 743.9h3.9v2.2h-3.9zM157.7 743.9h3.9v2.2h-3.9zM114.3 751.8h3.9v2.2h-3.9zM146.8 751.8h3.9v2.2h-3.9zM103.4 771.5h3.9v2.2h-3.9zM146.8 771.5h3.9v2.2h-3.9zM168.5 771.5h3.9v2.2h-3.9zM114.3 775.5h3.9v2.2h-3.9zM298.7 777.5h3.9v2.2h-3.9zM99.8 793.3h3.9v2.2h-3.9zM128.7 793.3h3.9v2.2h-3.9zM143.2 793.3h3.9v2.2h-3.9z" fill="#f6c0a8" shape-rendering="crispEdges"/>
<path d="M219.1 623.5h3.9v2.2h-3.9zM186.6 625.5h3.9v2.2h-3.9zM219.1 625.5h7.5v2.2h-7.5zM251.7 627.4h3.9v2.2h-3.9zM183 629.4h3.9v2.2h-3.9zM197.5 629.4h3.9v2.2h-3.9zM251.7 631.4h3.9v2.2h-3.9zM258.9 631.4h3.9v2.2h-3.9zM190.2 637.3h11.1v2.2h-11.1zM211.9 637.3h3.9v2.2h-3.9zM183 639.3h3.9v2.2h-3.9zM204.7 639.3h7.5v2.2h-7.5zM291.5 639.3h3.9v2.2h-3.9zM215.5 643.2h3.9v2.2h-3.9zM201.1 649.2h3.9v2.2h-3.9zM208.3 649.2h3.9v2.2h-3.9zM204.7 653.1h3.9v2.2h-3.9zM99.8 661h3.9v2.2h-3.9zM107 661h3.9v2.2h-3.9zM114.3 661h3.9v2.2h-3.9zM99.8 663h7.5v2.2h-7.5zM114.3 663h3.9v2.2h-3.9zM125.1 663h11.1v2.2h-11.1zM139.6 663h3.9v2.2h-3.9zM157.7 663h3.9v2.2h-3.9zM164.9 663h14.7v2.2h-14.7zM96.2 665h3.9v2.2h-3.9zM117.9 665h3.9v2.2h-3.9zM125.1 665h7.5v2.2h-7.5zM136 665h3.9v2.2h-3.9zM143.2 665h3.9v2.2h-3.9zM150.4 665h3.9v2.2h-3.9zM168.5 665h3.9v2.2h-3.9zM175.8 665h3.9v2.2h-3.9zM96.2 666.9h3.9v2.2h-3.9zM136 666.9h3.9v2.2h-3.9zM99.8 668.9h3.9v2.2h-3.9zM107 668.9h3.9v2.2h-3.9zM146.8 668.9h3.9v2.2h-3.9zM154.1 668.9h14.7v2.2h-14.7zM175.8 668.9h3.9v2.2h-3.9zM117.9 670.9h3.9v2.2h-3.9zM269.8 670.9h3.9v2.2h-3.9zM284.2 670.9h3.9v2.2h-3.9zM96.2 672.8h3.9v2.2h-3.9zM128.7 672.8h7.5v2.2h-7.5zM157.7 672.8h3.9v2.2h-3.9zM164.9 672.8h3.9v2.2h-3.9zM121.5 674.8h3.9v2.2h-3.9zM128.7 674.8h3.9v2.2h-3.9zM157.7 674.8h3.9v2.2h-3.9zM164.9 674.8h3.9v2.2h-3.9zM154.1 680.7h3.9v2.2h-3.9zM164.9 680.7h3.9v2.2h-3.9zM172.1 680.7h7.5v2.2h-7.5zM96.2 682.7h3.9v2.2h-3.9zM103.4 682.7h3.9v2.2h-3.9zM110.7 682.7h3.9v2.2h-3.9zM121.5 682.7h7.5v2.2h-7.5zM132.4 682.7h3.9v2.2h-3.9zM139.6 682.7h3.9v2.2h-3.9zM150.4 682.7h3.9v2.2h-3.9zM164.9 682.7h3.9v2.2h-3.9zM96.2 684.7h3.9v2.2h-3.9zM114.3 684.7h3.9v2.2h-3.9zM139.6 684.7h3.9v2.2h-3.9zM150.4 684.7h3.9v2.2h-3.9zM121.5 686.7h3.9v2.2h-3.9zM143.2 686.7h3.9v2.2h-3.9zM96.2 688.6h3.9v2.2h-3.9zM143.2 688.6h7.5v2.2h-7.5zM154.1 688.6h7.5v2.2h-7.5zM164.9 688.6h3.9v2.2h-3.9zM172.1 688.6h3.9v2.2h-3.9zM117.9 690.6h3.9v2.2h-3.9zM164.9 690.6h3.9v2.2h-3.9zM96.2 692.6h3.9v2.2h-3.9zM121.5 692.6h7.5v2.2h-7.5zM136 692.6h3.9v2.2h-3.9zM143.2 692.6h3.9v2.2h-3.9zM161.3 692.6h7.5v2.2h-7.5zM121.5 694.6h3.9v2.2h-3.9zM139.6 694.6h3.9v2.2h-3.9zM150.4 694.6h3.9v2.2h-3.9zM164.9 694.6h3.9v2.2h-3.9zM172.1 694.6h3.9v2.2h-3.9zM96.2 696.5h3.9v2.2h-3.9zM107 696.5h3.9v2.2h-3.9zM121.5 696.5h11.1v2.2h-11.1zM150.4 696.5h3.9v2.2h-3.9zM161.3 696.5h11.1v2.2h-11.1zM175.8 696.5h3.9v2.2h-3.9zM103.4 698.5h3.9v2.2h-3.9zM117.9 698.5h3.9v2.2h-3.9zM132.4 698.5h3.9v2.2h-3.9zM139.6 698.5h3.9v2.2h-3.9zM146.8 698.5h3.9v2.2h-3.9zM168.5 698.5h7.5v2.2h-7.5zM96.2 700.5h11.1v2.2h-11.1zM110.7 700.5h7.5v2.2h-7.5zM128.7 700.5h7.5v2.2h-7.5zM157.7 700.5h7.5v2.2h-7.5zM175.8 700.5h3.9v2.2h-3.9zM168.5 702.5h7.5v2.2h-7.5zM211.9 702.5h7.5v2.2h-7.5zM96.2 704.4h3.9v2.2h-3.9zM143.2 704.4h3.9v2.2h-3.9zM172.1 704.4h3.9v2.2h-3.9zM186.6 704.4h7.5v2.2h-7.5zM114.3 706.4h7.5v2.2h-7.5zM128.7 706.4h7.5v2.2h-7.5zM168.5 706.4h3.9v2.2h-3.9zM208.3 706.4h3.9v2.2h-3.9zM226.4 706.4h7.5v2.2h-7.5zM117.9 708.4h7.5v2.2h-7.5zM136 708.4h3.9v2.2h-3.9zM179.4 708.4h3.9v2.2h-3.9zM96.2 710.4h11.1v2.2h-11.1zM114.3 710.4h3.9v2.2h-3.9zM128.7 710.4h3.9v2.2h-3.9zM136 710.4h3.9v2.2h-3.9zM150.4 710.4h14.7v2.2h-14.7zM204.7 710.4h3.9v2.2h-3.9zM237.2 710.4h3.9v2.2h-3.9zM114.3 712.3h3.9v2.2h-3.9zM125.1 712.3h3.9v2.2h-3.9zM136 712.3h3.9v2.2h-3.9zM161.3 712.3h3.9v2.2h-3.9zM172.1 712.3h3.9v2.2h-3.9zM222.8 712.3h3.9v2.2h-3.9zM233.6 712.3h3.9v2.2h-3.9zM114.3 714.3h3.9v2.2h-3.9zM121.5 714.3h3.9v2.2h-3.9zM157.7 714.3h3.9v2.2h-3.9zM175.8 714.3h3.9v2.2h-3.9zM190.2 714.3h3.9v2.2h-3.9zM99.8 716.3h3.9v2.2h-3.9zM121.5 716.3h7.5v2.2h-7.5zM193.8 716.3h3.9v2.2h-3.9zM96.2 718.2h7.5v2.2h-7.5zM110.7 718.2h3.9v2.2h-3.9zM132.4 718.2h3.9v2.2h-3.9zM143.2 718.2h3.9v2.2h-3.9zM157.7 718.2h3.9v2.2h-3.9zM197.5 718.2h3.9v2.2h-3.9zM226.4 718.2h3.9v2.2h-3.9zM244.5 718.2h3.9v2.2h-3.9zM237.2 720.2h3.9v2.2h-3.9zM186.6 722.2h3.9v2.2h-3.9zM99.8 724.2h7.5v2.2h-7.5zM110.7 724.2h11.1v2.2h-11.1zM157.7 724.2h3.9v2.2h-3.9zM168.5 724.2h3.9v2.2h-3.9zM175.8 724.2h7.5v2.2h-7.5zM201.1 724.2h3.9v2.2h-3.9zM237.2 724.2h3.9v2.2h-3.9zM146.8 726.1h3.9v2.2h-3.9zM197.5 726.1h3.9v2.2h-3.9zM110.7 728.1h7.5v2.2h-7.5zM121.5 728.1h3.9v2.2h-3.9zM175.8 728.1h3.9v2.2h-3.9zM211.9 728.1h3.9v2.2h-3.9zM233.6 728.1h3.9v2.2h-3.9zM244.5 728.1h3.9v2.2h-3.9zM313.2 728.1h3.9v2.2h-3.9zM99.8 730.1h11.1v2.2h-11.1zM114.3 730.1h7.5v2.2h-7.5zM125.1 730.1h7.5v2.2h-7.5zM136 730.1h3.9v2.2h-3.9zM157.7 730.1h3.9v2.2h-3.9zM172.1 730.1h3.9v2.2h-3.9zM211.9 730.1h3.9v2.2h-3.9zM230 730.1h3.9v2.2h-3.9zM107 732.1h3.9v2.2h-3.9zM150.4 732.1h3.9v2.2h-3.9zM168.5 732.1h3.9v2.2h-3.9zM244.5 734h3.9v2.2h-3.9zM96.2 736h3.9v2.2h-3.9zM103.4 736h3.9v2.2h-3.9zM114.3 736h3.9v2.2h-3.9zM121.5 736h3.9v2.2h-3.9zM146.8 736h7.5v2.2h-7.5zM168.5 736h3.9v2.2h-3.9zM183 736h3.9v2.2h-3.9zM193.8 736h3.9v2.2h-3.9zM215.5 736h3.9v2.2h-3.9zM222.8 736h3.9v2.2h-3.9zM248.1 736h3.9v2.2h-3.9zM110.7 738h3.9v2.2h-3.9zM117.9 738h18.3v2.2h-18.3zM139.6 738h3.9v2.2h-3.9zM150.4 738h3.9v2.2h-3.9zM161.3 738h3.9v2.2h-3.9zM230 738h7.5v2.2h-7.5zM248.1 738h3.9v2.2h-3.9zM117.9 740h11.1v2.2h-11.1zM146.8 740h7.5v2.2h-7.5zM168.5 740h3.9v2.2h-3.9zM175.8 740h3.9v2.2h-3.9zM183 741.9h3.9v2.2h-3.9zM240.8 741.9h3.9v2.2h-3.9zM125.1 743.9h7.5v2.2h-7.5zM161.3 743.9h3.9v2.2h-3.9zM179.4 743.9h7.5v2.2h-7.5zM211.9 743.9h3.9v2.2h-3.9zM107 745.9h3.9v2.2h-3.9zM128.7 745.9h3.9v2.2h-3.9zM96.2 747.9h3.9v2.2h-3.9zM110.7 747.9h3.9v2.2h-3.9zM136 747.9h3.9v2.2h-3.9zM197.5 747.9h3.9v2.2h-3.9zM110.7 749.8h3.9v2.2h-3.9zM128.7 749.8h7.5v2.2h-7.5zM154.1 749.8h3.9v2.2h-3.9zM233.6 749.8h3.9v2.2h-3.9zM244.5 749.8h3.9v2.2h-3.9zM96.2 751.8h3.9v2.2h-3.9zM107 751.8h3.9v2.2h-3.9zM157.7 751.8h3.9v2.2h-3.9zM183 751.8h7.5v2.2h-7.5zM99.8 753.8h3.9v2.2h-3.9zM208.3 753.8h3.9v2.2h-3.9zM96.2 755.7h3.9v2.2h-3.9zM107 755.7h3.9v2.2h-3.9zM117.9 755.7h3.9v2.2h-3.9zM125.1 755.7h7.5v2.2h-7.5zM139.6 755.7h3.9v2.2h-3.9zM172.1 755.7h3.9v2.2h-3.9zM114.3 757.7h7.5v2.2h-7.5zM128.7 757.7h7.5v2.2h-7.5zM139.6 757.7h3.9v2.2h-3.9zM154.1 757.7h3.9v2.2h-3.9zM168.5 757.7h7.5v2.2h-7.5zM99.8 761.7h3.9v2.2h-3.9zM107 761.7h3.9v2.2h-3.9zM114.3 761.7h3.9v2.2h-3.9zM121.5 761.7h11.1v2.2h-11.1zM136 761.7h3.9v2.2h-3.9zM157.7 761.7h3.9v2.2h-3.9zM164.9 761.7h3.9v2.2h-3.9zM172.1 761.7h7.5v2.2h-7.5zM103.4 763.6h3.9v2.2h-3.9zM114.3 763.6h3.9v2.2h-3.9zM128.7 763.6h3.9v2.2h-3.9zM136 763.6h3.9v2.2h-3.9zM143.2 763.6h3.9v2.2h-3.9zM150.4 763.6h3.9v2.2h-3.9zM164.9 763.6h3.9v2.2h-3.9zM172.1 763.6h3.9v2.2h-3.9zM96.2 765.6h3.9v2.2h-3.9zM107 765.6h7.5v2.2h-7.5zM125.1 765.6h7.5v2.2h-7.5zM136 765.6h11.1v2.2h-11.1zM157.7 765.6h3.9v2.2h-3.9zM107 767.6h7.5v2.2h-7.5zM125.1 767.6h3.9v2.2h-3.9zM136 767.6h7.5v2.2h-7.5zM150.4 767.6h3.9v2.2h-3.9zM107 769.6h3.9v2.2h-3.9zM139.6 769.6h7.5v2.2h-7.5zM150.4 769.6h3.9v2.2h-3.9zM103.4 773.5h3.9v2.2h-3.9zM114.3 773.5h3.9v2.2h-3.9zM128.7 773.5h11.1v2.2h-11.1zM157.7 773.5h3.9v2.2h-3.9zM175.8 773.5h3.9v2.2h-3.9zM154.1 775.5h3.9v2.2h-3.9zM164.9 775.5h3.9v2.2h-3.9zM172.1 775.5h3.9v2.2h-3.9zM96.2 777.5h3.9v2.2h-3.9zM114.3 777.5h3.9v2.2h-3.9zM125.1 777.5h3.9v2.2h-3.9zM132.4 777.5h7.5v2.2h-7.5zM154.1 777.5h3.9v2.2h-3.9zM161.3 777.5h14.7v2.2h-14.7zM96.2 779.4h7.5v2.2h-7.5zM110.7 779.4h3.9v2.2h-3.9zM121.5 779.4h3.9v2.2h-3.9zM132.4 779.4h3.9v2.2h-3.9zM139.6 779.4h3.9v2.2h-3.9zM146.8 779.4h7.5v2.2h-7.5zM164.9 779.4h7.5v2.2h-7.5zM175.8 779.4h3.9v2.2h-3.9zM136 781.4h3.9v2.2h-3.9zM121.5 783.4h3.9v2.2h-3.9zM136 783.4h7.5v2.2h-7.5zM154.1 783.4h3.9v2.2h-3.9zM161.3 783.4h3.9v2.2h-3.9zM99.8 785.4h7.5v2.2h-7.5zM136 785.4h3.9v2.2h-3.9zM175.8 785.4h3.9v2.2h-3.9zM128.7 787.3h3.9v2.2h-3.9zM132.4 789.3h3.9v2.2h-3.9zM146.8 789.3h3.9v2.2h-3.9zM157.7 789.3h3.9v2.2h-3.9zM139.6 791.3h3.9v2.2h-3.9zM99.8 795.2h3.9v2.2h-3.9zM107 795.2h3.9v2.2h-3.9zM121.5 795.2h7.5v2.2h-7.5zM175.8 795.2h3.9v2.2h-3.9z" fill="#f0d2c6" shape-rendering="crispEdges"/>
<path d="M222.8 623.5h3.9v2.2h-3.9zM262.5 623.5h3.9v2.2h-3.9zM201.1 625.5h3.9v2.2h-3.9zM230 625.5h3.9v2.2h-3.9zM193.8 627.4h3.9v2.2h-3.9zM204.7 627.4h11.1v2.2h-11.1zM291.5 629.4h3.9v2.2h-3.9zM204.7 631.4h3.9v2.2h-3.9zM211.9 631.4h3.9v2.2h-3.9zM197.5 633.4h3.9v2.2h-3.9zM193.8 635.3h3.9v2.2h-3.9zM208.3 635.3h3.9v2.2h-3.9zM255.3 637.3h3.9v2.2h-3.9zM262.5 637.3h3.9v2.2h-3.9zM298.7 639.3h3.9v2.2h-3.9zM190.2 641.3h3.9v2.2h-3.9zM201.1 641.3h3.9v2.2h-3.9zM309.6 641.3h3.9v2.2h-3.9zM211.9 643.2h3.9v2.2h-3.9zM186.6 645.2h3.9v2.2h-3.9zM193.8 645.2h3.9v2.2h-3.9zM291.5 645.2h3.9v2.2h-3.9zM197.5 647.2h3.9v2.2h-3.9zM179.4 651.1h3.9v2.2h-3.9zM215.5 651.1h3.9v2.2h-3.9zM186.6 655.1h3.9v2.2h-3.9zM201.1 655.1h3.9v2.2h-3.9zM208.3 655.1h3.9v2.2h-3.9zM103.4 657.1h3.9v2.2h-3.9zM125.1 657.1h3.9v2.2h-3.9zM99.8 659h3.9v2.2h-3.9zM110.7 659h3.9v2.2h-3.9zM117.9 666.9h3.9v2.2h-3.9zM117.9 672.8h3.9v2.2h-3.9zM266.2 672.8h7.5v2.2h-7.5zM269.8 674.8h3.9v2.2h-3.9zM99.8 678.8h7.5v2.2h-7.5zM128.7 678.8h3.9v2.2h-3.9zM143.2 678.8h3.9v2.2h-3.9zM150.4 678.8h3.9v2.2h-3.9zM168.5 678.8h3.9v2.2h-3.9zM107 684.7h3.9v2.2h-3.9zM128.7 684.7h3.9v2.2h-3.9zM103.4 702.5h3.9v2.2h-3.9zM132.4 702.5h3.9v2.2h-3.9zM183 706.4h3.9v2.2h-3.9zM233.6 710.4h3.9v2.2h-3.9zM183 716.3h3.9v2.2h-3.9zM121.5 718.2h3.9v2.2h-3.9zM230 718.2h3.9v2.2h-3.9zM103.4 720.2h3.9v2.2h-3.9zM117.9 720.2h7.5v2.2h-7.5zM128.7 720.2h3.9v2.2h-3.9zM139.6 720.2h3.9v2.2h-3.9zM197.5 720.2h3.9v2.2h-3.9zM110.7 722.2h7.5v2.2h-7.5zM139.6 722.2h3.9v2.2h-3.9zM150.4 722.2h3.9v2.2h-3.9zM215.5 722.2h3.9v2.2h-3.9zM99.8 726.1h3.9v2.2h-3.9zM107 726.1h3.9v2.2h-3.9zM139.6 726.1h3.9v2.2h-3.9zM157.7 726.1h3.9v2.2h-3.9zM219.1 726.1h3.9v2.2h-3.9zM248.1 726.1h3.9v2.2h-3.9zM197.5 736h3.9v2.2h-3.9zM208.3 740h7.5v2.2h-7.5zM96.2 741.9h3.9v2.2h-3.9zM150.4 741.9h3.9v2.2h-3.9zM230 741.9h3.9v2.2h-3.9zM117.9 743.9h7.5v2.2h-7.5zM132.4 743.9h3.9v2.2h-3.9zM172.1 743.9h3.9v2.2h-3.9zM114.3 745.9h3.9v2.2h-3.9zM125.1 745.9h3.9v2.2h-3.9zM164.9 745.9h3.9v2.2h-3.9zM103.4 749.8h7.5v2.2h-7.5zM103.4 751.8h3.9v2.2h-3.9zM161.3 751.8h3.9v2.2h-3.9zM172.1 751.8h7.5v2.2h-7.5zM161.3 755.7h3.9v2.2h-3.9zM96.2 759.7h3.9v2.2h-3.9zM117.9 759.7h3.9v2.2h-3.9zM146.8 759.7h3.9v2.2h-3.9zM157.7 759.7h3.9v2.2h-3.9zM154.1 763.6h3.9v2.2h-3.9zM99.8 769.6h3.9v2.2h-3.9zM146.8 769.6h3.9v2.2h-3.9zM125.1 771.5h3.9v2.2h-3.9zM150.4 771.5h3.9v2.2h-3.9zM157.7 771.5h3.9v2.2h-3.9zM146.8 775.5h3.9v2.2h-3.9zM114.3 781.4h3.9v2.2h-3.9zM121.5 781.4h3.9v2.2h-3.9zM128.7 781.4h7.5v2.2h-7.5zM154.1 781.4h7.5v2.2h-7.5zM175.8 781.4h3.9v2.2h-3.9zM110.7 783.4h3.9v2.2h-3.9zM128.7 783.4h7.5v2.2h-7.5zM117.9 785.4h3.9v2.2h-3.9zM154.1 785.4h3.9v2.2h-3.9zM103.4 787.3h3.9v2.2h-3.9zM114.3 787.3h3.9v2.2h-3.9zM139.6 787.3h3.9v2.2h-3.9zM161.3 787.3h3.9v2.2h-3.9zM168.5 787.3h3.9v2.2h-3.9zM121.5 793.3h3.9v2.2h-3.9zM132.4 793.3h3.9v2.2h-3.9z" fill="#f6c6b4" shape-rendering="crispEdges"/>
<path d="M226.4 623.5h3.9v2.2h-3.9zM233.6 623.5h3.9v2.2h-3.9zM201.1 629.4h3.9v2.2h-3.9zM215.5 631.4h3.9v2.2h-3.9zM262.5 631.4h3.9v2.2h-3.9zM204.7 633.4h3.9v2.2h-3.9zM258.9 635.3h3.9v2.2h-3.9zM298.7 637.3h3.9v2.2h-3.9zM291.5 641.3h3.9v2.2h-3.9zM179.4 653.1h3.9v2.2h-3.9zM193.8 653.1h3.9v2.2h-3.9zM215.5 655.1h3.9v2.2h-3.9zM121.5 659h3.9v2.2h-3.9zM128.7 661h3.9v2.2h-3.9zM121.5 666.9h3.9v2.2h-3.9zM146.8 678.8h3.9v2.2h-3.9zM172.1 682.7h3.9v2.2h-3.9zM161.3 684.7h3.9v2.2h-3.9zM175.8 684.7h3.9v2.2h-3.9zM110.7 692.6h3.9v2.2h-3.9zM172.1 692.6h3.9v2.2h-3.9zM121.5 698.5h3.9v2.2h-3.9zM96.2 702.5h3.9v2.2h-3.9zM125.1 702.5h3.9v2.2h-3.9zM175.8 702.5h3.9v2.2h-3.9zM201.1 706.4h3.9v2.2h-3.9zM222.8 708.4h3.9v2.2h-3.9zM219.1 710.4h3.9v2.2h-3.9zM186.6 718.2h3.9v2.2h-3.9zM99.8 722.2h7.5v2.2h-7.5zM143.2 724.2h3.9v2.2h-3.9zM110.7 736h3.9v2.2h-3.9zM114.3 738h3.9v2.2h-3.9zM175.8 743.9h3.9v2.2h-3.9zM139.6 751.8h3.9v2.2h-3.9zM164.9 759.7h3.9v2.2h-3.9zM143.2 771.5h3.9v2.2h-3.9zM121.5 775.5h3.9v2.2h-3.9zM143.2 783.4h3.9v2.2h-3.9zM96.2 785.4h3.9v2.2h-3.9zM125.1 785.4h3.9v2.2h-3.9zM107 787.3h3.9v2.2h-3.9zM96.2 791.3h3.9v2.2h-3.9zM172.1 791.3h3.9v2.2h-3.9z" fill="#f0c6ba" shape-rendering="crispEdges"/>
<path d="M230 623.5h3.9v2.2h-3.9zM237.2 623.5h7.5v2.2h-7.5zM248.1 623.5h3.9v2.2h-3.9zM183 625.5h3.9v2.2h-3.9zM215.5 627.4h3.9v2.2h-3.9zM258.9 627.4h3.9v2.2h-3.9zM204.7 629.4h3.9v2.2h-3.9zM211.9 629.4h3.9v2.2h-3.9zM255.3 629.4h11.1v2.2h-11.1zM298.7 629.4h3.9v2.2h-3.9zM197.5 631.4h3.9v2.2h-3.9zM255.3 633.4h3.9v2.2h-3.9zM197.5 635.3h7.5v2.2h-7.5zM255.3 635.3h3.9v2.2h-3.9zM262.5 635.3h3.9v2.2h-3.9zM183 637.3h7.5v2.2h-7.5zM295.1 637.3h3.9v2.2h-3.9zM197.5 639.3h7.5v2.2h-7.5zM211.9 639.3h3.9v2.2h-3.9zM295.1 639.3h3.9v2.2h-3.9zM309.6 639.3h3.9v2.2h-3.9zM298.7 641.3h3.9v2.2h-3.9zM313.2 641.3h7.5v2.2h-7.5zM186.6 643.2h3.9v2.2h-3.9zM193.8 643.2h3.9v2.2h-3.9zM179.4 645.2h3.9v2.2h-3.9zM197.5 645.2h3.9v2.2h-3.9zM208.3 645.2h3.9v2.2h-3.9zM215.5 645.2h3.9v2.2h-3.9zM291.5 647.2h3.9v2.2h-3.9zM193.8 649.2h3.9v2.2h-3.9zM211.9 649.2h3.9v2.2h-3.9zM183 653.1h7.5v2.2h-7.5zM201.1 653.1h3.9v2.2h-3.9zM96.2 657.1h3.9v2.2h-3.9zM103.4 659h3.9v2.2h-3.9zM103.4 661h3.9v2.2h-3.9zM117.9 661h3.9v2.2h-3.9zM96.2 663h3.9v2.2h-3.9zM110.7 663h3.9v2.2h-3.9zM161.3 663h3.9v2.2h-3.9zM121.5 665h3.9v2.2h-3.9zM146.8 665h3.9v2.2h-3.9zM139.6 666.9h7.5v2.2h-7.5zM150.4 666.9h3.9v2.2h-3.9zM157.7 666.9h3.9v2.2h-3.9zM175.8 666.9h3.9v2.2h-3.9zM164.9 670.9h3.9v2.2h-3.9zM266.2 670.9h3.9v2.2h-3.9zM273.4 670.9h3.9v2.2h-3.9zM280.6 670.9h3.9v2.2h-3.9zM99.8 672.8h3.9v2.2h-3.9zM110.7 672.8h3.9v2.2h-3.9zM154.1 672.8h3.9v2.2h-3.9zM273.4 672.8h11.1v2.2h-11.1zM139.6 674.8h3.9v2.2h-3.9zM161.3 674.8h3.9v2.2h-3.9zM175.8 674.8h3.9v2.2h-3.9zM96.2 678.8h3.9v2.2h-3.9zM107 678.8h3.9v2.2h-3.9zM136 678.8h3.9v2.2h-3.9zM164.9 678.8h3.9v2.2h-3.9zM96.2 680.7h3.9v2.2h-3.9zM107 682.7h3.9v2.2h-3.9zM136 682.7h3.9v2.2h-3.9zM103.4 684.7h3.9v2.2h-3.9zM110.7 684.7h3.9v2.2h-3.9zM117.9 684.7h3.9v2.2h-3.9zM143.2 684.7h7.5v2.2h-7.5zM154.1 684.7h3.9v2.2h-3.9zM168.5 684.7h7.5v2.2h-7.5zM107 692.6h3.9v2.2h-3.9zM132.4 692.6h3.9v2.2h-3.9zM157.7 692.6h3.9v2.2h-3.9zM96.2 694.6h3.9v2.2h-3.9zM110.7 694.6h11.1v2.2h-11.1zM132.4 694.6h3.9v2.2h-3.9zM161.3 694.6h3.9v2.2h-3.9zM168.5 694.6h3.9v2.2h-3.9zM136 696.5h3.9v2.2h-3.9zM117.9 700.5h3.9v2.2h-3.9zM146.8 700.5h3.9v2.2h-3.9zM154.1 700.5h3.9v2.2h-3.9zM172.1 700.5h3.9v2.2h-3.9zM107 702.5h3.9v2.2h-3.9zM121.5 702.5h3.9v2.2h-3.9zM146.8 702.5h3.9v2.2h-3.9zM154.1 702.5h3.9v2.2h-3.9zM164.9 702.5h3.9v2.2h-3.9zM121.5 706.4h3.9v2.2h-3.9zM143.2 706.4h3.9v2.2h-3.9zM154.1 706.4h7.5v2.2h-7.5zM172.1 706.4h3.9v2.2h-3.9zM248.1 706.4h3.9v2.2h-3.9zM96.2 708.4h3.9v2.2h-3.9zM190.2 708.4h3.9v2.2h-3.9zM211.9 708.4h3.9v2.2h-3.9zM146.8 710.4h3.9v2.2h-3.9zM164.9 710.4h3.9v2.2h-3.9zM172.1 710.4h3.9v2.2h-3.9zM201.1 712.3h3.9v2.2h-3.9zM168.5 714.3h3.9v2.2h-3.9zM103.4 716.3h3.9v2.2h-3.9zM117.9 716.3h3.9v2.2h-3.9zM107 718.2h3.9v2.2h-3.9zM114.3 718.2h3.9v2.2h-3.9zM136 718.2h3.9v2.2h-3.9zM150.4 718.2h3.9v2.2h-3.9zM161.3 718.2h3.9v2.2h-3.9zM179.4 718.2h3.9v2.2h-3.9zM143.2 720.2h11.1v2.2h-11.1zM157.7 720.2h3.9v2.2h-3.9zM168.5 720.2h7.5v2.2h-7.5zM107 722.2h3.9v2.2h-3.9zM136 722.2h3.9v2.2h-3.9zM143.2 722.2h7.5v2.2h-7.5zM233.6 722.2h3.9v2.2h-3.9zM107 724.2h3.9v2.2h-3.9zM128.7 724.2h3.9v2.2h-3.9zM139.6 724.2h3.9v2.2h-3.9zM161.3 724.2h7.5v2.2h-7.5zM183 724.2h3.9v2.2h-3.9zM117.9 726.1h3.9v2.2h-3.9zM136 726.1h3.9v2.2h-3.9zM168.5 726.1h7.5v2.2h-7.5zM244.5 726.1h3.9v2.2h-3.9zM107 728.1h3.9v2.2h-3.9zM139.6 728.1h11.1v2.2h-11.1zM172.1 728.1h3.9v2.2h-3.9zM139.6 730.1h3.9v2.2h-3.9zM146.8 730.1h3.9v2.2h-3.9zM179.4 732.1h3.9v2.2h-3.9zM186.6 732.1h3.9v2.2h-3.9zM193.8 732.1h3.9v2.2h-3.9zM190.2 736h3.9v2.2h-3.9zM99.8 738h3.9v2.2h-3.9zM110.7 741.9h7.5v2.2h-7.5zM132.4 741.9h11.1v2.2h-11.1zM154.1 741.9h3.9v2.2h-3.9zM161.3 741.9h3.9v2.2h-3.9zM226.4 741.9h3.9v2.2h-3.9zM103.4 743.9h3.9v2.2h-3.9zM114.3 743.9h3.9v2.2h-3.9zM139.6 743.9h3.9v2.2h-3.9zM150.4 743.9h3.9v2.2h-3.9zM164.9 743.9h3.9v2.2h-3.9zM117.9 745.9h3.9v2.2h-3.9zM139.6 745.9h3.9v2.2h-3.9zM146.8 745.9h3.9v2.2h-3.9zM154.1 745.9h3.9v2.2h-3.9zM168.5 745.9h3.9v2.2h-3.9zM96.2 749.8h3.9v2.2h-3.9zM125.1 749.8h3.9v2.2h-3.9zM139.6 749.8h14.7v2.2h-14.7zM161.3 749.8h3.9v2.2h-3.9zM110.7 751.8h3.9v2.2h-3.9zM117.9 751.8h3.9v2.2h-3.9zM121.5 755.7h3.9v2.2h-3.9zM168.5 755.7h3.9v2.2h-3.9zM107 757.7h7.5v2.2h-7.5zM121.5 757.7h7.5v2.2h-7.5zM143.2 757.7h3.9v2.2h-3.9zM150.4 757.7h3.9v2.2h-3.9zM103.4 759.7h3.9v2.2h-3.9zM110.7 759.7h7.5v2.2h-7.5zM125.1 759.7h3.9v2.2h-3.9zM136 759.7h3.9v2.2h-3.9zM154.1 759.7h3.9v2.2h-3.9zM168.5 761.7h3.9v2.2h-3.9zM132.4 763.6h3.9v2.2h-3.9zM157.7 763.6h3.9v2.2h-3.9zM168.5 763.6h3.9v2.2h-3.9zM99.8 765.6h3.9v2.2h-3.9zM103.4 767.6h3.9v2.2h-3.9zM164.9 767.6h3.9v2.2h-3.9zM121.5 769.6h3.9v2.2h-3.9zM99.8 771.5h3.9v2.2h-3.9zM150.4 773.5h3.9v2.2h-3.9zM161.3 773.5h3.9v2.2h-3.9zM96.2 775.5h7.5v2.2h-7.5zM117.9 775.5h3.9v2.2h-3.9zM125.1 775.5h3.9v2.2h-3.9zM136 775.5h7.5v2.2h-7.5zM168.5 775.5h3.9v2.2h-3.9zM117.9 777.5h3.9v2.2h-3.9zM117.9 779.4h3.9v2.2h-3.9zM96.2 781.4h3.9v2.2h-3.9zM103.4 781.4h11.1v2.2h-11.1zM125.1 781.4h3.9v2.2h-3.9zM139.6 781.4h7.5v2.2h-7.5zM164.9 781.4h3.9v2.2h-3.9zM172.1 781.4h3.9v2.2h-3.9zM114.3 783.4h7.5v2.2h-7.5zM125.1 783.4h3.9v2.2h-3.9zM164.9 783.4h7.5v2.2h-7.5zM175.8 783.4h3.9v2.2h-3.9zM107 785.4h3.9v2.2h-3.9zM128.7 785.4h3.9v2.2h-3.9zM146.8 785.4h3.9v2.2h-3.9zM96.2 787.3h3.9v2.2h-3.9zM146.8 787.3h11.1v2.2h-11.1zM164.9 787.3h3.9v2.2h-3.9zM125.1 791.3h3.9v2.2h-3.9zM136 791.3h3.9v2.2h-3.9zM164.9 791.3h3.9v2.2h-3.9zM107 793.3h3.9v2.2h-3.9zM139.6 793.3h3.9v2.2h-3.9zM128.7 795.2h3.9v2.2h-3.9z" fill="#f0ccba" shape-rendering="crispEdges"/>
<path d="M244.5 623.5h3.9v2.2h-3.9zM233.6 625.5h7.5v2.2h-7.5zM244.5 633.4h3.9v2.2h-3.9zM215.5 637.3h3.9v2.2h-3.9zM121.5 661h3.9v2.2h-3.9zM136 663h3.9v2.2h-3.9zM132.4 665h3.9v2.2h-3.9zM154.1 666.9h3.9v2.2h-3.9zM143.2 668.9h3.9v2.2h-3.9zM125.1 670.9h3.9v2.2h-3.9zM121.5 672.8h3.9v2.2h-3.9zM146.8 672.8h7.5v2.2h-7.5zM168.5 672.8h3.9v2.2h-3.9zM132.4 674.8h3.9v2.2h-3.9zM168.5 674.8h3.9v2.2h-3.9zM110.7 680.7h3.9v2.2h-3.9zM157.7 680.7h3.9v2.2h-3.9zM168.5 680.7h3.9v2.2h-3.9zM302.3 680.7h3.9v2.2h-3.9zM157.7 682.7h3.9v2.2h-3.9zM114.3 686.7h3.9v2.2h-3.9zM164.9 686.7h3.9v2.2h-3.9zM125.1 688.6h3.9v2.2h-3.9zM99.8 690.6h3.9v2.2h-3.9zM114.3 692.6h3.9v2.2h-3.9zM146.8 694.6h3.9v2.2h-3.9zM143.2 696.5h3.9v2.2h-3.9zM143.2 698.5h3.9v2.2h-3.9zM107 700.5h3.9v2.2h-3.9zM139.6 700.5h7.5v2.2h-7.5zM204.7 702.5h3.9v2.2h-3.9zM107 704.4h3.9v2.2h-3.9zM114.3 704.4h3.9v2.2h-3.9zM146.8 706.4h3.9v2.2h-3.9zM164.9 706.4h3.9v2.2h-3.9zM186.6 708.4h3.9v2.2h-3.9zM233.6 708.4h3.9v2.2h-3.9zM125.1 710.4h3.9v2.2h-3.9zM143.2 710.4h3.9v2.2h-3.9zM175.8 710.4h3.9v2.2h-3.9zM226.4 710.4h3.9v2.2h-3.9zM110.7 712.3h3.9v2.2h-3.9zM132.4 712.3h3.9v2.2h-3.9zM150.4 712.3h7.5v2.2h-7.5zM175.8 712.3h3.9v2.2h-3.9zM110.7 714.3h3.9v2.2h-3.9zM154.1 714.3h3.9v2.2h-3.9zM164.9 714.3h3.9v2.2h-3.9zM215.5 714.3h3.9v2.2h-3.9zM107 716.3h3.9v2.2h-3.9zM114.3 716.3h3.9v2.2h-3.9zM139.6 716.3h3.9v2.2h-3.9zM164.9 716.3h7.5v2.2h-7.5zM215.5 718.2h3.9v2.2h-3.9zM248.1 718.2h3.9v2.2h-3.9zM186.6 720.2h3.9v2.2h-3.9zM150.4 724.2h3.9v2.2h-3.9zM121.5 726.1h3.9v2.2h-3.9zM193.8 726.1h3.9v2.2h-3.9zM233.6 726.1h3.9v2.2h-3.9zM150.4 728.1h3.9v2.2h-3.9zM161.3 728.1h3.9v2.2h-3.9zM150.4 730.1h3.9v2.2h-3.9zM168.5 730.1h3.9v2.2h-3.9zM121.5 732.1h3.9v2.2h-3.9zM143.2 732.1h3.9v2.2h-3.9zM172.1 732.1h3.9v2.2h-3.9zM222.8 732.1h3.9v2.2h-3.9zM172.1 736h3.9v2.2h-3.9zM107 738h3.9v2.2h-3.9zM146.8 738h3.9v2.2h-3.9zM157.7 738h3.9v2.2h-3.9zM164.9 738h3.9v2.2h-3.9zM103.4 740h3.9v2.2h-3.9zM164.9 740h3.9v2.2h-3.9zM143.2 745.9h3.9v2.2h-3.9zM211.9 745.9h3.9v2.2h-3.9zM121.5 749.8h3.9v2.2h-3.9zM179.4 749.8h3.9v2.2h-3.9zM215.5 751.8h3.9v2.2h-3.9zM164.9 753.8h3.9v2.2h-3.9zM179.4 755.7h3.9v2.2h-3.9zM168.5 759.7h3.9v2.2h-3.9zM161.3 767.6h3.9v2.2h-3.9zM172.1 767.6h3.9v2.2h-3.9zM110.7 773.5h3.9v2.2h-3.9zM154.1 773.5h3.9v2.2h-3.9zM175.8 777.5h3.9v2.2h-3.9zM125.1 779.4h3.9v2.2h-3.9zM172.1 779.4h3.9v2.2h-3.9zM103.4 783.4h3.9v2.2h-3.9zM150.4 785.4h3.9v2.2h-3.9zM103.4 791.3h3.9v2.2h-3.9zM168.5 791.3h3.9v2.2h-3.9zM117.9 795.2h3.9v2.2h-3.9zM161.3 795.2h3.9v2.2h-3.9zM168.5 795.2h3.9v2.2h-3.9z" fill="#f0d2cc" shape-rendering="crispEdges"/>
<path d="M266.2 623.5h3.9v2.2h-3.9zM280.6 623.5h3.9v2.2h-3.9zM266.2 625.5h3.9v2.2h-3.9zM277 625.5h3.9v2.2h-3.9zM305.9 625.5h3.9v2.2h-3.9zM103.4 627.4h3.9v2.2h-3.9zM110.7 627.4h3.9v2.2h-3.9zM143.2 627.4h3.9v2.2h-3.9zM226.4 627.4h3.9v2.2h-3.9zM248.1 627.4h3.9v2.2h-3.9zM309.6 627.4h3.9v2.2h-3.9zM168.5 629.4h3.9v2.2h-3.9zM233.6 629.4h3.9v2.2h-3.9zM309.6 629.4h3.9v2.2h-3.9zM96.2 631.4h3.9v2.2h-3.9zM107 631.4h14.7v2.2h-14.7zM125.1 631.4h3.9v2.2h-3.9zM136 631.4h7.5v2.2h-7.5zM157.7 631.4h3.9v2.2h-3.9zM164.9 631.4h3.9v2.2h-3.9zM237.2 631.4h3.9v2.2h-3.9zM107 633.4h3.9v2.2h-3.9zM150.4 633.4h3.9v2.2h-3.9zM164.9 633.4h3.9v2.2h-3.9zM172.1 633.4h3.9v2.2h-3.9zM269.8 633.4h3.9v2.2h-3.9zM280.6 633.4h3.9v2.2h-3.9zM316.8 633.4h3.9v2.2h-3.9zM96.2 635.3h3.9v2.2h-3.9zM110.7 635.3h3.9v2.2h-3.9zM125.1 635.3h3.9v2.2h-3.9zM139.6 635.3h7.5v2.2h-7.5zM161.3 635.3h3.9v2.2h-3.9zM172.1 635.3h7.5v2.2h-7.5zM230 635.3h3.9v2.2h-3.9zM240.8 635.3h3.9v2.2h-3.9zM226.4 637.3h3.9v2.2h-3.9zM237.2 637.3h3.9v2.2h-3.9zM287.9 637.3h3.9v2.2h-3.9zM248.1 639.3h3.9v2.2h-3.9zM237.2 641.3h3.9v2.2h-3.9zM110.7 643.2h3.9v2.2h-3.9zM150.4 643.2h3.9v2.2h-3.9zM157.7 643.2h11.1v2.2h-11.1zM175.8 643.2h3.9v2.2h-3.9zM258.9 643.2h7.5v2.2h-7.5zM273.4 643.2h7.5v2.2h-7.5zM233.6 645.2h7.5v2.2h-7.5zM244.5 645.2h3.9v2.2h-3.9zM302.3 645.2h3.9v2.2h-3.9zM96.2 647.2h3.9v2.2h-3.9zM107 647.2h3.9v2.2h-3.9zM114.3 647.2h11.1v2.2h-11.1zM154.1 647.2h7.5v2.2h-7.5zM226.4 647.2h11.1v2.2h-11.1zM244.5 647.2h3.9v2.2h-3.9zM302.3 647.2h7.5v2.2h-7.5zM139.6 649.2h3.9v2.2h-3.9zM222.8 649.2h7.5v2.2h-7.5zM316.8 649.2h3.9v2.2h-3.9zM219.1 651.1h3.9v2.2h-3.9zM240.8 651.1h11.1v2.2h-11.1zM291.5 651.1h3.9v2.2h-3.9zM313.2 651.1h3.9v2.2h-3.9zM255.3 653.1h3.9v2.2h-3.9zM291.5 653.1h7.5v2.2h-7.5zM309.6 653.1h3.9v2.2h-3.9zM316.8 653.1h3.9v2.2h-3.9zM103.4 655.1h7.5v2.2h-7.5zM114.3 655.1h3.9v2.2h-3.9zM121.5 655.1h3.9v2.2h-3.9zM143.2 655.1h7.5v2.2h-7.5zM157.7 655.1h3.9v2.2h-3.9zM172.1 655.1h3.9v2.2h-3.9zM219.1 655.1h3.9v2.2h-3.9zM230 655.1h3.9v2.2h-3.9zM237.2 655.1h3.9v2.2h-3.9zM255.3 655.1h3.9v2.2h-3.9zM266.2 655.1h3.9v2.2h-3.9zM302.3 655.1h7.5v2.2h-7.5zM193.8 657.1h7.5v2.2h-7.5zM226.4 657.1h3.9v2.2h-3.9zM237.2 657.1h3.9v2.2h-3.9zM244.5 657.1h3.9v2.2h-3.9zM262.5 657.1h3.9v2.2h-3.9zM273.4 657.1h3.9v2.2h-3.9zM291.5 657.1h3.9v2.2h-3.9zM302.3 657.1h3.9v2.2h-3.9zM309.6 657.1h3.9v2.2h-3.9zM201.1 659h7.5v2.2h-7.5zM219.1 659h3.9v2.2h-3.9zM237.2 659h3.9v2.2h-3.9zM244.5 659h3.9v2.2h-3.9zM266.2 659h3.9v2.2h-3.9zM284.2 659h3.9v2.2h-3.9zM197.5 661h3.9v2.2h-3.9zM237.2 661h3.9v2.2h-3.9zM262.5 661h7.5v2.2h-7.5zM255.3 663h7.5v2.2h-7.5zM266.2 663h3.9v2.2h-3.9zM273.4 663h7.5v2.2h-7.5zM284.2 663h3.9v2.2h-3.9zM179.4 665h7.5v2.2h-7.5zM208.3 665h3.9v2.2h-3.9zM197.5 666.9h3.9v2.2h-3.9zM204.7 666.9h3.9v2.2h-3.9zM277 666.9h3.9v2.2h-3.9zM305.9 666.9h3.9v2.2h-3.9zM183 668.9h3.9v2.2h-3.9zM201.1 668.9h3.9v2.2h-3.9zM208.3 668.9h3.9v2.2h-3.9zM219.1 668.9h3.9v2.2h-3.9zM226.4 668.9h3.9v2.2h-3.9zM258.9 668.9h3.9v2.2h-3.9zM266.2 668.9h3.9v2.2h-3.9zM277 668.9h3.9v2.2h-3.9zM291.5 668.9h3.9v2.2h-3.9zM179.4 670.9h3.9v2.2h-3.9zM186.6 670.9h3.9v2.2h-3.9zM197.5 670.9h3.9v2.2h-3.9zM208.3 670.9h7.5v2.2h-7.5zM295.1 670.9h3.9v2.2h-3.9zM316.8 670.9h3.9v2.2h-3.9zM201.1 672.8h3.9v2.2h-3.9zM208.3 672.8h3.9v2.2h-3.9zM240.8 672.8h3.9v2.2h-3.9zM183 674.8h3.9v2.2h-3.9zM204.7 674.8h3.9v2.2h-3.9zM211.9 674.8h7.5v2.2h-7.5zM208.3 676.8h3.9v2.2h-3.9zM230 676.8h3.9v2.2h-3.9zM237.2 676.8h3.9v2.2h-3.9zM291.5 676.8h7.5v2.2h-7.5zM302.3 676.8h3.9v2.2h-3.9zM179.4 678.8h3.9v2.2h-3.9zM190.2 678.8h3.9v2.2h-3.9zM208.3 678.8h11.1v2.2h-11.1zM233.6 678.8h3.9v2.2h-3.9zM266.2 678.8h3.9v2.2h-3.9zM295.1 678.8h7.5v2.2h-7.5zM305.9 678.8h3.9v2.2h-3.9zM197.5 680.7h3.9v2.2h-3.9zM233.6 680.7h3.9v2.2h-3.9zM269.8 680.7h3.9v2.2h-3.9zM208.3 682.7h3.9v2.2h-3.9zM258.9 682.7h3.9v2.2h-3.9zM197.5 684.7h3.9v2.2h-3.9zM204.7 684.7h7.5v2.2h-7.5zM230 684.7h3.9v2.2h-3.9zM240.8 684.7h3.9v2.2h-3.9zM258.9 684.7h3.9v2.2h-3.9zM298.7 684.7h3.9v2.2h-3.9zM183 686.7h3.9v2.2h-3.9zM208.3 686.7h7.5v2.2h-7.5zM258.9 686.7h3.9v2.2h-3.9zM298.7 686.7h7.5v2.2h-7.5zM316.8 686.7h3.9v2.2h-3.9zM258.9 688.6h3.9v2.2h-3.9zM309.6 690.6h3.9v2.2h-3.9zM208.3 692.6h3.9v2.2h-3.9zM215.5 692.6h3.9v2.2h-3.9zM255.3 692.6h3.9v2.2h-3.9zM219.1 694.6h3.9v2.2h-3.9zM233.6 694.6h3.9v2.2h-3.9zM240.8 694.6h11.1v2.2h-11.1zM258.9 694.6h3.9v2.2h-3.9zM204.7 696.5h7.5v2.2h-7.5zM219.1 696.5h3.9v2.2h-3.9zM230 696.5h14.7v2.2h-14.7zM248.1 696.5h7.5v2.2h-7.5zM266.2 696.5h3.9v2.2h-3.9zM284.2 696.5h11.1v2.2h-11.1zM302.3 696.5h3.9v2.2h-3.9zM316.8 696.5h3.9v2.2h-3.9zM226.4 698.5h3.9v2.2h-3.9zM233.6 698.5h3.9v2.2h-3.9zM201.1 700.5h3.9v2.2h-3.9zM240.8 700.5h3.9v2.2h-3.9zM255.3 700.5h3.9v2.2h-3.9zM269.8 700.5h3.9v2.2h-3.9zM277 700.5h7.5v2.2h-7.5zM291.5 700.5h3.9v2.2h-3.9zM302.3 700.5h3.9v2.2h-3.9zM309.6 700.5h7.5v2.2h-7.5zM302.3 704.4h3.9v2.2h-3.9zM313.2 704.4h7.5v2.2h-7.5zM302.3 706.4h3.9v2.2h-3.9zM255.3 708.4h18.3v2.2h-18.3zM277 708.4h7.5v2.2h-7.5zM287.9 708.4h3.9v2.2h-3.9zM313.2 708.4h3.9v2.2h-3.9zM179.4 710.4h3.9v2.2h-3.9zM190.2 710.4h3.9v2.2h-3.9zM255.3 710.4h3.9v2.2h-3.9zM262.5 710.4h3.9v2.2h-3.9zM273.4 710.4h7.5v2.2h-7.5zM284.2 710.4h7.5v2.2h-7.5zM295.1 710.4h3.9v2.2h-3.9zM201.1 716.3h3.9v2.2h-3.9zM248.1 716.3h3.9v2.2h-3.9zM291.5 716.3h11.1v2.2h-11.1zM313.2 716.3h3.9v2.2h-3.9zM240.8 720.2h3.9v2.2h-3.9zM291.5 720.2h3.9v2.2h-3.9zM295.1 722.2h7.5v2.2h-7.5zM305.9 722.2h3.9v2.2h-3.9zM226.4 724.2h3.9v2.2h-3.9zM298.7 724.2h3.9v2.2h-3.9zM305.9 724.2h3.9v2.2h-3.9zM305.9 728.1h3.9v2.2h-3.9zM186.6 730.1h3.9v2.2h-3.9zM295.1 730.1h3.9v2.2h-3.9zM302.3 730.1h3.9v2.2h-3.9zM309.6 730.1h3.9v2.2h-3.9zM295.1 734h3.9v2.2h-3.9zM309.6 736h3.9v2.2h-3.9zM298.7 738h3.9v2.2h-3.9zM222.8 740h3.9v2.2h-3.9zM295.1 740h3.9v2.2h-3.9zM302.3 740h3.9v2.2h-3.9zM201.1 741.9h3.9v2.2h-3.9zM302.3 741.9h3.9v2.2h-3.9zM295.1 743.9h3.9v2.2h-3.9zM309.6 745.9h11.1v2.2h-11.1zM197.5 749.8h3.9v2.2h-3.9zM291.5 751.8h3.9v2.2h-3.9zM237.2 755.7h3.9v2.2h-3.9zM179.4 757.7h3.9v2.2h-3.9zM193.8 757.7h3.9v2.2h-3.9zM240.8 757.7h3.9v2.2h-3.9zM295.1 757.7h3.9v2.2h-3.9zM302.3 757.7h3.9v2.2h-3.9zM313.2 757.7h3.9v2.2h-3.9zM197.5 759.7h3.9v2.2h-3.9zM211.9 759.7h3.9v2.2h-3.9zM226.4 759.7h7.5v2.2h-7.5zM190.2 761.7h3.9v2.2h-3.9zM211.9 761.7h3.9v2.2h-3.9zM222.8 761.7h3.9v2.2h-3.9zM230 763.6h7.5v2.2h-7.5zM309.6 763.6h3.9v2.2h-3.9zM197.5 765.6h3.9v2.2h-3.9zM211.9 765.6h3.9v2.2h-3.9zM230 765.6h3.9v2.2h-3.9zM237.2 765.6h3.9v2.2h-3.9zM291.5 765.6h3.9v2.2h-3.9zM302.3 765.6h7.5v2.2h-7.5zM179.4 767.6h3.9v2.2h-3.9zM219.1 767.6h3.9v2.2h-3.9zM183 769.6h3.9v2.2h-3.9zM190.2 769.6h3.9v2.2h-3.9zM208.3 769.6h3.9v2.2h-3.9zM219.1 769.6h3.9v2.2h-3.9zM237.2 769.6h3.9v2.2h-3.9zM244.5 769.6h7.5v2.2h-7.5zM291.5 769.6h3.9v2.2h-3.9zM298.7 769.6h3.9v2.2h-3.9zM193.8 771.5h3.9v2.2h-3.9zM211.9 771.5h3.9v2.2h-3.9zM244.5 771.5h3.9v2.2h-3.9zM291.5 771.5h3.9v2.2h-3.9zM309.6 771.5h7.5v2.2h-7.5zM179.4 773.5h3.9v2.2h-3.9zM179.4 775.5h3.9v2.2h-3.9zM186.6 775.5h3.9v2.2h-3.9zM193.8 775.5h3.9v2.2h-3.9zM233.6 775.5h3.9v2.2h-3.9zM302.3 775.5h3.9v2.2h-3.9zM222.8 777.5h7.5v2.2h-7.5zM244.5 777.5h3.9v2.2h-3.9zM305.9 777.5h3.9v2.2h-3.9zM193.8 779.4h3.9v2.2h-3.9zM208.3 779.4h3.9v2.2h-3.9zM305.9 779.4h7.5v2.2h-7.5zM233.6 781.4h3.9v2.2h-3.9zM215.5 783.4h11.1v2.2h-11.1zM233.6 783.4h3.9v2.2h-3.9zM240.8 783.4h3.9v2.2h-3.9zM305.9 783.4h3.9v2.2h-3.9zM186.6 785.4h3.9v2.2h-3.9zM197.5 785.4h3.9v2.2h-3.9zM204.7 785.4h3.9v2.2h-3.9zM219.1 787.3h3.9v2.2h-3.9zM248.1 787.3h3.9v2.2h-3.9zM193.8 789.3h3.9v2.2h-3.9zM204.7 789.3h3.9v2.2h-3.9zM222.8 789.3h7.5v2.2h-7.5zM237.2 789.3h7.5v2.2h-7.5zM309.6 789.3h11.1v2.2h-11.1zM183 791.3h3.9v2.2h-3.9zM193.8 791.3h3.9v2.2h-3.9zM240.8 791.3h3.9v2.2h-3.9zM309.6 791.3h3.9v2.2h-3.9zM316.8 791.3h3.9v2.2h-3.9zM117.9 793.3h3.9v2.2h-3.9zM154.1 793.3h3.9v2.2h-3.9zM222.8 793.3h3.9v2.2h-3.9zM193.8 795.2h3.9v2.2h-3.9zM208.3 795.2h3.9v2.2h-3.9zM222.8 795.2h3.9v2.2h-3.9zM258.9 795.2h3.9v2.2h-3.9zM305.9 795.2h11.1v2.2h-11.1z" fill="#d2d8ea" shape-rendering="crispEdges"/>
<path d="M273.4 623.5h3.9v2.2h-3.9zM273.4 625.5h3.9v2.2h-3.9zM284.2 625.5h3.9v2.2h-3.9zM291.5 625.5h3.9v2.2h-3.9zM96.2 627.4h7.5v2.2h-7.5zM107 627.4h3.9v2.2h-3.9zM121.5 627.4h3.9v2.2h-3.9zM139.6 627.4h3.9v2.2h-3.9zM168.5 627.4h3.9v2.2h-3.9zM316.8 627.4h3.9v2.2h-3.9zM222.8 629.4h3.9v2.2h-3.9zM230 629.4h3.9v2.2h-3.9zM237.2 629.4h3.9v2.2h-3.9zM244.5 629.4h7.5v2.2h-7.5zM103.4 631.4h3.9v2.2h-3.9zM103.4 633.4h3.9v2.2h-3.9zM309.6 633.4h3.9v2.2h-3.9zM121.5 635.3h3.9v2.2h-3.9zM154.1 635.3h3.9v2.2h-3.9zM222.8 635.3h3.9v2.2h-3.9zM237.2 635.3h3.9v2.2h-3.9zM244.5 637.3h3.9v2.2h-3.9zM226.4 641.3h3.9v2.2h-3.9zM240.8 645.2h3.9v2.2h-3.9zM110.7 647.2h3.9v2.2h-3.9zM143.2 647.2h3.9v2.2h-3.9zM172.1 647.2h3.9v2.2h-3.9zM313.2 649.2h3.9v2.2h-3.9zM230 651.1h3.9v2.2h-3.9zM305.9 651.1h3.9v2.2h-3.9zM316.8 651.1h3.9v2.2h-3.9zM298.7 653.1h3.9v2.2h-3.9zM305.9 653.1h3.9v2.2h-3.9zM117.9 655.1h3.9v2.2h-3.9zM132.4 655.1h7.5v2.2h-7.5zM161.3 655.1h7.5v2.2h-7.5zM175.8 655.1h3.9v2.2h-3.9zM298.7 655.1h3.9v2.2h-3.9zM240.8 657.1h3.9v2.2h-3.9zM298.7 657.1h3.9v2.2h-3.9zM179.4 659h3.9v2.2h-3.9zM197.5 659h3.9v2.2h-3.9zM255.3 659h3.9v2.2h-3.9zM277 659h3.9v2.2h-3.9zM251.7 663h3.9v2.2h-3.9zM298.7 663h3.9v2.2h-3.9zM190.2 665h3.9v2.2h-3.9zM313.2 665h3.9v2.2h-3.9zM215.5 666.9h3.9v2.2h-3.9zM222.8 666.9h3.9v2.2h-3.9zM240.8 666.9h3.9v2.2h-3.9zM258.9 666.9h3.9v2.2h-3.9zM298.7 666.9h7.5v2.2h-7.5zM309.6 666.9h3.9v2.2h-3.9zM186.6 668.9h14.7v2.2h-14.7zM204.7 670.9h3.9v2.2h-3.9zM305.9 670.9h3.9v2.2h-3.9zM179.4 672.8h3.9v2.2h-3.9zM186.6 672.8h3.9v2.2h-3.9zM215.5 672.8h7.5v2.2h-7.5zM226.4 672.8h3.9v2.2h-3.9zM186.6 674.8h7.5v2.2h-7.5zM190.2 676.8h3.9v2.2h-3.9zM215.5 676.8h3.9v2.2h-3.9zM298.7 676.8h3.9v2.2h-3.9zM186.6 680.7h3.9v2.2h-3.9zM211.9 680.7h7.5v2.2h-7.5zM280.6 680.7h3.9v2.2h-3.9zM240.8 682.7h3.9v2.2h-3.9zM186.6 684.7h3.9v2.2h-3.9zM266.2 684.7h3.9v2.2h-3.9zM273.4 684.7h3.9v2.2h-3.9zM295.1 684.7h3.9v2.2h-3.9zM255.3 686.7h3.9v2.2h-3.9zM262.5 686.7h3.9v2.2h-3.9zM277 686.7h3.9v2.2h-3.9zM266.2 688.6h3.9v2.2h-3.9zM186.6 690.6h3.9v2.2h-3.9zM193.8 690.6h3.9v2.2h-3.9zM201.1 690.6h7.5v2.2h-7.5zM291.5 690.6h3.9v2.2h-3.9zM302.3 690.6h3.9v2.2h-3.9zM190.2 692.6h3.9v2.2h-3.9zM219.1 692.6h3.9v2.2h-3.9zM258.9 692.6h3.9v2.2h-3.9zM287.9 692.6h3.9v2.2h-3.9zM204.7 694.6h3.9v2.2h-3.9zM262.5 694.6h3.9v2.2h-3.9zM280.6 694.6h3.9v2.2h-3.9zM287.9 694.6h3.9v2.2h-3.9zM258.9 696.5h3.9v2.2h-3.9zM298.7 696.5h3.9v2.2h-3.9zM197.5 698.5h3.9v2.2h-3.9zM280.6 698.5h3.9v2.2h-3.9zM316.8 698.5h3.9v2.2h-3.9zM208.3 700.5h3.9v2.2h-3.9zM273.4 700.5h3.9v2.2h-3.9zM305.9 700.5h3.9v2.2h-3.9zM219.1 706.4h3.9v2.2h-3.9zM309.6 706.4h3.9v2.2h-3.9zM251.7 708.4h3.9v2.2h-3.9zM251.7 710.4h3.9v2.2h-3.9zM266.2 710.4h3.9v2.2h-3.9zM291.5 710.4h3.9v2.2h-3.9zM222.8 714.3h3.9v2.2h-3.9zM248.1 714.3h3.9v2.2h-3.9zM222.8 716.3h3.9v2.2h-3.9zM309.6 716.3h3.9v2.2h-3.9zM316.8 716.3h3.9v2.2h-3.9zM295.1 718.2h3.9v2.2h-3.9zM295.1 720.2h11.1v2.2h-11.1zM309.6 720.2h7.5v2.2h-7.5zM291.5 726.1h3.9v2.2h-3.9zM302.3 726.1h3.9v2.2h-3.9zM291.5 730.1h3.9v2.2h-3.9zM298.7 730.1h3.9v2.2h-3.9zM248.1 734h3.9v2.2h-3.9zM298.7 734h3.9v2.2h-3.9zM309.6 734h3.9v2.2h-3.9zM295.1 736h14.7v2.2h-14.7zM219.1 738h3.9v2.2h-3.9zM244.5 738h3.9v2.2h-3.9zM305.9 738h3.9v2.2h-3.9zM219.1 740h3.9v2.2h-3.9zM291.5 741.9h3.9v2.2h-3.9zM309.6 741.9h11.1v2.2h-11.1zM291.5 745.9h3.9v2.2h-3.9zM230 749.8h3.9v2.2h-3.9zM219.1 751.8h3.9v2.2h-3.9zM230 751.8h3.9v2.2h-3.9zM248.1 751.8h3.9v2.2h-3.9zM186.6 753.8h3.9v2.2h-3.9zM226.4 753.8h3.9v2.2h-3.9zM190.2 755.7h3.9v2.2h-3.9zM211.9 755.7h3.9v2.2h-3.9zM233.6 755.7h3.9v2.2h-3.9zM237.2 757.7h3.9v2.2h-3.9zM244.5 757.7h3.9v2.2h-3.9zM298.7 757.7h3.9v2.2h-3.9zM305.9 757.7h3.9v2.2h-3.9zM316.8 757.7h3.9v2.2h-3.9zM179.4 759.7h3.9v2.2h-3.9zM190.2 759.7h3.9v2.2h-3.9zM208.3 759.7h3.9v2.2h-3.9zM204.7 761.7h3.9v2.2h-3.9zM237.2 761.7h3.9v2.2h-3.9zM179.4 765.6h7.5v2.2h-7.5zM226.4 767.6h3.9v2.2h-3.9zM244.5 767.6h3.9v2.2h-3.9zM309.6 769.6h3.9v2.2h-3.9zM179.4 771.5h3.9v2.2h-3.9zM204.7 771.5h3.9v2.2h-3.9zM248.1 771.5h3.9v2.2h-3.9zM302.3 771.5h7.5v2.2h-7.5zM222.8 773.5h3.9v2.2h-3.9zM230 777.5h3.9v2.2h-3.9zM211.9 779.4h3.9v2.2h-3.9zM190.2 781.4h3.9v2.2h-3.9zM215.5 781.4h3.9v2.2h-3.9zM240.8 781.4h7.5v2.2h-7.5zM313.2 781.4h3.9v2.2h-3.9zM186.6 783.4h3.9v2.2h-3.9zM233.6 785.4h7.5v2.2h-7.5zM248.1 785.4h3.9v2.2h-3.9zM295.1 785.4h14.7v2.2h-14.7zM179.4 787.3h3.9v2.2h-3.9zM186.6 787.3h3.9v2.2h-3.9zM208.3 787.3h3.9v2.2h-3.9zM240.8 787.3h3.9v2.2h-3.9zM233.6 789.3h3.9v2.2h-3.9zM244.5 789.3h3.9v2.2h-3.9zM305.9 789.3h3.9v2.2h-3.9zM190.2 791.3h3.9v2.2h-3.9zM222.8 791.3h3.9v2.2h-3.9zM125.1 793.3h3.9v2.2h-3.9zM197.5 793.3h3.9v2.2h-3.9zM204.7 793.3h3.9v2.2h-3.9zM230 793.3h3.9v2.2h-3.9zM316.8 793.3h3.9v2.2h-3.9zM190.2 795.2h3.9v2.2h-3.9zM251.7 795.2h3.9v2.2h-3.9zM262.5 795.2h3.9v2.2h-3.9zM284.2 795.2h7.5v2.2h-7.5z" fill="#d8d8e4" shape-rendering="crispEdges"/>
<path d="M277 623.5h3.9v2.2h-3.9zM117.9 625.5h3.9v2.2h-3.9zM154.1 625.5h3.9v2.2h-3.9zM172.1 625.5h3.9v2.2h-3.9zM266.2 627.4h3.9v2.2h-3.9zM121.5 629.4h3.9v2.2h-3.9zM136 629.4h3.9v2.2h-3.9zM172.1 629.4h7.5v2.2h-7.5zM168.5 631.4h3.9v2.2h-3.9zM96.2 633.4h3.9v2.2h-3.9zM103.4 635.3h3.9v2.2h-3.9zM284.2 635.3h3.9v2.2h-3.9zM125.1 637.3h7.5v2.2h-7.5zM248.1 637.3h3.9v2.2h-3.9zM114.3 643.2h3.9v2.2h-3.9zM132.4 643.2h3.9v2.2h-3.9zM226.4 643.2h3.9v2.2h-3.9zM255.3 643.2h3.9v2.2h-3.9zM287.9 643.2h3.9v2.2h-3.9zM103.4 645.2h3.9v2.2h-3.9zM121.5 645.2h3.9v2.2h-3.9zM128.7 645.2h3.9v2.2h-3.9zM139.6 645.2h3.9v2.2h-3.9zM168.5 647.2h3.9v2.2h-3.9zM99.8 649.2h3.9v2.2h-3.9zM107 649.2h3.9v2.2h-3.9zM117.9 649.2h3.9v2.2h-3.9zM146.8 651.1h3.9v2.2h-3.9zM157.7 651.1h3.9v2.2h-3.9zM266.2 653.1h3.9v2.2h-3.9zM99.8 655.1h3.9v2.2h-3.9zM139.6 655.1h3.9v2.2h-3.9zM258.9 655.1h7.5v2.2h-7.5zM277 655.1h3.9v2.2h-3.9zM284.2 655.1h3.9v2.2h-3.9zM143.2 657.1h7.5v2.2h-7.5zM172.1 657.1h3.9v2.2h-3.9zM211.9 657.1h3.9v2.2h-3.9zM219.1 657.1h3.9v2.2h-3.9zM266.2 657.1h3.9v2.2h-3.9zM284.2 657.1h3.9v2.2h-3.9zM132.4 659h3.9v2.2h-3.9zM204.7 661h3.9v2.2h-3.9zM219.1 661h3.9v2.2h-3.9zM240.8 661h3.9v2.2h-3.9zM269.8 661h3.9v2.2h-3.9zM219.1 663h3.9v2.2h-3.9zM248.1 663h3.9v2.2h-3.9zM248.1 665h3.9v2.2h-3.9zM266.2 665h3.9v2.2h-3.9zM295.1 668.9h3.9v2.2h-3.9zM305.9 668.9h3.9v2.2h-3.9zM190.2 670.9h3.9v2.2h-3.9zM215.5 670.9h3.9v2.2h-3.9zM230 674.8h3.9v2.2h-3.9zM240.8 674.8h3.9v2.2h-3.9zM313.2 674.8h3.9v2.2h-3.9zM222.8 676.8h3.9v2.2h-3.9zM251.7 676.8h3.9v2.2h-3.9zM201.1 678.8h3.9v2.2h-3.9zM240.8 678.8h3.9v2.2h-3.9zM273.4 678.8h3.9v2.2h-3.9zM287.9 678.8h7.5v2.2h-7.5zM309.6 678.8h3.9v2.2h-3.9zM222.8 680.7h3.9v2.2h-3.9zM244.5 680.7h3.9v2.2h-3.9zM186.6 686.7h7.5v2.2h-7.5zM291.5 686.7h3.9v2.2h-3.9zM313.2 686.7h3.9v2.2h-3.9zM262.5 688.6h3.9v2.2h-3.9zM269.8 688.6h3.9v2.2h-3.9zM280.6 688.6h3.9v2.2h-3.9zM201.1 696.5h3.9v2.2h-3.9zM211.9 696.5h3.9v2.2h-3.9zM262.5 696.5h3.9v2.2h-3.9zM219.1 700.5h3.9v2.2h-3.9zM248.1 700.5h3.9v2.2h-3.9zM251.7 718.2h3.9v2.2h-3.9zM258.9 726.1h7.5v2.2h-7.5zM284.2 726.1h3.9v2.2h-3.9zM251.7 730.1h3.9v2.2h-3.9zM313.2 730.1h3.9v2.2h-3.9zM313.2 732.1h7.5v2.2h-7.5zM266.2 740h3.9v2.2h-3.9zM316.8 743.9h3.9v2.2h-3.9zM298.7 745.9h3.9v2.2h-3.9zM222.8 747.9h3.9v2.2h-3.9zM186.6 749.8h3.9v2.2h-3.9zM316.8 753.8h3.9v2.2h-3.9zM186.6 755.7h3.9v2.2h-3.9zM222.8 755.7h3.9v2.2h-3.9zM219.1 757.7h3.9v2.2h-3.9zM313.2 759.7h3.9v2.2h-3.9zM313.2 763.6h3.9v2.2h-3.9zM226.4 765.6h3.9v2.2h-3.9zM186.6 767.6h3.9v2.2h-3.9zM251.7 767.6h3.9v2.2h-3.9zM197.5 769.6h3.9v2.2h-3.9zM226.4 769.6h3.9v2.2h-3.9zM204.7 773.5h3.9v2.2h-3.9zM287.9 777.5h3.9v2.2h-3.9zM313.2 777.5h7.5v2.2h-7.5zM193.8 781.4h7.5v2.2h-7.5zM226.4 781.4h3.9v2.2h-3.9zM266.2 781.4h3.9v2.2h-3.9zM284.2 781.4h3.9v2.2h-3.9zM183 783.4h3.9v2.2h-3.9zM230 785.4h3.9v2.2h-3.9zM305.9 791.3h3.9v2.2h-3.9zM136 793.3h3.9v2.2h-3.9zM244.5 795.2h3.9v2.2h-3.9z" fill="#c6d8f0" shape-rendering="crispEdges"/>
<path d="M284.2 623.5h7.5v2.2h-7.5zM99.8 625.5h14.7v2.2h-14.7zM132.4 625.5h3.9v2.2h-3.9zM143.2 625.5h3.9v2.2h-3.9zM168.5 625.5h3.9v2.2h-3.9zM114.3 627.4h7.5v2.2h-7.5zM132.4 627.4h3.9v2.2h-3.9zM146.8 627.4h11.1v2.2h-11.1zM175.8 627.4h3.9v2.2h-3.9zM222.8 627.4h3.9v2.2h-3.9zM233.6 627.4h14.7v2.2h-14.7zM313.2 627.4h3.9v2.2h-3.9zM110.7 629.4h3.9v2.2h-3.9zM117.9 629.4h3.9v2.2h-3.9zM139.6 629.4h7.5v2.2h-7.5zM240.8 629.4h3.9v2.2h-3.9zM266.2 629.4h3.9v2.2h-3.9zM273.4 629.4h7.5v2.2h-7.5zM313.2 629.4h7.5v2.2h-7.5zM121.5 631.4h3.9v2.2h-3.9zM128.7 631.4h7.5v2.2h-7.5zM146.8 631.4h7.5v2.2h-7.5zM175.8 631.4h3.9v2.2h-3.9zM110.7 633.4h3.9v2.2h-3.9zM125.1 633.4h3.9v2.2h-3.9zM132.4 633.4h3.9v2.2h-3.9zM139.6 633.4h11.1v2.2h-11.1zM175.8 633.4h3.9v2.2h-3.9zM287.9 633.4h3.9v2.2h-3.9zM99.8 635.3h3.9v2.2h-3.9zM114.3 635.3h7.5v2.2h-7.5zM128.7 635.3h3.9v2.2h-3.9zM146.8 635.3h3.9v2.2h-3.9zM157.7 635.3h3.9v2.2h-3.9zM168.5 635.3h3.9v2.2h-3.9zM302.3 635.3h3.9v2.2h-3.9zM219.1 637.3h3.9v2.2h-3.9zM230 637.3h3.9v2.2h-3.9zM240.8 637.3h3.9v2.2h-3.9zM266.2 637.3h3.9v2.2h-3.9zM273.4 637.3h3.9v2.2h-3.9zM309.6 637.3h3.9v2.2h-3.9zM99.8 639.3h3.9v2.2h-3.9zM110.7 639.3h3.9v2.2h-3.9zM121.5 639.3h3.9v2.2h-3.9zM150.4 639.3h3.9v2.2h-3.9zM157.7 639.3h3.9v2.2h-3.9zM219.1 639.3h3.9v2.2h-3.9zM230 639.3h3.9v2.2h-3.9zM237.2 639.3h11.1v2.2h-11.1zM240.8 641.3h3.9v2.2h-3.9zM96.2 643.2h3.9v2.2h-3.9zM117.9 643.2h7.5v2.2h-7.5zM128.7 643.2h3.9v2.2h-3.9zM219.1 643.2h3.9v2.2h-3.9zM240.8 643.2h3.9v2.2h-3.9zM266.2 643.2h7.5v2.2h-7.5zM99.8 645.2h3.9v2.2h-3.9zM114.3 645.2h3.9v2.2h-3.9zM136 645.2h3.9v2.2h-3.9zM150.4 645.2h3.9v2.2h-3.9zM157.7 645.2h11.1v2.2h-11.1zM175.8 645.2h3.9v2.2h-3.9zM226.4 645.2h7.5v2.2h-7.5zM255.3 645.2h7.5v2.2h-7.5zM280.6 645.2h3.9v2.2h-3.9zM99.8 647.2h7.5v2.2h-7.5zM128.7 647.2h3.9v2.2h-3.9zM139.6 647.2h3.9v2.2h-3.9zM150.4 647.2h3.9v2.2h-3.9zM164.9 647.2h3.9v2.2h-3.9zM175.8 647.2h3.9v2.2h-3.9zM222.8 647.2h3.9v2.2h-3.9zM237.2 647.2h7.5v2.2h-7.5zM110.7 649.2h3.9v2.2h-3.9zM150.4 649.2h7.5v2.2h-7.5zM161.3 649.2h3.9v2.2h-3.9zM219.1 649.2h3.9v2.2h-3.9zM230 649.2h18.3v2.2h-18.3zM255.3 649.2h3.9v2.2h-3.9zM103.4 651.1h3.9v2.2h-3.9zM114.3 651.1h3.9v2.2h-3.9zM128.7 651.1h7.5v2.2h-7.5zM164.9 651.1h3.9v2.2h-3.9zM175.8 651.1h3.9v2.2h-3.9zM222.8 651.1h7.5v2.2h-7.5zM302.3 651.1h3.9v2.2h-3.9zM233.6 653.1h3.9v2.2h-3.9zM302.3 653.1h3.9v2.2h-3.9zM96.2 655.1h3.9v2.2h-3.9zM240.8 655.1h3.9v2.2h-3.9zM280.6 655.1h3.9v2.2h-3.9zM313.2 655.1h3.9v2.2h-3.9zM183 657.1h7.5v2.2h-7.5zM201.1 657.1h11.1v2.2h-11.1zM230 657.1h3.9v2.2h-3.9zM248.1 657.1h11.1v2.2h-11.1zM287.9 657.1h3.9v2.2h-3.9zM139.6 659h3.9v2.2h-3.9zM146.8 659h3.9v2.2h-3.9zM154.1 659h3.9v2.2h-3.9zM193.8 659h3.9v2.2h-3.9zM222.8 659h14.7v2.2h-14.7zM258.9 659h3.9v2.2h-3.9zM302.3 659h3.9v2.2h-3.9zM179.4 661h3.9v2.2h-3.9zM190.2 661h7.5v2.2h-7.5zM201.1 661h3.9v2.2h-3.9zM208.3 661h3.9v2.2h-3.9zM226.4 661h3.9v2.2h-3.9zM233.6 661h3.9v2.2h-3.9zM244.5 661h3.9v2.2h-3.9zM255.3 661h7.5v2.2h-7.5zM273.4 661h3.9v2.2h-3.9zM280.6 661h3.9v2.2h-3.9zM287.9 661h3.9v2.2h-3.9zM226.4 663h7.5v2.2h-7.5zM237.2 663h11.1v2.2h-11.1zM262.5 663h3.9v2.2h-3.9zM269.8 663h3.9v2.2h-3.9zM287.9 663h3.9v2.2h-3.9zM193.8 665h3.9v2.2h-3.9zM233.6 665h3.9v2.2h-3.9zM240.8 665h7.5v2.2h-7.5zM255.3 665h3.9v2.2h-3.9zM295.1 666.9h3.9v2.2h-3.9zM215.5 668.9h3.9v2.2h-3.9zM222.8 668.9h3.9v2.2h-3.9zM230 668.9h3.9v2.2h-3.9zM240.8 668.9h3.9v2.2h-3.9zM248.1 668.9h3.9v2.2h-3.9zM255.3 668.9h3.9v2.2h-3.9zM262.5 668.9h3.9v2.2h-3.9zM269.8 668.9h7.5v2.2h-7.5zM284.2 668.9h3.9v2.2h-3.9zM298.7 668.9h7.5v2.2h-7.5zM309.6 668.9h3.9v2.2h-3.9zM183 670.9h3.9v2.2h-3.9zM226.4 670.9h3.9v2.2h-3.9zM233.6 670.9h3.9v2.2h-3.9zM244.5 670.9h3.9v2.2h-3.9zM291.5 670.9h3.9v2.2h-3.9zM298.7 670.9h3.9v2.2h-3.9zM309.6 670.9h7.5v2.2h-7.5zM190.2 672.8h3.9v2.2h-3.9zM204.7 672.8h3.9v2.2h-3.9zM313.2 672.8h7.5v2.2h-7.5zM96.2 674.8h3.9v2.2h-3.9zM107 674.8h3.9v2.2h-3.9zM219.1 674.8h11.1v2.2h-11.1zM237.2 674.8h3.9v2.2h-3.9zM309.6 674.8h3.9v2.2h-3.9zM316.8 674.8h3.9v2.2h-3.9zM219.1 676.8h3.9v2.2h-3.9zM233.6 676.8h3.9v2.2h-3.9zM240.8 676.8h3.9v2.2h-3.9zM248.1 676.8h3.9v2.2h-3.9zM255.3 676.8h3.9v2.2h-3.9zM313.2 676.8h3.9v2.2h-3.9zM186.6 678.8h3.9v2.2h-3.9zM197.5 678.8h3.9v2.2h-3.9zM219.1 678.8h3.9v2.2h-3.9zM226.4 678.8h7.5v2.2h-7.5zM237.2 678.8h3.9v2.2h-3.9zM248.1 678.8h7.5v2.2h-7.5zM280.6 678.8h3.9v2.2h-3.9zM313.2 678.8h7.5v2.2h-7.5zM219.1 680.7h3.9v2.2h-3.9zM226.4 680.7h7.5v2.2h-7.5zM237.2 680.7h7.5v2.2h-7.5zM248.1 680.7h3.9v2.2h-3.9zM273.4 680.7h3.9v2.2h-3.9zM266.2 682.7h3.9v2.2h-3.9zM262.5 684.7h3.9v2.2h-3.9zM269.8 684.7h3.9v2.2h-3.9zM197.5 686.7h7.5v2.2h-7.5zM215.5 686.7h3.9v2.2h-3.9zM226.4 686.7h3.9v2.2h-3.9zM295.1 686.7h3.9v2.2h-3.9zM305.9 686.7h7.5v2.2h-7.5zM251.7 688.6h7.5v2.2h-7.5zM273.4 688.6h3.9v2.2h-3.9zM284.2 688.6h7.5v2.2h-7.5zM298.7 688.6h11.1v2.2h-11.1zM313.2 688.6h3.9v2.2h-3.9zM183 690.6h3.9v2.2h-3.9zM219.1 690.6h7.5v2.2h-7.5zM230 690.6h3.9v2.2h-3.9zM237.2 690.6h3.9v2.2h-3.9zM244.5 690.6h7.5v2.2h-7.5zM262.5 690.6h3.9v2.2h-3.9zM269.8 690.6h3.9v2.2h-3.9zM280.6 690.6h3.9v2.2h-3.9zM305.9 690.6h3.9v2.2h-3.9zM226.4 694.6h7.5v2.2h-7.5zM237.2 694.6h3.9v2.2h-3.9zM305.9 694.6h3.9v2.2h-3.9zM179.4 696.5h3.9v2.2h-3.9zM186.6 696.5h14.7v2.2h-14.7zM255.3 696.5h3.9v2.2h-3.9zM273.4 696.5h3.9v2.2h-3.9zM280.6 696.5h3.9v2.2h-3.9zM230 698.5h3.9v2.2h-3.9zM222.8 700.5h3.9v2.2h-3.9zM230 700.5h7.5v2.2h-7.5zM244.5 700.5h3.9v2.2h-3.9zM262.5 700.5h7.5v2.2h-7.5zM295.1 700.5h7.5v2.2h-7.5zM316.8 702.5h3.9v2.2h-3.9zM233.6 704.4h3.9v2.2h-3.9zM305.9 704.4h7.5v2.2h-7.5zM316.8 706.4h3.9v2.2h-3.9zM273.4 708.4h3.9v2.2h-3.9zM316.8 708.4h3.9v2.2h-3.9zM291.5 714.3h3.9v2.2h-3.9zM298.7 714.3h3.9v2.2h-3.9zM305.9 716.3h3.9v2.2h-3.9zM258.9 720.2h3.9v2.2h-3.9zM280.6 720.2h3.9v2.2h-3.9zM291.5 722.2h3.9v2.2h-3.9zM291.5 724.2h3.9v2.2h-3.9zM302.3 724.2h3.9v2.2h-3.9zM251.7 726.1h3.9v2.2h-3.9zM266.2 726.1h11.1v2.2h-11.1zM280.6 726.1h3.9v2.2h-3.9zM287.9 726.1h3.9v2.2h-3.9zM298.7 726.1h3.9v2.2h-3.9zM179.4 728.1h3.9v2.2h-3.9zM204.7 728.1h3.9v2.2h-3.9zM295.1 728.1h3.9v2.2h-3.9zM302.3 728.1h3.9v2.2h-3.9zM316.8 730.1h3.9v2.2h-3.9zM309.6 732.1h3.9v2.2h-3.9zM244.5 736h3.9v2.2h-3.9zM258.9 740h3.9v2.2h-3.9zM291.5 740h3.9v2.2h-3.9zM305.9 740h14.7v2.2h-14.7zM208.3 741.9h3.9v2.2h-3.9zM305.9 743.9h3.9v2.2h-3.9zM190.2 747.9h3.9v2.2h-3.9zM240.8 747.9h3.9v2.2h-3.9zM295.1 751.8h7.5v2.2h-7.5zM309.6 751.8h7.5v2.2h-7.5zM204.7 753.8h3.9v2.2h-3.9zM230 753.8h3.9v2.2h-3.9zM230 755.7h3.9v2.2h-3.9zM240.8 755.7h7.5v2.2h-7.5zM186.6 757.7h7.5v2.2h-7.5zM291.5 757.7h3.9v2.2h-3.9zM183 759.7h3.9v2.2h-3.9zM215.5 759.7h3.9v2.2h-3.9zM222.8 759.7h3.9v2.2h-3.9zM233.6 759.7h7.5v2.2h-7.5zM244.5 759.7h7.5v2.2h-7.5zM291.5 759.7h3.9v2.2h-3.9zM316.8 759.7h3.9v2.2h-3.9zM179.4 761.7h3.9v2.2h-3.9zM186.6 761.7h3.9v2.2h-3.9zM193.8 761.7h7.5v2.2h-7.5zM226.4 761.7h3.9v2.2h-3.9zM248.1 761.7h3.9v2.2h-3.9zM295.1 761.7h7.5v2.2h-7.5zM183 763.6h3.9v2.2h-3.9zM197.5 763.6h3.9v2.2h-3.9zM208.3 763.6h3.9v2.2h-3.9zM291.5 763.6h11.1v2.2h-11.1zM204.7 765.6h3.9v2.2h-3.9zM240.8 765.6h3.9v2.2h-3.9zM298.7 765.6h3.9v2.2h-3.9zM183 767.6h3.9v2.2h-3.9zM222.8 767.6h3.9v2.2h-3.9zM273.4 767.6h3.9v2.2h-3.9zM298.7 767.6h3.9v2.2h-3.9zM313.2 767.6h3.9v2.2h-3.9zM193.8 769.6h3.9v2.2h-3.9zM201.1 769.6h3.9v2.2h-3.9zM215.5 769.6h3.9v2.2h-3.9zM240.8 769.6h3.9v2.2h-3.9zM295.1 769.6h3.9v2.2h-3.9zM305.9 769.6h3.9v2.2h-3.9zM313.2 769.6h7.5v2.2h-7.5zM197.5 771.5h3.9v2.2h-3.9zM240.8 771.5h3.9v2.2h-3.9zM258.9 771.5h3.9v2.2h-3.9zM277 771.5h7.5v2.2h-7.5zM287.9 771.5h3.9v2.2h-3.9zM298.7 771.5h3.9v2.2h-3.9zM193.8 773.5h11.1v2.2h-11.1zM219.1 773.5h3.9v2.2h-3.9zM233.6 773.5h3.9v2.2h-3.9zM183 777.5h3.9v2.2h-3.9zM240.8 777.5h3.9v2.2h-3.9zM302.3 777.5h3.9v2.2h-3.9zM309.6 777.5h3.9v2.2h-3.9zM302.3 779.4h3.9v2.2h-3.9zM313.2 779.4h7.5v2.2h-7.5zM179.4 781.4h3.9v2.2h-3.9zM237.2 781.4h3.9v2.2h-3.9zM258.9 781.4h3.9v2.2h-3.9zM269.8 781.4h3.9v2.2h-3.9zM197.5 783.4h3.9v2.2h-3.9zM208.3 783.4h3.9v2.2h-3.9zM226.4 783.4h3.9v2.2h-3.9zM237.2 783.4h3.9v2.2h-3.9zM244.5 783.4h3.9v2.2h-3.9zM193.8 785.4h3.9v2.2h-3.9zM240.8 785.4h3.9v2.2h-3.9zM309.6 785.4h3.9v2.2h-3.9zM204.7 787.3h3.9v2.2h-3.9zM305.9 787.3h14.7v2.2h-14.7zM211.9 789.3h3.9v2.2h-3.9zM157.7 791.3h3.9v2.2h-3.9zM179.4 791.3h3.9v2.2h-3.9zM186.6 791.3h3.9v2.2h-3.9zM226.4 791.3h11.1v2.2h-11.1zM244.5 791.3h7.5v2.2h-7.5zM114.3 793.3h3.9v2.2h-3.9zM157.7 793.3h3.9v2.2h-3.9zM237.2 793.3h11.1v2.2h-11.1zM219.1 795.2h3.9v2.2h-3.9zM248.1 795.2h3.9v2.2h-3.9zM316.8 795.2h3.9v2.2h-3.9z" fill="#ccd8f0" shape-rendering="crispEdges"/>
<path d="M291.5 623.5h3.9v2.2h-3.9zM280.6 625.5h3.9v2.2h-3.9zM287.9 625.5h3.9v2.2h-3.9zM302.3 625.5h3.9v2.2h-3.9zM99.8 631.4h3.9v2.2h-3.9zM233.6 631.4h3.9v2.2h-3.9zM313.2 631.4h3.9v2.2h-3.9zM226.4 635.3h3.9v2.2h-3.9zM244.5 635.3h7.5v2.2h-7.5zM309.6 635.3h3.9v2.2h-3.9zM230 641.3h3.9v2.2h-3.9zM132.4 647.2h3.9v2.2h-3.9zM302.3 649.2h3.9v2.2h-3.9zM125.1 655.1h3.9v2.2h-3.9zM222.8 655.1h3.9v2.2h-3.9zM233.6 655.1h3.9v2.2h-3.9zM248.1 655.1h3.9v2.2h-3.9zM291.5 655.1h3.9v2.2h-3.9zM295.1 657.1h3.9v2.2h-3.9zM190.2 659h3.9v2.2h-3.9zM215.5 659h3.9v2.2h-3.9zM262.5 659h3.9v2.2h-3.9zM273.4 659h3.9v2.2h-3.9zM313.2 659h3.9v2.2h-3.9zM204.7 665h3.9v2.2h-3.9zM211.9 665h7.5v2.2h-7.5zM211.9 666.9h3.9v2.2h-3.9zM230 666.9h3.9v2.2h-3.9zM280.6 666.9h7.5v2.2h-7.5zM313.2 666.9h7.5v2.2h-7.5zM302.3 670.9h3.9v2.2h-3.9zM183 672.8h3.9v2.2h-3.9zM197.5 672.8h3.9v2.2h-3.9zM211.9 672.8h3.9v2.2h-3.9zM233.6 672.8h7.5v2.2h-7.5zM208.3 674.8h3.9v2.2h-3.9zM125.1 676.8h3.9v2.2h-3.9zM168.5 676.8h3.9v2.2h-3.9zM305.9 676.8h3.9v2.2h-3.9zM183 678.8h3.9v2.2h-3.9zM208.3 680.7h3.9v2.2h-3.9zM305.9 682.7h3.9v2.2h-3.9zM222.8 684.7h3.9v2.2h-3.9zM255.3 684.7h3.9v2.2h-3.9zM287.9 684.7h3.9v2.2h-3.9zM266.2 686.7h3.9v2.2h-3.9zM248.1 688.6h3.9v2.2h-3.9zM277 688.6h3.9v2.2h-3.9zM215.5 690.6h3.9v2.2h-3.9zM313.2 690.6h7.5v2.2h-7.5zM179.4 692.6h7.5v2.2h-7.5zM211.9 692.6h3.9v2.2h-3.9zM248.1 692.6h3.9v2.2h-3.9zM298.7 692.6h3.9v2.2h-3.9zM222.8 694.6h3.9v2.2h-3.9zM251.7 694.6h3.9v2.2h-3.9zM269.8 694.6h3.9v2.2h-3.9zM284.2 694.6h3.9v2.2h-3.9zM302.3 694.6h3.9v2.2h-3.9zM295.1 696.5h3.9v2.2h-3.9zM211.9 698.5h3.9v2.2h-3.9zM237.2 698.5h3.9v2.2h-3.9zM248.1 698.5h11.1v2.2h-11.1zM277 698.5h3.9v2.2h-3.9zM313.2 698.5h3.9v2.2h-3.9zM179.4 700.5h3.9v2.2h-3.9zM193.8 700.5h3.9v2.2h-3.9zM287.9 700.5h3.9v2.2h-3.9zM313.2 702.5h3.9v2.2h-3.9zM237.2 704.4h7.5v2.2h-7.5zM313.2 706.4h3.9v2.2h-3.9zM302.3 710.4h7.5v2.2h-7.5zM316.8 710.4h3.9v2.2h-3.9zM215.5 712.3h3.9v2.2h-3.9zM240.8 716.3h3.9v2.2h-3.9zM305.9 718.2h3.9v2.2h-3.9zM222.8 720.2h3.9v2.2h-3.9zM316.8 720.2h3.9v2.2h-3.9zM226.4 722.2h3.9v2.2h-3.9zM237.2 722.2h3.9v2.2h-3.9zM230 724.2h3.9v2.2h-3.9zM183 730.1h3.9v2.2h-3.9zM201.1 730.1h3.9v2.2h-3.9zM305.9 730.1h3.9v2.2h-3.9zM237.2 732.1h3.9v2.2h-3.9zM121.5 734h3.9v2.2h-3.9zM305.9 734h3.9v2.2h-3.9zM291.5 736h3.9v2.2h-3.9zM211.9 738h3.9v2.2h-3.9zM302.3 738h3.9v2.2h-3.9zM298.7 740h3.9v2.2h-3.9zM204.7 741.9h3.9v2.2h-3.9zM244.5 745.9h3.9v2.2h-3.9zM295.1 745.9h3.9v2.2h-3.9zM190.2 751.8h3.9v2.2h-3.9zM204.7 755.7h3.9v2.2h-3.9zM237.2 763.6h3.9v2.2h-3.9zM201.1 765.6h3.9v2.2h-3.9zM190.2 767.6h3.9v2.2h-3.9zM211.9 767.6h3.9v2.2h-3.9zM230 767.6h3.9v2.2h-3.9zM240.8 775.5h3.9v2.2h-3.9zM219.1 777.5h3.9v2.2h-3.9zM237.2 777.5h3.9v2.2h-3.9zM186.6 779.4h3.9v2.2h-3.9zM237.2 779.4h3.9v2.2h-3.9zM211.9 781.4h3.9v2.2h-3.9zM222.8 781.4h3.9v2.2h-3.9zM230 781.4h3.9v2.2h-3.9zM309.6 783.4h3.9v2.2h-3.9zM179.4 785.4h3.9v2.2h-3.9zM291.5 785.4h3.9v2.2h-3.9zM313.2 785.4h3.9v2.2h-3.9zM211.9 787.3h3.9v2.2h-3.9zM251.7 787.3h3.9v2.2h-3.9zM201.1 789.3h3.9v2.2h-3.9zM273.4 791.3h3.9v2.2h-3.9zM211.9 793.3h3.9v2.2h-3.9zM255.3 795.2h3.9v2.2h-3.9zM269.8 795.2h3.9v2.2h-3.9z" fill="#d8dede" shape-rendering="crispEdges"/>
<path d="M295.1 623.5h3.9v2.2h-3.9zM305.9 623.5h3.9v2.2h-3.9zM295.1 625.5h7.5v2.2h-7.5zM309.6 625.5h3.9v2.2h-3.9zM316.8 625.5h3.9v2.2h-3.9zM219.1 629.4h3.9v2.2h-3.9zM143.2 631.4h3.9v2.2h-3.9zM316.8 631.4h3.9v2.2h-3.9zM230 633.4h3.9v2.2h-3.9zM107 635.3h3.9v2.2h-3.9zM316.8 635.3h3.9v2.2h-3.9zM302.3 643.2h3.9v2.2h-3.9zM136 647.2h3.9v2.2h-3.9zM298.7 651.1h3.9v2.2h-3.9zM295.1 655.1h3.9v2.2h-3.9zM316.8 655.1h3.9v2.2h-3.9zM305.9 657.1h3.9v2.2h-3.9zM313.2 657.1h3.9v2.2h-3.9zM251.7 659h3.9v2.2h-3.9zM269.8 659h3.9v2.2h-3.9zM280.6 659h3.9v2.2h-3.9zM291.5 659h3.9v2.2h-3.9zM298.7 659h3.9v2.2h-3.9zM305.9 659h7.5v2.2h-7.5zM183 663h3.9v2.2h-3.9zM204.7 663h3.9v2.2h-3.9zM295.1 663h3.9v2.2h-3.9zM309.6 663h7.5v2.2h-7.5zM291.5 665h3.9v2.2h-3.9zM298.7 665h7.5v2.2h-7.5zM179.4 666.9h3.9v2.2h-3.9zM186.6 666.9h3.9v2.2h-3.9zM193.8 666.9h3.9v2.2h-3.9zM244.5 666.9h3.9v2.2h-3.9zM266.2 666.9h7.5v2.2h-7.5zM193.8 672.8h3.9v2.2h-3.9zM230 672.8h3.9v2.2h-3.9zM248.1 672.8h3.9v2.2h-3.9zM193.8 674.8h3.9v2.2h-3.9zM114.3 676.8h3.9v2.2h-3.9zM136 676.8h7.5v2.2h-7.5zM175.8 676.8h7.5v2.2h-7.5zM193.8 676.8h7.5v2.2h-7.5zM204.7 676.8h3.9v2.2h-3.9zM193.8 680.7h3.9v2.2h-3.9zM201.1 680.7h3.9v2.2h-3.9zM251.7 680.7h3.9v2.2h-3.9zM277 680.7h3.9v2.2h-3.9zM284.2 680.7h3.9v2.2h-3.9zM186.6 682.7h3.9v2.2h-3.9zM201.1 682.7h3.9v2.2h-3.9zM215.5 682.7h3.9v2.2h-3.9zM226.4 682.7h7.5v2.2h-7.5zM295.1 682.7h3.9v2.2h-3.9zM313.2 682.7h3.9v2.2h-3.9zM193.8 684.7h3.9v2.2h-3.9zM201.1 684.7h3.9v2.2h-3.9zM291.5 684.7h3.9v2.2h-3.9zM309.6 684.7h3.9v2.2h-3.9zM316.8 684.7h3.9v2.2h-3.9zM280.6 686.7h3.9v2.2h-3.9zM136 688.6h3.9v2.2h-3.9zM186.6 688.6h3.9v2.2h-3.9zM226.4 688.6h3.9v2.2h-3.9zM233.6 688.6h3.9v2.2h-3.9zM240.8 688.6h3.9v2.2h-3.9zM197.5 690.6h3.9v2.2h-3.9zM208.3 690.6h7.5v2.2h-7.5zM222.8 692.6h3.9v2.2h-3.9zM240.8 692.6h3.9v2.2h-3.9zM266.2 692.6h3.9v2.2h-3.9zM280.6 692.6h3.9v2.2h-3.9zM179.4 694.6h3.9v2.2h-3.9zM186.6 694.6h11.1v2.2h-11.1zM201.1 694.6h3.9v2.2h-3.9zM255.3 694.6h3.9v2.2h-3.9zM222.8 696.5h3.9v2.2h-3.9zM183 698.5h3.9v2.2h-3.9zM190.2 698.5h3.9v2.2h-3.9zM215.5 698.5h7.5v2.2h-7.5zM266.2 698.5h3.9v2.2h-3.9zM295.1 698.5h7.5v2.2h-7.5zM204.7 700.5h3.9v2.2h-3.9zM251.7 700.5h3.9v2.2h-3.9zM201.1 702.5h3.9v2.2h-3.9zM302.3 702.5h3.9v2.2h-3.9zM309.6 702.5h3.9v2.2h-3.9zM305.9 706.4h3.9v2.2h-3.9zM183 710.4h3.9v2.2h-3.9zM208.3 710.4h3.9v2.2h-3.9zM219.1 712.3h3.9v2.2h-3.9zM248.1 712.3h3.9v2.2h-3.9zM197.5 714.3h3.9v2.2h-3.9zM211.9 714.3h3.9v2.2h-3.9zM219.1 716.3h3.9v2.2h-3.9zM226.4 716.3h3.9v2.2h-3.9zM237.2 716.3h3.9v2.2h-3.9zM309.6 718.2h11.1v2.2h-11.1zM219.1 720.2h3.9v2.2h-3.9zM233.6 720.2h3.9v2.2h-3.9zM179.4 722.2h3.9v2.2h-3.9zM211.9 722.2h3.9v2.2h-3.9zM219.1 722.2h3.9v2.2h-3.9zM240.8 722.2h3.9v2.2h-3.9zM295.1 724.2h3.9v2.2h-3.9zM305.9 726.1h3.9v2.2h-3.9zM186.6 728.1h3.9v2.2h-3.9zM201.1 728.1h3.9v2.2h-3.9zM179.4 730.1h3.9v2.2h-3.9zM190.2 730.1h3.9v2.2h-3.9zM204.7 730.1h3.9v2.2h-3.9zM219.1 732.1h3.9v2.2h-3.9zM128.7 734h3.9v2.2h-3.9zM179.4 734h3.9v2.2h-3.9zM240.8 734h3.9v2.2h-3.9zM302.3 734h3.9v2.2h-3.9zM313.2 734h3.9v2.2h-3.9zM230 736h3.9v2.2h-3.9zM316.8 736h3.9v2.2h-3.9zM186.6 738h3.9v2.2h-3.9zM204.7 738h3.9v2.2h-3.9zM291.5 738h3.9v2.2h-3.9zM316.8 738h3.9v2.2h-3.9zM230 740h3.9v2.2h-3.9zM193.8 741.9h3.9v2.2h-3.9zM298.7 741.9h3.9v2.2h-3.9zM305.9 741.9h3.9v2.2h-3.9zM204.7 743.9h3.9v2.2h-3.9zM233.6 745.9h7.5v2.2h-7.5zM186.6 747.9h3.9v2.2h-3.9zM219.1 747.9h3.9v2.2h-3.9zM226.4 747.9h3.9v2.2h-3.9zM204.7 749.8h3.9v2.2h-3.9zM215.5 749.8h3.9v2.2h-3.9zM222.8 749.8h3.9v2.2h-3.9zM240.8 749.8h3.9v2.2h-3.9zM222.8 751.8h7.5v2.2h-7.5zM233.6 751.8h3.9v2.2h-3.9zM244.5 751.8h3.9v2.2h-3.9zM179.4 753.8h3.9v2.2h-3.9zM222.8 753.8h3.9v2.2h-3.9zM208.3 755.7h3.9v2.2h-3.9zM248.1 755.7h3.9v2.2h-3.9zM201.1 757.7h3.9v2.2h-3.9zM248.1 757.7h3.9v2.2h-3.9zM240.8 759.7h3.9v2.2h-3.9zM219.1 763.6h3.9v2.2h-3.9zM193.8 765.6h3.9v2.2h-3.9zM222.8 769.6h3.9v2.2h-3.9zM230 769.6h3.9v2.2h-3.9zM190.2 771.5h3.9v2.2h-3.9zM226.4 771.5h3.9v2.2h-3.9zM183 775.5h3.9v2.2h-3.9zM215.5 775.5h3.9v2.2h-3.9zM226.4 775.5h3.9v2.2h-3.9zM313.2 775.5h3.9v2.2h-3.9zM186.6 777.5h3.9v2.2h-3.9zM204.7 779.4h3.9v2.2h-3.9zM240.8 779.4h3.9v2.2h-3.9zM248.1 779.4h3.9v2.2h-3.9zM186.6 781.4h3.9v2.2h-3.9zM248.1 781.4h3.9v2.2h-3.9zM313.2 783.4h7.5v2.2h-7.5zM190.2 787.3h3.9v2.2h-3.9zM197.5 787.3h7.5v2.2h-7.5zM258.9 787.3h3.9v2.2h-3.9zM269.8 787.3h7.5v2.2h-7.5zM280.6 787.3h11.1v2.2h-11.1zM219.1 789.3h3.9v2.2h-3.9zM230 789.3h3.9v2.2h-3.9zM262.5 789.3h3.9v2.2h-3.9zM273.4 789.3h3.9v2.2h-3.9zM284.2 789.3h3.9v2.2h-3.9zM211.9 791.3h3.9v2.2h-3.9zM251.7 791.3h7.5v2.2h-7.5zM262.5 791.3h7.5v2.2h-7.5zM277 791.3h7.5v2.2h-7.5zM186.6 793.3h3.9v2.2h-3.9zM215.5 793.3h7.5v2.2h-7.5zM248.1 793.3h3.9v2.2h-3.9zM255.3 793.3h3.9v2.2h-3.9zM262.5 793.3h3.9v2.2h-3.9zM309.6 793.3h3.9v2.2h-3.9zM266.2 795.2h3.9v2.2h-3.9zM273.4 795.2h3.9v2.2h-3.9zM280.6 795.2h3.9v2.2h-3.9z" fill="#dedede" shape-rendering="crispEdges"/>
<path d="M298.7 623.5h3.9v2.2h-3.9zM222.8 631.4h3.9v2.2h-3.9zM305.9 643.2h3.9v2.2h-3.9zM110.7 655.1h3.9v2.2h-3.9zM168.5 655.1h3.9v2.2h-3.9zM316.8 657.1h3.9v2.2h-3.9zM186.6 663h3.9v2.2h-3.9zM193.8 663h3.9v2.2h-3.9zM201.1 663h3.9v2.2h-3.9zM208.3 663h3.9v2.2h-3.9zM291.5 663h3.9v2.2h-3.9zM302.3 663h3.9v2.2h-3.9zM316.8 663h3.9v2.2h-3.9zM309.6 665h3.9v2.2h-3.9zM190.2 666.9h3.9v2.2h-3.9zM237.2 666.9h3.9v2.2h-3.9zM143.2 670.9h3.9v2.2h-3.9zM201.1 674.8h3.9v2.2h-3.9zM117.9 676.8h3.9v2.2h-3.9zM150.4 676.8h3.9v2.2h-3.9zM258.9 680.7h3.9v2.2h-3.9zM183 682.7h3.9v2.2h-3.9zM190.2 682.7h7.5v2.2h-7.5zM219.1 682.7h7.5v2.2h-7.5zM233.6 682.7h3.9v2.2h-3.9zM219.1 684.7h3.9v2.2h-3.9zM305.9 684.7h3.9v2.2h-3.9zM99.8 686.7h3.9v2.2h-3.9zM157.7 686.7h7.5v2.2h-7.5zM273.4 686.7h3.9v2.2h-3.9zM190.2 688.6h3.9v2.2h-3.9zM204.7 688.6h3.9v2.2h-3.9zM215.5 688.6h3.9v2.2h-3.9zM230 688.6h3.9v2.2h-3.9zM244.5 688.6h3.9v2.2h-3.9zM128.7 690.6h3.9v2.2h-3.9zM157.7 690.6h3.9v2.2h-3.9zM190.2 690.6h3.9v2.2h-3.9zM295.1 690.6h3.9v2.2h-3.9zM204.7 692.6h3.9v2.2h-3.9zM233.6 692.6h3.9v2.2h-3.9zM208.3 698.5h3.9v2.2h-3.9zM262.5 698.5h3.9v2.2h-3.9zM287.9 698.5h3.9v2.2h-3.9zM305.9 698.5h3.9v2.2h-3.9zM186.6 700.5h3.9v2.2h-3.9zM211.9 700.5h7.5v2.2h-7.5zM284.2 700.5h3.9v2.2h-3.9zM240.8 702.5h3.9v2.2h-3.9zM125.1 704.4h3.9v2.2h-3.9zM179.4 704.4h3.9v2.2h-3.9zM211.9 704.4h3.9v2.2h-3.9zM230 704.4h3.9v2.2h-3.9zM99.8 708.4h3.9v2.2h-3.9zM208.3 708.4h3.9v2.2h-3.9zM215.5 708.4h3.9v2.2h-3.9zM197.5 710.4h3.9v2.2h-3.9zM215.5 710.4h3.9v2.2h-3.9zM128.7 712.3h3.9v2.2h-3.9zM164.9 712.3h3.9v2.2h-3.9zM211.9 712.3h3.9v2.2h-3.9zM204.7 714.3h3.9v2.2h-3.9zM230 714.3h3.9v2.2h-3.9zM237.2 714.3h3.9v2.2h-3.9zM208.3 716.3h3.9v2.2h-3.9zM233.6 716.3h3.9v2.2h-3.9zM298.7 718.2h3.9v2.2h-3.9zM208.3 720.2h3.9v2.2h-3.9zM244.5 720.2h3.9v2.2h-3.9zM208.3 722.2h3.9v2.2h-3.9zM222.8 722.2h3.9v2.2h-3.9zM248.1 722.2h3.9v2.2h-3.9zM204.7 724.2h3.9v2.2h-3.9zM179.4 726.1h3.9v2.2h-3.9zM190.2 726.1h3.9v2.2h-3.9zM215.5 726.1h3.9v2.2h-3.9zM295.1 726.1h3.9v2.2h-3.9zM193.8 728.1h3.9v2.2h-3.9zM230 728.1h3.9v2.2h-3.9zM161.3 730.1h3.9v2.2h-3.9zM193.8 730.1h7.5v2.2h-7.5zM215.5 730.1h3.9v2.2h-3.9zM244.5 730.1h3.9v2.2h-3.9zM110.7 734h3.9v2.2h-3.9zM125.1 734h3.9v2.2h-3.9zM139.6 734h3.9v2.2h-3.9zM146.8 734h3.9v2.2h-3.9zM164.9 734h3.9v2.2h-3.9zM175.8 734h3.9v2.2h-3.9zM237.2 734h3.9v2.2h-3.9zM240.8 736h3.9v2.2h-3.9zM240.8 738h3.9v2.2h-3.9zM313.2 738h3.9v2.2h-3.9zM226.4 740h3.9v2.2h-3.9zM240.8 740h3.9v2.2h-3.9zM186.6 741.9h3.9v2.2h-3.9zM295.1 741.9h3.9v2.2h-3.9zM193.8 745.9h3.9v2.2h-3.9zM226.4 745.9h3.9v2.2h-3.9zM132.4 747.9h3.9v2.2h-3.9zM146.8 747.9h3.9v2.2h-3.9zM179.4 747.9h3.9v2.2h-3.9zM193.8 747.9h3.9v2.2h-3.9zM183 749.8h3.9v2.2h-3.9zM204.7 751.8h3.9v2.2h-3.9zM128.7 753.8h3.9v2.2h-3.9zM168.5 753.8h7.5v2.2h-7.5zM164.9 755.7h3.9v2.2h-3.9zM215.5 755.7h7.5v2.2h-7.5zM233.6 757.7h3.9v2.2h-3.9zM204.7 759.7h3.9v2.2h-3.9zM201.1 761.7h3.9v2.2h-3.9zM226.4 763.6h3.9v2.2h-3.9zM114.3 767.6h3.9v2.2h-3.9zM248.1 767.6h3.9v2.2h-3.9zM219.1 771.5h3.9v2.2h-3.9zM230 771.5h3.9v2.2h-3.9zM190.2 775.5h3.9v2.2h-3.9zM208.3 775.5h7.5v2.2h-7.5zM99.8 777.5h3.9v2.2h-3.9zM204.7 777.5h3.9v2.2h-3.9zM215.5 777.5h3.9v2.2h-3.9zM215.5 779.4h3.9v2.2h-3.9zM201.1 781.4h3.9v2.2h-3.9zM305.9 781.4h3.9v2.2h-3.9zM255.3 787.3h3.9v2.2h-3.9zM121.5 789.3h3.9v2.2h-3.9zM251.7 789.3h3.9v2.2h-3.9zM258.9 789.3h3.9v2.2h-3.9zM280.6 789.3h3.9v2.2h-3.9zM179.4 793.3h3.9v2.2h-3.9zM273.4 793.3h3.9v2.2h-3.9zM287.9 793.3h3.9v2.2h-3.9zM305.9 793.3h3.9v2.2h-3.9z" fill="#e4d8d8" shape-rendering="crispEdges"/>
<path d="M302.3 623.5h3.9v2.2h-3.9zM309.6 623.5h7.5v2.2h-7.5zM219.1 631.4h3.9v2.2h-3.9zM230 631.4h3.9v2.2h-3.9zM248.1 631.4h3.9v2.2h-3.9zM222.8 633.4h3.9v2.2h-3.9zM233.6 633.4h3.9v2.2h-3.9zM240.8 633.4h3.9v2.2h-3.9zM233.6 635.3h3.9v2.2h-3.9zM204.7 637.3h3.9v2.2h-3.9zM305.9 645.2h3.9v2.2h-3.9zM190.2 663h3.9v2.2h-3.9zM211.9 663h7.5v2.2h-7.5zM305.9 665h3.9v2.2h-3.9zM117.9 668.9h3.9v2.2h-3.9zM136 668.9h7.5v2.2h-7.5zM96.2 670.9h7.5v2.2h-7.5zM107 670.9h3.9v2.2h-3.9zM114.3 670.9h3.9v2.2h-3.9zM121.5 670.9h3.9v2.2h-3.9zM132.4 670.9h7.5v2.2h-7.5zM157.7 670.9h3.9v2.2h-3.9zM168.5 670.9h3.9v2.2h-3.9zM175.8 670.9h3.9v2.2h-3.9zM125.1 674.8h3.9v2.2h-3.9zM150.4 674.8h3.9v2.2h-3.9zM110.7 676.8h3.9v2.2h-3.9zM121.5 676.8h3.9v2.2h-3.9zM161.3 676.8h7.5v2.2h-7.5zM172.1 676.8h3.9v2.2h-3.9zM103.4 680.7h3.9v2.2h-3.9zM139.6 680.7h3.9v2.2h-3.9zM305.9 680.7h3.9v2.2h-3.9zM316.8 680.7h3.9v2.2h-3.9zM114.3 682.7h3.9v2.2h-3.9zM179.4 682.7h3.9v2.2h-3.9zM197.5 682.7h3.9v2.2h-3.9zM204.7 682.7h3.9v2.2h-3.9zM211.9 682.7h3.9v2.2h-3.9zM244.5 682.7h3.9v2.2h-3.9zM136 684.7h3.9v2.2h-3.9zM96.2 686.7h3.9v2.2h-3.9zM103.4 686.7h7.5v2.2h-7.5zM128.7 686.7h3.9v2.2h-3.9zM139.6 686.7h3.9v2.2h-3.9zM99.8 688.6h11.1v2.2h-11.1zM175.8 688.6h3.9v2.2h-3.9zM193.8 688.6h11.1v2.2h-11.1zM211.9 688.6h3.9v2.2h-3.9zM110.7 690.6h3.9v2.2h-3.9zM125.1 690.6h3.9v2.2h-3.9zM132.4 690.6h3.9v2.2h-3.9zM139.6 690.6h3.9v2.2h-3.9zM230 692.6h3.9v2.2h-3.9zM237.2 692.6h3.9v2.2h-3.9zM244.5 692.6h3.9v2.2h-3.9zM154.1 698.5h3.9v2.2h-3.9zM161.3 698.5h3.9v2.2h-3.9zM193.8 698.5h3.9v2.2h-3.9zM269.8 698.5h7.5v2.2h-7.5zM193.8 702.5h3.9v2.2h-3.9zM208.3 702.5h3.9v2.2h-3.9zM230 702.5h3.9v2.2h-3.9zM305.9 702.5h3.9v2.2h-3.9zM99.8 704.4h7.5v2.2h-7.5zM110.7 704.4h3.9v2.2h-3.9zM121.5 704.4h3.9v2.2h-3.9zM150.4 704.4h3.9v2.2h-3.9zM164.9 704.4h3.9v2.2h-3.9zM193.8 704.4h3.9v2.2h-3.9zM204.7 704.4h3.9v2.2h-3.9zM193.8 706.4h3.9v2.2h-3.9zM222.8 706.4h3.9v2.2h-3.9zM103.4 708.4h3.9v2.2h-3.9zM110.7 708.4h3.9v2.2h-3.9zM128.7 708.4h3.9v2.2h-3.9zM150.4 708.4h7.5v2.2h-7.5zM204.7 708.4h3.9v2.2h-3.9zM237.2 708.4h3.9v2.2h-3.9zM244.5 708.4h3.9v2.2h-3.9zM309.6 710.4h7.5v2.2h-7.5zM107 712.3h3.9v2.2h-3.9zM193.8 712.3h3.9v2.2h-3.9zM204.7 712.3h7.5v2.2h-7.5zM237.2 712.3h3.9v2.2h-3.9zM244.5 712.3h3.9v2.2h-3.9zM125.1 714.3h3.9v2.2h-3.9zM150.4 714.3h3.9v2.2h-3.9zM186.6 714.3h3.9v2.2h-3.9zM193.8 714.3h3.9v2.2h-3.9zM201.1 714.3h3.9v2.2h-3.9zM219.1 714.3h3.9v2.2h-3.9zM96.2 716.3h3.9v2.2h-3.9zM136 716.3h3.9v2.2h-3.9zM146.8 716.3h3.9v2.2h-3.9zM172.1 716.3h3.9v2.2h-3.9zM197.5 716.3h3.9v2.2h-3.9zM204.7 716.3h3.9v2.2h-3.9zM230 716.3h3.9v2.2h-3.9zM222.8 718.2h3.9v2.2h-3.9zM190.2 720.2h3.9v2.2h-3.9zM204.7 720.2h3.9v2.2h-3.9zM211.9 720.2h3.9v2.2h-3.9zM226.4 720.2h3.9v2.2h-3.9zM197.5 722.2h3.9v2.2h-3.9zM230 722.2h3.9v2.2h-3.9zM186.6 724.2h3.9v2.2h-3.9zM197.5 724.2h3.9v2.2h-3.9zM208.3 724.2h3.9v2.2h-3.9zM186.6 726.1h3.9v2.2h-3.9zM204.7 726.1h3.9v2.2h-3.9zM219.1 728.1h3.9v2.2h-3.9zM226.4 728.1h3.9v2.2h-3.9zM110.7 730.1h3.9v2.2h-3.9zM132.4 730.1h3.9v2.2h-3.9zM240.8 730.1h3.9v2.2h-3.9zM114.3 732.1h7.5v2.2h-7.5zM139.6 732.1h3.9v2.2h-3.9zM161.3 732.1h3.9v2.2h-3.9zM230 732.1h7.5v2.2h-7.5zM240.8 732.1h7.5v2.2h-7.5zM136 734h3.9v2.2h-3.9zM143.2 734h3.9v2.2h-3.9zM154.1 734h11.1v2.2h-11.1zM168.5 734h3.9v2.2h-3.9zM197.5 734h11.1v2.2h-11.1zM219.1 736h3.9v2.2h-3.9zM233.6 736h3.9v2.2h-3.9zM179.4 738h3.9v2.2h-3.9zM190.2 738h3.9v2.2h-3.9zM222.8 738h7.5v2.2h-7.5zM197.5 741.9h3.9v2.2h-3.9zM215.5 741.9h3.9v2.2h-3.9zM190.2 743.9h3.9v2.2h-3.9zM197.5 743.9h3.9v2.2h-3.9zM222.8 743.9h3.9v2.2h-3.9zM233.6 743.9h3.9v2.2h-3.9zM179.4 745.9h3.9v2.2h-3.9zM186.6 745.9h7.5v2.2h-7.5zM248.1 745.9h3.9v2.2h-3.9zM114.3 747.9h3.9v2.2h-3.9zM139.6 747.9h7.5v2.2h-7.5zM154.1 747.9h3.9v2.2h-3.9zM211.9 747.9h7.5v2.2h-7.5zM211.9 749.8h3.9v2.2h-3.9zM219.1 749.8h3.9v2.2h-3.9zM248.1 749.8h3.9v2.2h-3.9zM179.4 751.8h3.9v2.2h-3.9zM193.8 751.8h3.9v2.2h-3.9zM237.2 751.8h3.9v2.2h-3.9zM110.7 753.8h3.9v2.2h-3.9zM121.5 753.8h7.5v2.2h-7.5zM157.7 753.8h3.9v2.2h-3.9zM190.2 753.8h3.9v2.2h-3.9zM201.1 753.8h3.9v2.2h-3.9zM211.9 753.8h3.9v2.2h-3.9zM183 755.7h3.9v2.2h-3.9zM226.4 757.7h3.9v2.2h-3.9zM222.8 763.6h3.9v2.2h-3.9zM186.6 765.6h3.9v2.2h-3.9zM215.5 765.6h3.9v2.2h-3.9zM295.1 765.6h3.9v2.2h-3.9zM175.8 767.6h3.9v2.2h-3.9zM186.6 771.5h3.9v2.2h-3.9zM215.5 771.5h3.9v2.2h-3.9zM222.8 771.5h3.9v2.2h-3.9zM96.2 773.5h3.9v2.2h-3.9zM201.1 775.5h3.9v2.2h-3.9zM219.1 775.5h7.5v2.2h-7.5zM110.7 777.5h3.9v2.2h-3.9zM208.3 777.5h3.9v2.2h-3.9zM219.1 779.4h3.9v2.2h-3.9zM230 779.4h3.9v2.2h-3.9zM309.6 781.4h3.9v2.2h-3.9zM316.8 781.4h3.9v2.2h-3.9zM226.4 787.3h3.9v2.2h-3.9zM269.8 789.3h3.9v2.2h-3.9zM183 793.3h3.9v2.2h-3.9zM208.3 793.3h3.9v2.2h-3.9zM136 795.2h3.9v2.2h-3.9zM172.1 795.2h3.9v2.2h-3.9z" fill="#e4d8d2" shape-rendering="crispEdges"/>
<path d="M316.8 623.5h3.9v2.2h-3.9zM244.5 625.5h3.9v2.2h-3.9zM226.4 633.4h3.9v2.2h-3.9zM201.1 637.3h3.9v2.2h-3.9zM197.5 663h3.9v2.2h-3.9zM107 665h3.9v2.2h-3.9zM114.3 665h3.9v2.2h-3.9zM154.1 665h3.9v2.2h-3.9zM110.7 668.9h7.5v2.2h-7.5zM128.7 668.9h7.5v2.2h-7.5zM168.5 668.9h7.5v2.2h-7.5zM103.4 670.9h3.9v2.2h-3.9zM150.4 670.9h3.9v2.2h-3.9zM125.1 672.8h3.9v2.2h-3.9zM161.3 672.8h3.9v2.2h-3.9zM143.2 676.8h3.9v2.2h-3.9zM154.1 676.8h3.9v2.2h-3.9zM114.3 680.7h11.1v2.2h-11.1zM136 680.7h3.9v2.2h-3.9zM146.8 680.7h7.5v2.2h-7.5zM161.3 680.7h3.9v2.2h-3.9zM291.5 680.7h7.5v2.2h-7.5zM99.8 682.7h3.9v2.2h-3.9zM117.9 682.7h3.9v2.2h-3.9zM168.5 682.7h3.9v2.2h-3.9zM175.8 682.7h3.9v2.2h-3.9zM146.8 686.7h3.9v2.2h-3.9zM128.7 688.6h3.9v2.2h-3.9zM139.6 688.6h3.9v2.2h-3.9zM150.4 688.6h3.9v2.2h-3.9zM168.5 688.6h3.9v2.2h-3.9zM114.3 690.6h3.9v2.2h-3.9zM121.5 690.6h3.9v2.2h-3.9zM136 690.6h3.9v2.2h-3.9zM172.1 690.6h3.9v2.2h-3.9zM99.8 694.6h3.9v2.2h-3.9zM99.8 696.5h7.5v2.2h-7.5zM146.8 696.5h3.9v2.2h-3.9zM96.2 698.5h3.9v2.2h-3.9zM121.5 700.5h3.9v2.2h-3.9zM168.5 700.5h3.9v2.2h-3.9zM183 702.5h3.9v2.2h-3.9zM190.2 702.5h3.9v2.2h-3.9zM233.6 702.5h7.5v2.2h-7.5zM128.7 704.4h3.9v2.2h-3.9zM139.6 704.4h3.9v2.2h-3.9zM146.8 704.4h3.9v2.2h-3.9zM161.3 704.4h3.9v2.2h-3.9zM179.4 706.4h3.9v2.2h-3.9zM107 708.4h3.9v2.2h-3.9zM114.3 708.4h3.9v2.2h-3.9zM125.1 708.4h3.9v2.2h-3.9zM143.2 708.4h7.5v2.2h-7.5zM157.7 708.4h3.9v2.2h-3.9zM168.5 708.4h7.5v2.2h-7.5zM183 708.4h3.9v2.2h-3.9zM201.1 708.4h3.9v2.2h-3.9zM226.4 708.4h3.9v2.2h-3.9zM96.2 712.3h3.9v2.2h-3.9zM103.4 712.3h3.9v2.2h-3.9zM146.8 712.3h3.9v2.2h-3.9zM168.5 712.3h3.9v2.2h-3.9zM226.4 712.3h3.9v2.2h-3.9zM107 714.3h3.9v2.2h-3.9zM117.9 714.3h3.9v2.2h-3.9zM128.7 714.3h3.9v2.2h-3.9zM139.6 714.3h11.1v2.2h-11.1zM161.3 714.3h3.9v2.2h-3.9zM128.7 716.3h3.9v2.2h-3.9zM161.3 716.3h3.9v2.2h-3.9zM175.8 716.3h7.5v2.2h-7.5zM244.5 716.3h3.9v2.2h-3.9zM139.6 718.2h3.9v2.2h-3.9zM154.1 718.2h3.9v2.2h-3.9zM193.8 718.2h3.9v2.2h-3.9zM233.6 718.2h3.9v2.2h-3.9zM240.8 718.2h3.9v2.2h-3.9zM215.5 720.2h3.9v2.2h-3.9zM230 720.2h3.9v2.2h-3.9zM248.1 720.2h3.9v2.2h-3.9zM190.2 722.2h3.9v2.2h-3.9zM208.3 726.1h3.9v2.2h-3.9zM125.1 728.1h3.9v2.2h-3.9zM157.7 728.1h3.9v2.2h-3.9zM197.5 728.1h3.9v2.2h-3.9zM208.3 728.1h3.9v2.2h-3.9zM222.8 728.1h3.9v2.2h-3.9zM99.8 732.1h7.5v2.2h-7.5zM154.1 732.1h7.5v2.2h-7.5zM208.3 732.1h3.9v2.2h-3.9zM226.4 732.1h3.9v2.2h-3.9zM103.4 734h3.9v2.2h-3.9zM172.1 734h3.9v2.2h-3.9zM222.8 734h3.9v2.2h-3.9zM233.6 734h3.9v2.2h-3.9zM132.4 736h3.9v2.2h-3.9zM139.6 736h7.5v2.2h-7.5zM157.7 736h3.9v2.2h-3.9zM175.8 736h7.5v2.2h-7.5zM201.1 736h14.7v2.2h-14.7zM96.2 738h3.9v2.2h-3.9zM175.8 738h3.9v2.2h-3.9zM197.5 738h3.9v2.2h-3.9zM96.2 740h3.9v2.2h-3.9zM107 740h7.5v2.2h-7.5zM179.4 740h3.9v2.2h-3.9zM244.5 743.9h3.9v2.2h-3.9zM110.7 745.9h3.9v2.2h-3.9zM172.1 745.9h3.9v2.2h-3.9zM222.8 745.9h3.9v2.2h-3.9zM103.4 747.9h3.9v2.2h-3.9zM150.4 747.9h3.9v2.2h-3.9zM164.9 747.9h3.9v2.2h-3.9zM103.4 753.8h3.9v2.2h-3.9zM114.3 753.8h7.5v2.2h-7.5zM139.6 753.8h7.5v2.2h-7.5zM161.3 753.8h3.9v2.2h-3.9zM193.8 753.8h3.9v2.2h-3.9zM219.1 753.8h3.9v2.2h-3.9zM114.3 755.7h3.9v2.2h-3.9zM193.8 755.7h3.9v2.2h-3.9zM201.1 759.7h3.9v2.2h-3.9zM146.8 761.7h3.9v2.2h-3.9zM96.2 763.6h3.9v2.2h-3.9zM125.1 763.6h3.9v2.2h-3.9zM139.6 763.6h3.9v2.2h-3.9zM117.9 765.6h3.9v2.2h-3.9zM143.2 767.6h3.9v2.2h-3.9zM157.7 767.6h3.9v2.2h-3.9zM154.1 769.6h3.9v2.2h-3.9zM175.8 769.6h3.9v2.2h-3.9zM117.9 773.5h7.5v2.2h-7.5zM139.6 773.5h3.9v2.2h-3.9zM146.8 773.5h3.9v2.2h-3.9zM168.5 773.5h3.9v2.2h-3.9zM237.2 775.5h3.9v2.2h-3.9zM244.5 775.5h3.9v2.2h-3.9zM143.2 777.5h3.9v2.2h-3.9zM150.4 777.5h3.9v2.2h-3.9zM103.4 779.4h3.9v2.2h-3.9zM128.7 779.4h3.9v2.2h-3.9zM157.7 779.4h3.9v2.2h-3.9zM201.1 779.4h3.9v2.2h-3.9zM172.1 785.4h3.9v2.2h-3.9zM193.8 787.3h3.9v2.2h-3.9zM215.5 787.3h3.9v2.2h-3.9zM107 789.3h3.9v2.2h-3.9zM125.1 789.3h7.5v2.2h-7.5zM161.3 789.3h3.9v2.2h-3.9zM193.8 793.3h3.9v2.2h-3.9zM96.2 795.2h3.9v2.2h-3.9zM114.3 795.2h3.9v2.2h-3.9z" fill="#ead8cc" shape-rendering="crispEdges"/>
<path d="M161.3 625.5h3.9v2.2h-3.9zM230 627.4h3.9v2.2h-3.9zM114.3 633.4h3.9v2.2h-3.9zM305.9 635.3h3.9v2.2h-3.9zM316.8 637.3h3.9v2.2h-3.9zM99.8 643.2h3.9v2.2h-3.9zM172.1 643.2h3.9v2.2h-3.9zM175.8 649.2h3.9v2.2h-3.9zM125.1 651.1h3.9v2.2h-3.9zM150.4 659h3.9v2.2h-3.9zM240.8 670.9h3.9v2.2h-3.9zM103.4 674.8h3.9v2.2h-3.9zM244.5 674.8h3.9v2.2h-3.9zM287.9 676.8h3.9v2.2h-3.9zM237.2 700.5h3.9v2.2h-3.9zM258.9 718.2h3.9v2.2h-3.9zM273.4 732.1h7.5v2.2h-7.5zM284.2 738h3.9v2.2h-3.9zM284.2 740h3.9v2.2h-3.9zM255.3 743.9h3.9v2.2h-3.9zM277 757.7h3.9v2.2h-3.9zM302.3 759.7h3.9v2.2h-3.9zM269.8 771.5h3.9v2.2h-3.9zM266.2 773.5h3.9v2.2h-3.9zM266.2 775.5h3.9v2.2h-3.9zM211.9 777.5h3.9v2.2h-3.9zM262.5 779.4h7.5v2.2h-7.5zM284.2 785.4h3.9v2.2h-3.9z" fill="#c6d2f6" shape-rendering="crispEdges"/>
<path d="M164.9 625.5h3.9v2.2h-3.9zM125.1 627.4h7.5v2.2h-7.5zM161.3 627.4h7.5v2.2h-7.5zM226.4 629.4h3.9v2.2h-3.9zM154.1 631.4h3.9v2.2h-3.9zM161.3 631.4h3.9v2.2h-3.9zM284.2 633.4h3.9v2.2h-3.9zM136 635.3h3.9v2.2h-3.9zM233.6 641.3h3.9v2.2h-3.9zM280.6 643.2h3.9v2.2h-3.9zM219.1 645.2h7.5v2.2h-7.5zM305.9 649.2h3.9v2.2h-3.9zM313.2 653.1h3.9v2.2h-3.9zM226.4 655.1h3.9v2.2h-3.9zM244.5 655.1h3.9v2.2h-3.9zM190.2 657.1h3.9v2.2h-3.9zM233.6 657.1h3.9v2.2h-3.9zM269.8 657.1h3.9v2.2h-3.9zM208.3 659h3.9v2.2h-3.9zM287.9 659h3.9v2.2h-3.9zM316.8 659h3.9v2.2h-3.9zM251.7 661h3.9v2.2h-3.9zM233.6 663h3.9v2.2h-3.9zM186.6 665h3.9v2.2h-3.9zM201.1 665h3.9v2.2h-3.9zM204.7 668.9h3.9v2.2h-3.9zM193.8 670.9h3.9v2.2h-3.9zM179.4 674.8h3.9v2.2h-3.9zM211.9 676.8h3.9v2.2h-3.9zM316.8 676.8h3.9v2.2h-3.9zM193.8 678.8h3.9v2.2h-3.9zM255.3 678.8h3.9v2.2h-3.9zM262.5 678.8h3.9v2.2h-3.9zM284.2 678.8h3.9v2.2h-3.9zM302.3 678.8h3.9v2.2h-3.9zM266.2 680.7h3.9v2.2h-3.9zM298.7 682.7h3.9v2.2h-3.9zM309.6 682.7h3.9v2.2h-3.9zM222.8 688.6h3.9v2.2h-3.9zM262.5 692.6h3.9v2.2h-3.9zM211.9 694.6h3.9v2.2h-3.9zM222.8 704.4h3.9v2.2h-3.9zM258.9 710.4h3.9v2.2h-3.9zM280.6 710.4h3.9v2.2h-3.9zM298.7 710.4h3.9v2.2h-3.9zM302.3 718.2h3.9v2.2h-3.9zM302.3 722.2h3.9v2.2h-3.9zM183 734h3.9v2.2h-3.9zM179.4 741.9h3.9v2.2h-3.9zM305.9 745.9h3.9v2.2h-3.9zM183 747.9h3.9v2.2h-3.9zM233.6 747.9h3.9v2.2h-3.9zM208.3 749.8h3.9v2.2h-3.9zM226.4 755.7h3.9v2.2h-3.9zM230 757.7h3.9v2.2h-3.9zM309.6 757.7h3.9v2.2h-3.9zM193.8 759.7h3.9v2.2h-3.9zM233.6 771.5h3.9v2.2h-3.9zM295.1 771.5h3.9v2.2h-3.9zM240.8 773.5h3.9v2.2h-3.9zM197.5 775.5h3.9v2.2h-3.9zM222.8 779.4h3.9v2.2h-3.9zM204.7 781.4h3.9v2.2h-3.9zM316.8 785.4h3.9v2.2h-3.9zM183 789.3h3.9v2.2h-3.9zM248.1 789.3h3.9v2.2h-3.9z" fill="#d2d8e4" shape-rendering="crispEdges"/>
<path d="M179.4 625.5h3.9v2.2h-3.9zM240.8 625.5h3.9v2.2h-3.9zM179.4 627.4h3.9v2.2h-3.9zM255.3 627.4h3.9v2.2h-3.9zM291.5 627.4h3.9v2.2h-3.9zM179.4 629.4h3.9v2.2h-3.9zM186.6 629.4h3.9v2.2h-3.9zM193.8 629.4h3.9v2.2h-3.9zM251.7 637.3h3.9v2.2h-3.9zM291.5 637.3h3.9v2.2h-3.9zM179.4 639.3h3.9v2.2h-3.9zM186.6 639.3h7.5v2.2h-7.5zM215.5 639.3h3.9v2.2h-3.9zM295.1 641.3h3.9v2.2h-3.9zM190.2 647.2h3.9v2.2h-3.9zM295.1 647.2h3.9v2.2h-3.9zM179.4 649.2h7.5v2.2h-7.5zM190.2 649.2h3.9v2.2h-3.9zM197.5 649.2h3.9v2.2h-3.9zM204.7 649.2h3.9v2.2h-3.9zM215.5 649.2h3.9v2.2h-3.9zM114.3 657.1h3.9v2.2h-3.9zM125.1 661h3.9v2.2h-3.9zM117.9 663h3.9v2.2h-3.9zM143.2 663h3.9v2.2h-3.9zM154.1 663h3.9v2.2h-3.9zM103.4 665h3.9v2.2h-3.9zM110.7 665h3.9v2.2h-3.9zM139.6 665h3.9v2.2h-3.9zM164.9 665h3.9v2.2h-3.9zM99.8 666.9h3.9v2.2h-3.9zM110.7 666.9h3.9v2.2h-3.9zM146.8 666.9h3.9v2.2h-3.9zM161.3 666.9h3.9v2.2h-3.9zM168.5 666.9h3.9v2.2h-3.9zM287.9 670.9h3.9v2.2h-3.9zM114.3 672.8h3.9v2.2h-3.9zM136 672.8h7.5v2.2h-7.5zM114.3 674.8h3.9v2.2h-3.9zM136 674.8h3.9v2.2h-3.9zM154.1 674.8h3.9v2.2h-3.9zM287.9 674.8h3.9v2.2h-3.9zM132.4 680.7h3.9v2.2h-3.9zM128.7 682.7h3.9v2.2h-3.9zM143.2 682.7h7.5v2.2h-7.5zM154.1 682.7h3.9v2.2h-3.9zM161.3 682.7h3.9v2.2h-3.9zM125.1 684.7h3.9v2.2h-3.9zM164.9 684.7h3.9v2.2h-3.9zM117.9 688.6h3.9v2.2h-3.9zM99.8 692.6h3.9v2.2h-3.9zM128.7 692.6h3.9v2.2h-3.9zM146.8 692.6h3.9v2.2h-3.9zM154.1 692.6h3.9v2.2h-3.9zM175.8 692.6h3.9v2.2h-3.9zM103.4 694.6h7.5v2.2h-7.5zM125.1 694.6h3.9v2.2h-3.9zM154.1 694.6h7.5v2.2h-7.5zM114.3 696.5h3.9v2.2h-3.9zM157.7 696.5h3.9v2.2h-3.9zM172.1 696.5h3.9v2.2h-3.9zM107 698.5h3.9v2.2h-3.9zM164.9 700.5h3.9v2.2h-3.9zM114.3 702.5h7.5v2.2h-7.5zM128.7 702.5h3.9v2.2h-3.9zM136 702.5h7.5v2.2h-7.5zM157.7 702.5h7.5v2.2h-7.5zM179.4 702.5h3.9v2.2h-3.9zM132.4 704.4h3.9v2.2h-3.9zM244.5 704.4h3.9v2.2h-3.9zM96.2 706.4h18.3v2.2h-18.3zM150.4 706.4h3.9v2.2h-3.9zM233.6 706.4h3.9v2.2h-3.9zM139.6 708.4h3.9v2.2h-3.9zM175.8 708.4h3.9v2.2h-3.9zM298.7 708.4h3.9v2.2h-3.9zM139.6 710.4h3.9v2.2h-3.9zM168.5 710.4h3.9v2.2h-3.9zM222.8 710.4h3.9v2.2h-3.9zM248.1 710.4h3.9v2.2h-3.9zM117.9 712.3h3.9v2.2h-3.9zM183 712.3h3.9v2.2h-3.9zM96.2 714.3h3.9v2.2h-3.9zM103.4 714.3h3.9v2.2h-3.9zM132.4 714.3h3.9v2.2h-3.9zM233.6 714.3h3.9v2.2h-3.9zM110.7 716.3h3.9v2.2h-3.9zM143.2 716.3h3.9v2.2h-3.9zM211.9 716.3h3.9v2.2h-3.9zM103.4 718.2h3.9v2.2h-3.9zM117.9 718.2h3.9v2.2h-3.9zM125.1 718.2h3.9v2.2h-3.9zM146.8 718.2h3.9v2.2h-3.9zM164.9 718.2h3.9v2.2h-3.9zM175.8 718.2h3.9v2.2h-3.9zM204.7 718.2h3.9v2.2h-3.9zM219.1 718.2h3.9v2.2h-3.9zM125.1 720.2h3.9v2.2h-3.9zM179.4 720.2h3.9v2.2h-3.9zM157.7 722.2h7.5v2.2h-7.5zM172.1 722.2h3.9v2.2h-3.9zM96.2 724.2h3.9v2.2h-3.9zM121.5 724.2h3.9v2.2h-3.9zM146.8 724.2h3.9v2.2h-3.9zM172.1 724.2h3.9v2.2h-3.9zM193.8 724.2h3.9v2.2h-3.9zM201.1 726.1h3.9v2.2h-3.9zM230 726.1h3.9v2.2h-3.9zM132.4 728.1h3.9v2.2h-3.9zM154.1 728.1h3.9v2.2h-3.9zM164.9 728.1h7.5v2.2h-7.5zM240.8 728.1h3.9v2.2h-3.9zM309.6 728.1h3.9v2.2h-3.9zM316.8 728.1h3.9v2.2h-3.9zM96.2 730.1h3.9v2.2h-3.9zM175.8 730.1h3.9v2.2h-3.9zM222.8 730.1h3.9v2.2h-3.9zM230 734h3.9v2.2h-3.9zM99.8 736h3.9v2.2h-3.9zM107 736h3.9v2.2h-3.9zM117.9 736h3.9v2.2h-3.9zM125.1 736h3.9v2.2h-3.9zM136 736h3.9v2.2h-3.9zM161.3 736h7.5v2.2h-7.5zM186.6 736h3.9v2.2h-3.9zM136 738h3.9v2.2h-3.9zM154.1 738h3.9v2.2h-3.9zM168.5 738h7.5v2.2h-7.5zM99.8 740h3.9v2.2h-3.9zM114.3 740h3.9v2.2h-3.9zM128.7 740h3.9v2.2h-3.9zM136 740h7.5v2.2h-7.5zM154.1 740h3.9v2.2h-3.9zM161.3 740h3.9v2.2h-3.9zM183 740h3.9v2.2h-3.9zM193.8 740h3.9v2.2h-3.9zM99.8 741.9h3.9v2.2h-3.9zM121.5 741.9h7.5v2.2h-7.5zM146.8 741.9h3.9v2.2h-3.9zM172.1 741.9h3.9v2.2h-3.9zM233.6 741.9h7.5v2.2h-7.5zM107 743.9h7.5v2.2h-7.5zM168.5 743.9h3.9v2.2h-3.9zM193.8 743.9h3.9v2.2h-3.9zM226.4 743.9h3.9v2.2h-3.9zM240.8 743.9h3.9v2.2h-3.9zM96.2 745.9h11.1v2.2h-11.1zM132.4 745.9h7.5v2.2h-7.5zM150.4 745.9h3.9v2.2h-3.9zM157.7 745.9h7.5v2.2h-7.5zM183 745.9h3.9v2.2h-3.9zM204.7 745.9h3.9v2.2h-3.9zM117.9 749.8h3.9v2.2h-3.9zM99.8 751.8h3.9v2.2h-3.9zM121.5 751.8h3.9v2.2h-3.9zM143.2 751.8h3.9v2.2h-3.9zM150.4 751.8h3.9v2.2h-3.9zM211.9 751.8h3.9v2.2h-3.9zM136 755.7h3.9v2.2h-3.9zM154.1 755.7h7.5v2.2h-7.5zM175.8 755.7h3.9v2.2h-3.9zM96.2 757.7h3.9v2.2h-3.9zM103.4 757.7h3.9v2.2h-3.9zM157.7 757.7h3.9v2.2h-3.9zM175.8 757.7h3.9v2.2h-3.9zM99.8 759.7h3.9v2.2h-3.9zM150.4 759.7h3.9v2.2h-3.9zM172.1 759.7h7.5v2.2h-7.5zM103.4 761.7h3.9v2.2h-3.9zM110.7 761.7h3.9v2.2h-3.9zM132.4 761.7h3.9v2.2h-3.9zM143.2 761.7h3.9v2.2h-3.9zM154.1 761.7h3.9v2.2h-3.9zM99.8 763.6h3.9v2.2h-3.9zM107 763.6h3.9v2.2h-3.9zM121.5 763.6h3.9v2.2h-3.9zM146.8 763.6h3.9v2.2h-3.9zM161.3 763.6h3.9v2.2h-3.9zM132.4 765.6h3.9v2.2h-3.9zM161.3 765.6h3.9v2.2h-3.9zM172.1 765.6h3.9v2.2h-3.9zM117.9 767.6h3.9v2.2h-3.9zM128.7 767.6h7.5v2.2h-7.5zM146.8 767.6h3.9v2.2h-3.9zM168.5 767.6h3.9v2.2h-3.9zM103.4 769.6h3.9v2.2h-3.9zM110.7 769.6h11.1v2.2h-11.1zM136 769.6h3.9v2.2h-3.9zM161.3 769.6h3.9v2.2h-3.9zM172.1 773.5h3.9v2.2h-3.9zM103.4 775.5h3.9v2.2h-3.9zM110.7 775.5h3.9v2.2h-3.9zM128.7 775.5h3.9v2.2h-3.9zM143.2 775.5h3.9v2.2h-3.9zM150.4 775.5h3.9v2.2h-3.9zM121.5 777.5h3.9v2.2h-3.9zM128.7 777.5h3.9v2.2h-3.9zM139.6 777.5h3.9v2.2h-3.9zM157.7 777.5h3.9v2.2h-3.9zM136 779.4h3.9v2.2h-3.9zM146.8 781.4h3.9v2.2h-3.9zM99.8 783.4h3.9v2.2h-3.9zM157.7 783.4h3.9v2.2h-3.9zM172.1 783.4h3.9v2.2h-3.9zM110.7 785.4h3.9v2.2h-3.9zM121.5 785.4h3.9v2.2h-3.9zM132.4 785.4h3.9v2.2h-3.9zM143.2 785.4h3.9v2.2h-3.9zM125.1 787.3h3.9v2.2h-3.9zM157.7 787.3h3.9v2.2h-3.9zM175.8 787.3h3.9v2.2h-3.9zM175.8 789.3h3.9v2.2h-3.9zM114.3 791.3h3.9v2.2h-3.9zM132.4 791.3h3.9v2.2h-3.9zM150.4 791.3h3.9v2.2h-3.9zM201.1 793.3h3.9v2.2h-3.9zM154.1 795.2h3.9v2.2h-3.9z" fill="#f0ccc0" shape-rendering="crispEdges"/>
<path d="M190.2 625.5h3.9v2.2h-3.9zM211.9 625.5h3.9v2.2h-3.9zM190.2 627.4h3.9v2.2h-3.9zM201.1 627.4h3.9v2.2h-3.9zM298.7 627.4h3.9v2.2h-3.9zM190.2 631.4h3.9v2.2h-3.9zM208.3 633.4h7.5v2.2h-7.5zM258.9 633.4h7.5v2.2h-7.5zM190.2 635.3h3.9v2.2h-3.9zM313.2 639.3h3.9v2.2h-3.9zM179.4 643.2h3.9v2.2h-3.9zM183 645.2h3.9v2.2h-3.9zM309.6 645.2h3.9v2.2h-3.9zM183 647.2h3.9v2.2h-3.9zM215.5 647.2h3.9v2.2h-3.9zM298.7 647.2h3.9v2.2h-3.9zM316.8 647.2h3.9v2.2h-3.9zM208.3 651.1h3.9v2.2h-3.9zM204.7 655.1h3.9v2.2h-3.9zM128.7 657.1h3.9v2.2h-3.9zM96.2 659h3.9v2.2h-3.9zM103.4 666.9h3.9v2.2h-3.9zM164.9 666.9h3.9v2.2h-3.9zM172.1 666.9h3.9v2.2h-3.9zM262.5 670.9h3.9v2.2h-3.9zM258.9 672.8h3.9v2.2h-3.9zM280.6 674.8h3.9v2.2h-3.9zM157.7 684.7h3.9v2.2h-3.9zM316.8 694.6h3.9v2.2h-3.9zM150.4 702.5h3.9v2.2h-3.9zM291.5 704.4h7.5v2.2h-7.5zM215.5 706.4h3.9v2.2h-3.9zM291.5 706.4h3.9v2.2h-3.9zM99.8 720.2h3.9v2.2h-3.9zM154.1 722.2h3.9v2.2h-3.9zM168.5 722.2h3.9v2.2h-3.9zM316.8 722.2h3.9v2.2h-3.9zM190.2 724.2h3.9v2.2h-3.9zM96.2 726.1h3.9v2.2h-3.9zM164.9 726.1h3.9v2.2h-3.9zM175.8 726.1h3.9v2.2h-3.9zM222.8 726.1h3.9v2.2h-3.9zM237.2 726.1h3.9v2.2h-3.9zM237.2 736h3.9v2.2h-3.9zM175.8 741.9h3.9v2.2h-3.9zM219.1 741.9h3.9v2.2h-3.9zM157.7 749.8h3.9v2.2h-3.9zM161.3 757.7h3.9v2.2h-3.9zM143.2 759.7h3.9v2.2h-3.9zM125.1 769.6h3.9v2.2h-3.9zM107 771.5h3.9v2.2h-3.9zM117.9 771.5h3.9v2.2h-3.9zM139.6 771.5h3.9v2.2h-3.9zM175.8 771.5h3.9v2.2h-3.9zM107 775.5h3.9v2.2h-3.9zM161.3 775.5h3.9v2.2h-3.9zM298.7 779.4h3.9v2.2h-3.9zM117.9 781.4h3.9v2.2h-3.9zM161.3 781.4h3.9v2.2h-3.9zM168.5 781.4h3.9v2.2h-3.9zM99.8 787.3h3.9v2.2h-3.9zM121.5 787.3h3.9v2.2h-3.9zM136 787.3h3.9v2.2h-3.9zM143.2 787.3h3.9v2.2h-3.9zM110.7 791.3h3.9v2.2h-3.9z" fill="#f6c0ae" shape-rendering="crispEdges"/>
<path d="M193.8 625.5h3.9v2.2h-3.9zM248.1 625.5h3.9v2.2h-3.9zM183 627.4h3.9v2.2h-3.9zM208.3 629.4h3.9v2.2h-3.9zM251.7 629.4h3.9v2.2h-3.9zM295.1 629.4h3.9v2.2h-3.9zM208.3 631.4h3.9v2.2h-3.9zM251.7 635.3h3.9v2.2h-3.9zM183 641.3h3.9v2.2h-3.9zM190.2 643.2h3.9v2.2h-3.9zM204.7 643.2h3.9v2.2h-3.9zM186.6 649.2h3.9v2.2h-3.9zM190.2 653.1h3.9v2.2h-3.9zM197.5 653.1h3.9v2.2h-3.9zM208.3 653.1h7.5v2.2h-7.5zM197.5 655.1h3.9v2.2h-3.9zM121.5 657.1h3.9v2.2h-3.9zM172.1 665h3.9v2.2h-3.9zM107 666.9h3.9v2.2h-3.9zM277 670.9h3.9v2.2h-3.9zM175.8 672.8h3.9v2.2h-3.9zM132.4 678.8h3.9v2.2h-3.9zM154.1 678.8h3.9v2.2h-3.9zM121.5 684.7h3.9v2.2h-3.9zM132.4 684.7h3.9v2.2h-3.9zM117.9 692.6h3.9v2.2h-3.9zM139.6 692.6h3.9v2.2h-3.9zM128.7 694.6h3.9v2.2h-3.9zM110.7 698.5h3.9v2.2h-3.9zM157.7 698.5h3.9v2.2h-3.9zM139.6 706.4h3.9v2.2h-3.9zM175.8 706.4h3.9v2.2h-3.9zM295.1 708.4h3.9v2.2h-3.9zM117.9 710.4h3.9v2.2h-3.9zM240.8 710.4h7.5v2.2h-7.5zM172.1 718.2h3.9v2.2h-3.9zM183 718.2h3.9v2.2h-3.9zM114.3 720.2h3.9v2.2h-3.9zM154.1 720.2h3.9v2.2h-3.9zM161.3 720.2h3.9v2.2h-3.9zM121.5 722.2h3.9v2.2h-3.9zM132.4 722.2h3.9v2.2h-3.9zM175.8 722.2h3.9v2.2h-3.9zM316.8 724.2h3.9v2.2h-3.9zM103.4 726.1h3.9v2.2h-3.9zM128.7 726.1h3.9v2.2h-3.9zM154.1 726.1h3.9v2.2h-3.9zM99.8 728.1h3.9v2.2h-3.9zM233.6 730.1h3.9v2.2h-3.9zM143.2 740h3.9v2.2h-3.9zM186.6 740h3.9v2.2h-3.9zM103.4 741.9h7.5v2.2h-7.5zM143.2 741.9h3.9v2.2h-3.9zM164.9 741.9h3.9v2.2h-3.9zM99.8 743.9h3.9v2.2h-3.9zM136 749.8h3.9v2.2h-3.9zM164.9 749.8h3.9v2.2h-3.9zM172.1 749.8h3.9v2.2h-3.9zM128.7 751.8h3.9v2.2h-3.9zM136 757.7h3.9v2.2h-3.9zM121.5 759.7h3.9v2.2h-3.9zM128.7 759.7h7.5v2.2h-7.5zM121.5 767.6h3.9v2.2h-3.9zM121.5 771.5h3.9v2.2h-3.9zM161.3 771.5h7.5v2.2h-7.5zM175.8 775.5h3.9v2.2h-3.9zM143.2 779.4h3.9v2.2h-3.9zM291.5 779.4h3.9v2.2h-3.9zM99.8 781.4h3.9v2.2h-3.9zM150.4 781.4h3.9v2.2h-3.9zM96.2 783.4h3.9v2.2h-3.9zM107 783.4h3.9v2.2h-3.9zM157.7 785.4h3.9v2.2h-3.9zM110.7 787.3h3.9v2.2h-3.9zM117.9 787.3h3.9v2.2h-3.9zM132.4 787.3h3.9v2.2h-3.9zM146.8 791.3h3.9v2.2h-3.9z" fill="#f0c6b4" shape-rendering="crispEdges"/>
<path d="M204.7 625.5h3.9v2.2h-3.9zM226.4 625.5h3.9v2.2h-3.9zM190.2 629.4h3.9v2.2h-3.9zM215.5 629.4h3.9v2.2h-3.9zM211.9 635.3h3.9v2.2h-3.9zM193.8 639.3h3.9v2.2h-3.9zM110.7 661h3.9v2.2h-3.9zM107 663h3.9v2.2h-3.9zM146.8 663h7.5v2.2h-7.5zM157.7 665h3.9v2.2h-3.9zM114.3 666.9h3.9v2.2h-3.9zM128.7 666.9h3.9v2.2h-3.9zM107 672.8h3.9v2.2h-3.9zM287.9 672.8h3.9v2.2h-3.9zM146.8 674.8h3.9v2.2h-3.9zM110.7 688.6h3.9v2.2h-3.9zM143.2 694.6h3.9v2.2h-3.9zM154.1 696.5h3.9v2.2h-3.9zM114.3 698.5h3.9v2.2h-3.9zM125.1 698.5h3.9v2.2h-3.9zM136 698.5h3.9v2.2h-3.9zM150.4 698.5h3.9v2.2h-3.9zM164.9 698.5h3.9v2.2h-3.9zM136 700.5h3.9v2.2h-3.9zM150.4 700.5h3.9v2.2h-3.9zM99.8 702.5h3.9v2.2h-3.9zM110.7 702.5h3.9v2.2h-3.9zM136 706.4h3.9v2.2h-3.9zM204.7 706.4h3.9v2.2h-3.9zM211.9 706.4h3.9v2.2h-3.9zM237.2 706.4h3.9v2.2h-3.9zM107 710.4h3.9v2.2h-3.9zM139.6 712.3h3.9v2.2h-3.9zM99.8 714.3h3.9v2.2h-3.9zM136 714.3h3.9v2.2h-3.9zM172.1 714.3h3.9v2.2h-3.9zM128.7 718.2h3.9v2.2h-3.9zM190.2 718.2h3.9v2.2h-3.9zM175.8 720.2h3.9v2.2h-3.9zM183 720.2h3.9v2.2h-3.9zM136 724.2h3.9v2.2h-3.9zM103.4 728.1h3.9v2.2h-3.9zM164.9 732.1h3.9v2.2h-3.9zM204.7 732.1h3.9v2.2h-3.9zM128.7 736h3.9v2.2h-3.9zM103.4 738h3.9v2.2h-3.9zM143.2 738h3.9v2.2h-3.9zM248.1 740h3.9v2.2h-3.9zM117.9 741.9h3.9v2.2h-3.9zM146.8 743.9h3.9v2.2h-3.9zM215.5 743.9h3.9v2.2h-3.9zM230 743.9h3.9v2.2h-3.9zM121.5 745.9h3.9v2.2h-3.9zM99.8 749.8h3.9v2.2h-3.9zM168.5 749.8h3.9v2.2h-3.9zM175.8 749.8h3.9v2.2h-3.9zM237.2 749.8h3.9v2.2h-3.9zM125.1 751.8h3.9v2.2h-3.9zM136 751.8h3.9v2.2h-3.9zM154.1 751.8h3.9v2.2h-3.9zM164.9 751.8h7.5v2.2h-7.5zM143.2 755.7h7.5v2.2h-7.5zM99.8 757.7h3.9v2.2h-3.9zM146.8 757.7h3.9v2.2h-3.9zM96.2 761.7h3.9v2.2h-3.9zM139.6 761.7h3.9v2.2h-3.9zM161.3 761.7h3.9v2.2h-3.9zM110.7 763.6h3.9v2.2h-3.9zM146.8 765.6h3.9v2.2h-3.9zM96.2 767.6h3.9v2.2h-3.9zM96.2 769.6h3.9v2.2h-3.9zM132.4 769.6h3.9v2.2h-3.9zM157.7 769.6h3.9v2.2h-3.9zM164.9 769.6h3.9v2.2h-3.9zM172.1 769.6h3.9v2.2h-3.9zM107 773.5h3.9v2.2h-3.9zM157.7 775.5h3.9v2.2h-3.9zM103.4 777.5h3.9v2.2h-3.9zM139.6 785.4h3.9v2.2h-3.9zM161.3 785.4h3.9v2.2h-3.9zM99.8 791.3h3.9v2.2h-3.9zM128.7 791.3h3.9v2.2h-3.9zM154.1 791.3h3.9v2.2h-3.9zM175.8 791.3h3.9v2.2h-3.9z" fill="#f0d2c0" shape-rendering="crispEdges"/>
<path d="M255.3 625.5h3.9v2.2h-3.9zM186.6 635.3h3.9v2.2h-3.9zM298.7 645.2h3.9v2.2h-3.9zM298.7 704.4h3.9v2.2h-3.9zM240.8 726.1h3.9v2.2h-3.9z" fill="#f0a890" shape-rendering="crispEdges"/>
<path d="M258.9 625.5h3.9v2.2h-3.9zM291.5 633.4h3.9v2.2h-3.9zM179.4 635.3h3.9v2.2h-3.9zM201.1 651.1h3.9v2.2h-3.9zM211.9 655.1h3.9v2.2h-3.9zM201.1 718.2h3.9v2.2h-3.9z" fill="#f6b4a2" shape-rendering="crispEdges"/>
<path d="M269.8 625.5h3.9v2.2h-3.9zM226.4 631.4h3.9v2.2h-3.9zM244.5 631.4h3.9v2.2h-3.9zM313.2 633.4h3.9v2.2h-3.9zM150.4 655.1h3.9v2.2h-3.9zM179.4 663h3.9v2.2h-3.9zM305.9 663h3.9v2.2h-3.9zM295.1 665h3.9v2.2h-3.9zM219.1 666.9h3.9v2.2h-3.9zM255.3 666.9h3.9v2.2h-3.9zM262.5 666.9h3.9v2.2h-3.9zM273.4 666.9h3.9v2.2h-3.9zM291.5 666.9h3.9v2.2h-3.9zM146.8 670.9h3.9v2.2h-3.9zM244.5 672.8h3.9v2.2h-3.9zM146.8 676.8h3.9v2.2h-3.9zM157.7 676.8h3.9v2.2h-3.9zM183 676.8h7.5v2.2h-7.5zM226.4 676.8h3.9v2.2h-3.9zM204.7 678.8h3.9v2.2h-3.9zM190.2 680.7h3.9v2.2h-3.9zM204.7 680.7h3.9v2.2h-3.9zM237.2 682.7h3.9v2.2h-3.9zM316.8 682.7h3.9v2.2h-3.9zM179.4 684.7h7.5v2.2h-7.5zM233.6 684.7h3.9v2.2h-3.9zM244.5 684.7h7.5v2.2h-7.5zM313.2 684.7h3.9v2.2h-3.9zM125.1 686.7h3.9v2.2h-3.9zM172.1 686.7h3.9v2.2h-3.9zM251.7 686.7h3.9v2.2h-3.9zM183 688.6h3.9v2.2h-3.9zM208.3 688.6h3.9v2.2h-3.9zM219.1 688.6h3.9v2.2h-3.9zM186.6 692.6h3.9v2.2h-3.9zM193.8 692.6h3.9v2.2h-3.9zM201.1 692.6h3.9v2.2h-3.9zM251.7 692.6h3.9v2.2h-3.9zM269.8 692.6h7.5v2.2h-7.5zM284.2 692.6h3.9v2.2h-3.9zM197.5 694.6h3.9v2.2h-3.9zM309.6 696.5h3.9v2.2h-3.9zM179.4 698.5h3.9v2.2h-3.9zM186.6 698.5h3.9v2.2h-3.9zM222.8 698.5h3.9v2.2h-3.9zM240.8 698.5h3.9v2.2h-3.9zM197.5 700.5h3.9v2.2h-3.9zM258.9 700.5h3.9v2.2h-3.9zM248.1 702.5h3.9v2.2h-3.9zM175.8 704.4h3.9v2.2h-3.9zM201.1 704.4h3.9v2.2h-3.9zM215.5 704.4h3.9v2.2h-3.9zM226.4 704.4h3.9v2.2h-3.9zM197.5 708.4h3.9v2.2h-3.9zM186.6 710.4h3.9v2.2h-3.9zM193.8 710.4h3.9v2.2h-3.9zM179.4 714.3h3.9v2.2h-3.9zM208.3 714.3h3.9v2.2h-3.9zM226.4 714.3h3.9v2.2h-3.9zM222.8 724.2h3.9v2.2h-3.9zM190.2 728.1h3.9v2.2h-3.9zM226.4 730.1h3.9v2.2h-3.9zM128.7 732.1h3.9v2.2h-3.9zM215.5 732.1h3.9v2.2h-3.9zM248.1 732.1h3.9v2.2h-3.9zM117.9 734h3.9v2.2h-3.9zM150.4 734h3.9v2.2h-3.9zM190.2 734h7.5v2.2h-7.5zM208.3 734h3.9v2.2h-3.9zM291.5 734h3.9v2.2h-3.9zM183 738h3.9v2.2h-3.9zM309.6 738h3.9v2.2h-3.9zM204.7 740h3.9v2.2h-3.9zM190.2 741.9h3.9v2.2h-3.9zM211.9 741.9h3.9v2.2h-3.9zM208.3 745.9h3.9v2.2h-3.9zM99.8 747.9h3.9v2.2h-3.9zM125.1 747.9h3.9v2.2h-3.9zM201.1 747.9h7.5v2.2h-7.5zM193.8 749.8h3.9v2.2h-3.9zM197.5 753.8h3.9v2.2h-3.9zM215.5 753.8h3.9v2.2h-3.9zM237.2 753.8h3.9v2.2h-3.9zM244.5 753.8h7.5v2.2h-7.5zM197.5 755.7h7.5v2.2h-7.5zM248.1 763.6h3.9v2.2h-3.9zM248.1 765.6h3.9v2.2h-3.9zM309.6 765.6h3.9v2.2h-3.9zM240.8 767.6h3.9v2.2h-3.9zM316.8 775.5h3.9v2.2h-3.9zM179.4 777.5h3.9v2.2h-3.9zM190.2 777.5h3.9v2.2h-3.9zM248.1 777.5h3.9v2.2h-3.9zM183 779.4h3.9v2.2h-3.9zM197.5 779.4h3.9v2.2h-3.9zM233.6 779.4h3.9v2.2h-3.9zM302.3 781.4h3.9v2.2h-3.9zM233.6 787.3h3.9v2.2h-3.9zM262.5 787.3h7.5v2.2h-7.5zM255.3 789.3h3.9v2.2h-3.9zM266.2 789.3h3.9v2.2h-3.9zM287.9 789.3h3.9v2.2h-3.9zM258.9 791.3h3.9v2.2h-3.9zM269.8 791.3h3.9v2.2h-3.9zM284.2 791.3h7.5v2.2h-7.5zM251.7 793.3h3.9v2.2h-3.9zM258.9 793.3h3.9v2.2h-3.9zM269.8 793.3h3.9v2.2h-3.9zM284.2 793.3h3.9v2.2h-3.9z" fill="#deded8" shape-rendering="crispEdges"/>
<path d="M313.2 625.5h3.9v2.2h-3.9zM309.6 631.4h3.9v2.2h-3.9zM313.2 635.3h3.9v2.2h-3.9zM154.1 655.1h3.9v2.2h-3.9zM183 659h3.9v2.2h-3.9zM295.1 659h3.9v2.2h-3.9zM316.8 665h3.9v2.2h-3.9zM183 666.9h3.9v2.2h-3.9zM201.1 666.9h3.9v2.2h-3.9zM208.3 666.9h3.9v2.2h-3.9zM233.6 666.9h3.9v2.2h-3.9zM248.1 666.9h3.9v2.2h-3.9zM121.5 668.9h3.9v2.2h-3.9zM201.1 676.8h3.9v2.2h-3.9zM313.2 680.7h3.9v2.2h-3.9zM291.5 682.7h3.9v2.2h-3.9zM211.9 684.7h7.5v2.2h-7.5zM110.7 686.7h3.9v2.2h-3.9zM136 686.7h3.9v2.2h-3.9zM269.8 686.7h3.9v2.2h-3.9zM179.4 688.6h3.9v2.2h-3.9zM226.4 692.6h3.9v2.2h-3.9zM302.3 692.6h3.9v2.2h-3.9zM183 694.6h3.9v2.2h-3.9zM258.9 698.5h3.9v2.2h-3.9zM291.5 698.5h3.9v2.2h-3.9zM190.2 700.5h3.9v2.2h-3.9zM186.6 702.5h3.9v2.2h-3.9zM222.8 702.5h3.9v2.2h-3.9zM230 710.4h3.9v2.2h-3.9zM183 714.3h3.9v2.2h-3.9zM154.1 716.3h3.9v2.2h-3.9zM291.5 718.2h3.9v2.2h-3.9zM193.8 720.2h3.9v2.2h-3.9zM244.5 724.2h3.9v2.2h-3.9zM183 726.1h3.9v2.2h-3.9zM114.3 734h3.9v2.2h-3.9zM219.1 734h3.9v2.2h-3.9zM316.8 734h3.9v2.2h-3.9zM237.2 740h3.9v2.2h-3.9zM175.8 747.9h3.9v2.2h-3.9zM208.3 747.9h3.9v2.2h-3.9zM244.5 747.9h7.5v2.2h-7.5zM190.2 749.8h3.9v2.2h-3.9zM96.2 753.8h3.9v2.2h-3.9zM240.8 753.8h3.9v2.2h-3.9zM240.8 763.6h3.9v2.2h-3.9zM316.8 765.6h3.9v2.2h-3.9zM237.2 767.6h3.9v2.2h-3.9zM183 771.5h3.9v2.2h-3.9zM201.1 771.5h3.9v2.2h-3.9zM208.3 771.5h3.9v2.2h-3.9zM230 775.5h3.9v2.2h-3.9zM305.9 775.5h3.9v2.2h-3.9zM179.4 779.4h3.9v2.2h-3.9zM193.8 783.4h3.9v2.2h-3.9zM277 789.3h3.9v2.2h-3.9zM190.2 793.3h3.9v2.2h-3.9zM266.2 793.3h3.9v2.2h-3.9zM277 793.3h7.5v2.2h-7.5z" fill="#ded8d8" shape-rendering="crispEdges"/>
<path d="M172.1 627.4h3.9v2.2h-3.9zM172.1 631.4h3.9v2.2h-3.9zM117.9 633.4h3.9v2.2h-3.9zM128.7 633.4h3.9v2.2h-3.9zM284.2 637.3h3.9v2.2h-3.9zM99.8 651.1h3.9v2.2h-3.9zM309.6 651.1h3.9v2.2h-3.9zM179.4 657.1h3.9v2.2h-3.9zM244.5 668.9h3.9v2.2h-3.9zM277 696.5h3.9v2.2h-3.9zM219.1 759.7h3.9v2.2h-3.9zM215.5 767.6h3.9v2.2h-3.9zM302.3 769.6h3.9v2.2h-3.9zM233.6 777.5h3.9v2.2h-3.9zM201.1 791.3h3.9v2.2h-3.9zM237.2 795.2h3.9v2.2h-3.9z" fill="#d2d8f0" shape-rendering="crispEdges"/>
<path d="M197.5 627.4h3.9v2.2h-3.9zM179.4 631.4h3.9v2.2h-3.9zM298.7 631.4h3.9v2.2h-3.9zM251.7 633.4h3.9v2.2h-3.9zM215.5 635.3h3.9v2.2h-3.9zM179.4 641.3h3.9v2.2h-3.9zM183 643.2h3.9v2.2h-3.9zM211.9 645.2h3.9v2.2h-3.9zM201.1 647.2h3.9v2.2h-3.9zM211.9 647.2h3.9v2.2h-3.9zM215.5 653.1h3.9v2.2h-3.9zM183 655.1h3.9v2.2h-3.9zM114.3 659h3.9v2.2h-3.9zM125.1 666.9h3.9v2.2h-3.9zM251.7 670.9h3.9v2.2h-3.9zM284.2 672.8h3.9v2.2h-3.9zM114.3 678.8h3.9v2.2h-3.9zM121.5 678.8h3.9v2.2h-3.9zM157.7 678.8h7.5v2.2h-7.5zM99.8 684.7h3.9v2.2h-3.9zM175.8 694.6h3.9v2.2h-3.9zM161.3 706.4h3.9v2.2h-3.9zM186.6 706.4h3.9v2.2h-3.9zM219.1 708.4h3.9v2.2h-3.9zM197.5 712.3h3.9v2.2h-3.9zM110.7 720.2h3.9v2.2h-3.9zM132.4 720.2h3.9v2.2h-3.9zM164.9 720.2h3.9v2.2h-3.9zM96.2 722.2h3.9v2.2h-3.9zM309.6 722.2h3.9v2.2h-3.9zM110.7 726.1h7.5v2.2h-7.5zM128.7 741.9h3.9v2.2h-3.9zM168.5 741.9h3.9v2.2h-3.9zM96.2 743.9h3.9v2.2h-3.9zM136 743.9h3.9v2.2h-3.9zM114.3 749.8h3.9v2.2h-3.9zM132.4 751.8h3.9v2.2h-3.9zM107 759.7h3.9v2.2h-3.9zM161.3 759.7h3.9v2.2h-3.9zM110.7 771.5h3.9v2.2h-3.9zM136 771.5h3.9v2.2h-3.9zM291.5 777.5h3.9v2.2h-3.9zM150.4 783.4h3.9v2.2h-3.9zM168.5 785.4h3.9v2.2h-3.9zM161.3 793.3h3.9v2.2h-3.9zM172.1 793.3h7.5v2.2h-7.5z" fill="#f6c6ae" shape-rendering="crispEdges"/>
<path d="M262.5 627.4h3.9v2.2h-3.9zM255.3 631.4h3.9v2.2h-3.9zM179.4 637.3h3.9v2.2h-3.9zM208.3 637.3h3.9v2.2h-3.9zM96.2 661h3.9v2.2h-3.9zM99.8 665h3.9v2.2h-3.9zM161.3 665h3.9v2.2h-3.9zM96.2 668.9h3.9v2.2h-3.9zM103.4 668.9h3.9v2.2h-3.9zM125.1 668.9h3.9v2.2h-3.9zM150.4 668.9h3.9v2.2h-3.9zM154.1 670.9h3.9v2.2h-3.9zM172.1 670.9h3.9v2.2h-3.9zM103.4 672.8h3.9v2.2h-3.9zM143.2 672.8h3.9v2.2h-3.9zM110.7 674.8h3.9v2.2h-3.9zM117.9 674.8h3.9v2.2h-3.9zM143.2 674.8h3.9v2.2h-3.9zM172.1 674.8h3.9v2.2h-3.9zM99.8 680.7h3.9v2.2h-3.9zM107 680.7h3.9v2.2h-3.9zM125.1 680.7h3.9v2.2h-3.9zM143.2 680.7h3.9v2.2h-3.9zM132.4 686.7h3.9v2.2h-3.9zM168.5 686.7h3.9v2.2h-3.9zM175.8 686.7h3.9v2.2h-3.9zM114.3 688.6h3.9v2.2h-3.9zM103.4 690.6h7.5v2.2h-7.5zM146.8 690.6h3.9v2.2h-3.9zM154.1 690.6h3.9v2.2h-3.9zM168.5 690.6h3.9v2.2h-3.9zM103.4 692.6h3.9v2.2h-3.9zM150.4 692.6h3.9v2.2h-3.9zM168.5 692.6h3.9v2.2h-3.9zM110.7 696.5h3.9v2.2h-3.9zM117.9 696.5h3.9v2.2h-3.9zM139.6 696.5h3.9v2.2h-3.9zM99.8 698.5h3.9v2.2h-3.9zM128.7 698.5h3.9v2.2h-3.9zM175.8 698.5h3.9v2.2h-3.9zM143.2 702.5h3.9v2.2h-3.9zM197.5 702.5h3.9v2.2h-3.9zM219.1 702.5h3.9v2.2h-3.9zM226.4 702.5h3.9v2.2h-3.9zM136 704.4h3.9v2.2h-3.9zM157.7 704.4h3.9v2.2h-3.9zM183 704.4h3.9v2.2h-3.9zM197.5 704.4h3.9v2.2h-3.9zM208.3 704.4h3.9v2.2h-3.9zM219.1 704.4h3.9v2.2h-3.9zM125.1 706.4h3.9v2.2h-3.9zM197.5 706.4h3.9v2.2h-3.9zM244.5 706.4h3.9v2.2h-3.9zM161.3 708.4h3.9v2.2h-3.9zM240.8 708.4h3.9v2.2h-3.9zM248.1 708.4h3.9v2.2h-3.9zM110.7 710.4h3.9v2.2h-3.9zM121.5 710.4h3.9v2.2h-3.9zM211.9 710.4h3.9v2.2h-3.9zM121.5 712.3h3.9v2.2h-3.9zM157.7 712.3h3.9v2.2h-3.9zM179.4 712.3h3.9v2.2h-3.9zM186.6 712.3h7.5v2.2h-7.5zM230 712.3h3.9v2.2h-3.9zM240.8 712.3h3.9v2.2h-3.9zM132.4 716.3h3.9v2.2h-3.9zM150.4 716.3h3.9v2.2h-3.9zM157.7 716.3h3.9v2.2h-3.9zM190.2 716.3h3.9v2.2h-3.9zM215.5 716.3h3.9v2.2h-3.9zM168.5 718.2h3.9v2.2h-3.9zM237.2 718.2h3.9v2.2h-3.9zM201.1 720.2h3.9v2.2h-3.9zM193.8 722.2h3.9v2.2h-3.9zM201.1 722.2h7.5v2.2h-7.5zM244.5 722.2h3.9v2.2h-3.9zM132.4 724.2h3.9v2.2h-3.9zM211.9 726.1h3.9v2.2h-3.9zM226.4 726.1h3.9v2.2h-3.9zM96.2 728.1h3.9v2.2h-3.9zM128.7 728.1h3.9v2.2h-3.9zM136 728.1h3.9v2.2h-3.9zM215.5 728.1h3.9v2.2h-3.9zM237.2 728.1h3.9v2.2h-3.9zM121.5 730.1h3.9v2.2h-3.9zM143.2 730.1h3.9v2.2h-3.9zM154.1 730.1h3.9v2.2h-3.9zM164.9 730.1h3.9v2.2h-3.9zM110.7 732.1h3.9v2.2h-3.9zM125.1 732.1h3.9v2.2h-3.9zM175.8 732.1h3.9v2.2h-3.9zM190.2 732.1h3.9v2.2h-3.9zM201.1 732.1h3.9v2.2h-3.9zM99.8 734h3.9v2.2h-3.9zM107 734h3.9v2.2h-3.9zM132.4 734h3.9v2.2h-3.9zM211.9 734h3.9v2.2h-3.9zM226.4 736h3.9v2.2h-3.9zM193.8 738h3.9v2.2h-3.9zM132.4 740h3.9v2.2h-3.9zM157.7 740h3.9v2.2h-3.9zM172.1 740h3.9v2.2h-3.9zM197.5 740h3.9v2.2h-3.9zM233.6 740h3.9v2.2h-3.9zM244.5 741.9h7.5v2.2h-7.5zM186.6 743.9h3.9v2.2h-3.9zM237.2 743.9h3.9v2.2h-3.9zM175.8 745.9h3.9v2.2h-3.9zM201.1 745.9h3.9v2.2h-3.9zM121.5 747.9h3.9v2.2h-3.9zM168.5 747.9h3.9v2.2h-3.9zM197.5 751.8h7.5v2.2h-7.5zM208.3 751.8h3.9v2.2h-3.9zM107 753.8h3.9v2.2h-3.9zM136 753.8h3.9v2.2h-3.9zM150.4 753.8h7.5v2.2h-7.5zM175.8 753.8h3.9v2.2h-3.9zM99.8 755.7h7.5v2.2h-7.5zM110.7 755.7h3.9v2.2h-3.9zM164.9 757.7h3.9v2.2h-3.9zM150.4 761.7h3.9v2.2h-3.9zM117.9 763.6h3.9v2.2h-3.9zM175.8 763.6h3.9v2.2h-3.9zM103.4 765.6h3.9v2.2h-3.9zM114.3 765.6h3.9v2.2h-3.9zM121.5 765.6h3.9v2.2h-3.9zM150.4 765.6h7.5v2.2h-7.5zM164.9 765.6h7.5v2.2h-7.5zM99.8 767.6h3.9v2.2h-3.9zM128.7 769.6h3.9v2.2h-3.9zM168.5 769.6h3.9v2.2h-3.9zM99.8 773.5h3.9v2.2h-3.9zM125.1 773.5h3.9v2.2h-3.9zM143.2 773.5h3.9v2.2h-3.9zM164.9 773.5h3.9v2.2h-3.9zM248.1 775.5h3.9v2.2h-3.9zM146.8 777.5h3.9v2.2h-3.9zM107 779.4h3.9v2.2h-3.9zM114.3 779.4h3.9v2.2h-3.9zM154.1 779.4h3.9v2.2h-3.9zM161.3 779.4h3.9v2.2h-3.9zM114.3 785.4h3.9v2.2h-3.9zM164.9 785.4h3.9v2.2h-3.9zM183 787.3h3.9v2.2h-3.9zM110.7 789.3h3.9v2.2h-3.9zM150.4 789.3h3.9v2.2h-3.9zM168.5 789.3h3.9v2.2h-3.9zM121.5 791.3h3.9v2.2h-3.9zM143.2 795.2h3.9v2.2h-3.9z" fill="#ead2cc" shape-rendering="crispEdges"/>
<path d="M302.3 627.4h3.9v2.2h-3.9zM150.4 637.3h3.9v2.2h-3.9zM96.2 641.3h3.9v2.2h-3.9zM125.1 641.3h3.9v2.2h-3.9zM316.8 712.3h3.9v2.2h-3.9zM215.5 757.7h3.9v2.2h-3.9zM219.1 785.4h3.9v2.2h-3.9zM295.1 795.2h3.9v2.2h-3.9z" fill="#a8c0f6" shape-rendering="crispEdges"/>
<path d="M302.3 629.4h3.9v2.2h-3.9zM255.3 641.3h3.9v2.2h-3.9zM277 641.3h3.9v2.2h-3.9zM287.9 647.2h3.9v2.2h-3.9zM143.2 653.1h3.9v2.2h-3.9zM154.1 653.1h3.9v2.2h-3.9zM298.7 791.3h3.9v2.2h-3.9zM186.6 795.2h3.9v2.2h-3.9z" fill="#9cbaf6" shape-rendering="crispEdges"/>
<path d="M305.9 629.4h3.9v2.2h-3.9zM110.7 641.3h3.9v2.2h-3.9zM154.1 641.3h3.9v2.2h-3.9zM161.3 641.3h3.9v2.2h-3.9z" fill="#96b4f6" shape-rendering="crispEdges"/>
<path d="M183 631.4h3.9v2.2h-3.9zM302.3 639.3h3.9v2.2h-3.9zM309.6 726.1h3.9v2.2h-3.9zM295.1 775.5h3.9v2.2h-3.9zM298.7 783.4h3.9v2.2h-3.9z" fill="#f0a284" shape-rendering="crispEdges"/>
<path d="M240.8 631.4h3.9v2.2h-3.9zM219.1 633.4h3.9v2.2h-3.9zM237.2 633.4h3.9v2.2h-3.9zM248.1 633.4h3.9v2.2h-3.9zM121.5 663h3.9v2.2h-3.9zM110.7 670.9h3.9v2.2h-3.9zM128.7 670.9h3.9v2.2h-3.9zM139.6 670.9h3.9v2.2h-3.9zM161.3 670.9h3.9v2.2h-3.9zM172.1 672.8h3.9v2.2h-3.9zM128.7 676.8h7.5v2.2h-7.5zM128.7 680.7h3.9v2.2h-3.9zM298.7 680.7h3.9v2.2h-3.9zM309.6 680.7h3.9v2.2h-3.9zM248.1 682.7h3.9v2.2h-3.9zM302.3 684.7h3.9v2.2h-3.9zM117.9 686.7h3.9v2.2h-3.9zM150.4 686.7h7.5v2.2h-7.5zM121.5 688.6h3.9v2.2h-3.9zM132.4 688.6h3.9v2.2h-3.9zM161.3 688.6h3.9v2.2h-3.9zM96.2 690.6h3.9v2.2h-3.9zM143.2 690.6h3.9v2.2h-3.9zM150.4 690.6h3.9v2.2h-3.9zM161.3 690.6h3.9v2.2h-3.9zM175.8 690.6h3.9v2.2h-3.9zM136 694.6h3.9v2.2h-3.9zM132.4 696.5h3.9v2.2h-3.9zM284.2 698.5h3.9v2.2h-3.9zM125.1 700.5h3.9v2.2h-3.9zM117.9 704.4h3.9v2.2h-3.9zM154.1 704.4h3.9v2.2h-3.9zM168.5 704.4h3.9v2.2h-3.9zM132.4 708.4h3.9v2.2h-3.9zM164.9 708.4h3.9v2.2h-3.9zM193.8 708.4h3.9v2.2h-3.9zM230 708.4h3.9v2.2h-3.9zM132.4 710.4h3.9v2.2h-3.9zM99.8 712.3h3.9v2.2h-3.9zM143.2 712.3h3.9v2.2h-3.9zM186.6 716.3h3.9v2.2h-3.9zM183 722.2h3.9v2.2h-3.9zM215.5 724.2h7.5v2.2h-7.5zM240.8 724.2h3.9v2.2h-3.9zM117.9 728.1h3.9v2.2h-3.9zM248.1 728.1h3.9v2.2h-3.9zM219.1 730.1h3.9v2.2h-3.9zM237.2 730.1h3.9v2.2h-3.9zM248.1 730.1h3.9v2.2h-3.9zM96.2 732.1h3.9v2.2h-3.9zM132.4 732.1h7.5v2.2h-7.5zM146.8 732.1h3.9v2.2h-3.9zM183 732.1h3.9v2.2h-3.9zM197.5 732.1h3.9v2.2h-3.9zM211.9 732.1h3.9v2.2h-3.9zM96.2 734h3.9v2.2h-3.9zM186.6 734h3.9v2.2h-3.9zM215.5 734h3.9v2.2h-3.9zM226.4 734h3.9v2.2h-3.9zM154.1 736h3.9v2.2h-3.9zM201.1 738h3.9v2.2h-3.9zM208.3 738h3.9v2.2h-3.9zM215.5 738h3.9v2.2h-3.9zM237.2 738h3.9v2.2h-3.9zM190.2 740h3.9v2.2h-3.9zM201.1 740h3.9v2.2h-3.9zM215.5 740h3.9v2.2h-3.9zM244.5 740h3.9v2.2h-3.9zM222.8 741.9h3.9v2.2h-3.9zM201.1 743.9h3.9v2.2h-3.9zM208.3 743.9h3.9v2.2h-3.9zM219.1 743.9h3.9v2.2h-3.9zM248.1 743.9h3.9v2.2h-3.9zM215.5 745.9h3.9v2.2h-3.9zM230 745.9h3.9v2.2h-3.9zM107 747.9h3.9v2.2h-3.9zM117.9 747.9h3.9v2.2h-3.9zM128.7 747.9h3.9v2.2h-3.9zM157.7 747.9h7.5v2.2h-7.5zM172.1 747.9h3.9v2.2h-3.9zM237.2 747.9h3.9v2.2h-3.9zM201.1 749.8h3.9v2.2h-3.9zM240.8 751.8h3.9v2.2h-3.9zM132.4 753.8h3.9v2.2h-3.9zM146.8 753.8h3.9v2.2h-3.9zM132.4 755.7h3.9v2.2h-3.9zM150.4 755.7h3.9v2.2h-3.9zM186.6 759.7h3.9v2.2h-3.9zM117.9 761.7h3.9v2.2h-3.9zM175.8 765.6h3.9v2.2h-3.9zM208.3 765.6h3.9v2.2h-3.9zM154.1 767.6h3.9v2.2h-3.9zM237.2 771.5h3.9v2.2h-3.9zM107 777.5h3.9v2.2h-3.9zM96.2 789.3h3.9v2.2h-3.9zM114.3 789.3h3.9v2.2h-3.9zM143.2 789.3h3.9v2.2h-3.9z" fill="#ead8d2" shape-rendering="crispEdges"/>
<path d="M183 633.4h7.5v2.2h-7.5zM291.5 635.3h3.9v2.2h-3.9zM302.3 637.3h3.9v2.2h-3.9zM305.9 639.3h3.9v2.2h-3.9zM316.8 643.2h3.9v2.2h-3.9zM298.7 702.5h3.9v2.2h-3.9z" fill="#f0a88a" shape-rendering="crispEdges"/>
<path d="M219.1 635.3h3.9v2.2h-3.9zM219.1 641.3h7.5v2.2h-7.5zM248.1 641.3h3.9v2.2h-3.9zM248.1 645.2h3.9v2.2h-3.9zM125.1 647.2h3.9v2.2h-3.9zM219.1 647.2h3.9v2.2h-3.9zM309.6 649.2h3.9v2.2h-3.9zM295.1 651.1h3.9v2.2h-3.9zM128.7 655.1h3.9v2.2h-3.9zM309.6 655.1h3.9v2.2h-3.9zM215.5 657.1h3.9v2.2h-3.9zM222.8 657.1h3.9v2.2h-3.9zM186.6 659h3.9v2.2h-3.9zM211.9 659h3.9v2.2h-3.9zM280.6 663h3.9v2.2h-3.9zM197.5 665h3.9v2.2h-3.9zM226.4 666.9h3.9v2.2h-3.9zM251.7 666.9h3.9v2.2h-3.9zM287.9 666.9h3.9v2.2h-3.9zM179.4 668.9h3.9v2.2h-3.9zM211.9 668.9h3.9v2.2h-3.9zM222.8 672.8h3.9v2.2h-3.9zM197.5 674.8h3.9v2.2h-3.9zM179.4 680.7h7.5v2.2h-7.5zM255.3 680.7h3.9v2.2h-3.9zM262.5 680.7h3.9v2.2h-3.9zM287.9 680.7h3.9v2.2h-3.9zM302.3 682.7h3.9v2.2h-3.9zM190.2 684.7h3.9v2.2h-3.9zM226.4 684.7h3.9v2.2h-3.9zM237.2 684.7h3.9v2.2h-3.9zM251.7 684.7h3.9v2.2h-3.9zM277 684.7h7.5v2.2h-7.5zM284.2 686.7h7.5v2.2h-7.5zM237.2 688.6h3.9v2.2h-3.9zM295.1 688.6h3.9v2.2h-3.9zM179.4 690.6h3.9v2.2h-3.9zM197.5 692.6h3.9v2.2h-3.9zM277 692.6h3.9v2.2h-3.9zM305.9 692.6h3.9v2.2h-3.9zM208.3 694.6h3.9v2.2h-3.9zM215.5 694.6h3.9v2.2h-3.9zM266.2 694.6h3.9v2.2h-3.9zM273.4 694.6h7.5v2.2h-7.5zM298.7 694.6h3.9v2.2h-3.9zM226.4 696.5h3.9v2.2h-3.9zM244.5 696.5h3.9v2.2h-3.9zM305.9 696.5h3.9v2.2h-3.9zM313.2 696.5h3.9v2.2h-3.9zM201.1 698.5h7.5v2.2h-7.5zM244.5 698.5h3.9v2.2h-3.9zM302.3 698.5h3.9v2.2h-3.9zM309.6 698.5h3.9v2.2h-3.9zM183 700.5h3.9v2.2h-3.9zM244.5 702.5h3.9v2.2h-3.9zM240.8 706.4h3.9v2.2h-3.9zM284.2 708.4h3.9v2.2h-3.9zM201.1 710.4h3.9v2.2h-3.9zM269.8 710.4h3.9v2.2h-3.9zM240.8 714.3h7.5v2.2h-7.5zM302.3 716.3h3.9v2.2h-3.9zM305.9 720.2h3.9v2.2h-3.9zM233.6 724.2h3.9v2.2h-3.9zM248.1 724.2h3.9v2.2h-3.9zM183 728.1h3.9v2.2h-3.9zM208.3 730.1h3.9v2.2h-3.9zM313.2 736h3.9v2.2h-3.9zM295.1 738h3.9v2.2h-3.9zM197.5 745.9h3.9v2.2h-3.9zM219.1 745.9h3.9v2.2h-3.9zM240.8 745.9h3.9v2.2h-3.9zM302.3 745.9h3.9v2.2h-3.9zM230 747.9h3.9v2.2h-3.9zM226.4 749.8h3.9v2.2h-3.9zM183 753.8h3.9v2.2h-3.9zM309.6 759.7h3.9v2.2h-3.9zM244.5 763.6h3.9v2.2h-3.9zM190.2 765.6h3.9v2.2h-3.9zM313.2 765.6h3.9v2.2h-3.9zM197.5 767.6h3.9v2.2h-3.9zM233.6 767.6h3.9v2.2h-3.9zM316.8 771.5h3.9v2.2h-3.9zM204.7 775.5h3.9v2.2h-3.9zM309.6 775.5h3.9v2.2h-3.9zM197.5 777.5h3.9v2.2h-3.9zM190.2 779.4h3.9v2.2h-3.9zM226.4 779.4h3.9v2.2h-3.9zM244.5 779.4h3.9v2.2h-3.9zM248.1 783.4h3.9v2.2h-3.9zM302.3 783.4h3.9v2.2h-3.9zM230 787.3h3.9v2.2h-3.9zM237.2 787.3h3.9v2.2h-3.9zM244.5 787.3h3.9v2.2h-3.9zM277 787.3h3.9v2.2h-3.9zM237.2 791.3h3.9v2.2h-3.9zM313.2 793.3h3.9v2.2h-3.9zM277 795.2h3.9v2.2h-3.9z" fill="#d8dee4" shape-rendering="crispEdges"/>
<path d="M103.4 641.3h3.9v2.2h-3.9zM121.5 641.3h3.9v2.2h-3.9zM150.4 641.3h3.9v2.2h-3.9zM175.8 641.3h3.9v2.2h-3.9zM273.4 647.2h3.9v2.2h-3.9zM172.1 653.1h3.9v2.2h-3.9zM136 661h3.9v2.2h-3.9zM258.9 769.6h3.9v2.2h-3.9zM211.9 783.4h3.9v2.2h-3.9zM295.1 787.3h3.9v2.2h-3.9zM302.3 787.3h3.9v2.2h-3.9z" fill="#a2c0f6" shape-rendering="crispEdges"/>
<path d="M305.9 641.3h3.9v2.2h-3.9zM255.3 674.8h3.9v2.2h-3.9zM298.7 781.4h3.9v2.2h-3.9z" fill="#f09c7e" shape-rendering="crispEdges"/>
<path d="M291.5 643.2h7.5v2.2h-7.5z" fill="#f6ae90" shape-rendering="crispEdges"/>
<path d="M313.2 643.2h3.9v2.2h-3.9zM99.8 657.1h3.9v2.2h-3.9z" fill="#f6b496" shape-rendering="crispEdges"/>
<path d="M110.7 653.1h3.9v2.2h-3.9zM291.5 791.3h3.9v2.2h-3.9z" fill="#90aef6" shape-rendering="crispEdges"/>
<path d="M168.5 661h3.9v2.2h-3.9z" fill="#7296f0" shape-rendering="crispEdges"/>
<path d="M172.1 661h3.9v2.2h-3.9z" fill="#789cf0" shape-rendering="crispEdges"/>
<path d="M175.8 661h3.9v2.2h-3.9z" fill="#668aea" shape-rendering="crispEdges"/>
<path d="M291.5 692.6h7.5v2.2h-7.5z" fill="#de484e" shape-rendering="crispEdges"/>
<path d="M291.5 694.6h3.9v2.2h-3.9z" fill="#e4665a" shape-rendering="crispEdges"/>
<path d="M295.1 694.6h3.9v2.2h-3.9z" fill="#ea7260" shape-rendering="crispEdges"/>
<path d="M98.01 797.4V800M105.24 797.4V800M112.47 797.4V800M119.7 797.4V800M126.94 797.4V800M134.17 797.4V800M141.4 797.4V800M148.63 797.4V800M155.87 797.4V800M163.1 797.4V800M170.33 797.4V800M177.56 797.4V800M184.8 797.4V800M192.03 797.4V800M199.26 797.4V800M206.49 797.4V800M213.72 797.4V800M220.96 797.4V800M228.19 797.4V800M235.42 797.4V800M242.65 797.4V800M249.89 797.4V800M257.12 797.4V800M264.35 797.4V800M271.58 797.4V800M278.81 797.4V800M286.05 797.4V800M293.28 797.4V800M300.51 797.4V800M307.74 797.4V800M314.98 797.4V800" stroke="#b8b8b8" stroke-width="0.6"/>
<path d="M98.01 598.03H101.62M98.01 598.03V615.2M101.62 598.03V615.2M105.24 598.55H108.86M105.24 598.55V615.2M108.86 598.55V615.2M99.82 596.46H107.05M99.82 596.46V598.03M107.05 596.46V598.55M116.09 599.27H119.7M116.09 599.27V615.2M119.7 599.27V615.2M112.47 598.59H117.9M112.47 598.59V615.2M117.9 598.59V599.27M123.32 599.48H126.94M123.32 599.48V615.2M126.94 599.48V615.2M130.55 599.81H134.17M130.55 599.81V615.2M134.17 599.81V615.2M132.36 599.54H137.79M132.36 599.54V599.81M137.79 599.54V615.2M125.13 599.35H135.07M125.13 599.35V599.48M135.07 599.35V599.54M141.4 599.72H145.02M141.4 599.72V615.2M145.02 599.72V615.2M148.63 599.81H152.25M148.63 599.81V615.2M152.25 599.81V615.2M150.44 599.72H155.87M150.44 599.72V599.81M155.87 599.72V615.2M159.48 599.92H163.1M159.48 599.92V615.2M163.1 599.92V615.2M166.71 599.85H170.33M166.71 599.85V615.2M170.33 599.85V615.2M161.29 599.82H168.52M161.29 599.82V599.92M168.52 599.82V599.85M153.15 599.61H164.91M153.15 599.61V599.72M164.91 599.61V599.82M143.21 599.44H159.03M143.21 599.44V599.72M159.03 599.44V599.61M130.1 598.91H151.12M130.1 598.91V599.35M151.12 598.91V599.44M115.18 597.75H140.61M115.18 597.75V598.59M140.61 597.75V598.91M173.95 597.52H177.56M173.95 597.52V615.2M177.56 597.52V615.2M127.9 596.89H175.75M127.9 596.89V597.75M175.75 596.89V597.52M103.43 592.5H151.83M103.43 592.5V596.46M151.83 592.5V596.89M184.8 594.36H188.41M184.8 594.36V615.2M188.41 594.36V615.2M186.6 591.8H192.03M186.6 591.8V594.36M192.03 591.8V615.2M181.18 585.8H189.32M181.18 585.8V615.2M189.32 585.8V591.8M195.64 597.04H199.26M195.64 597.04V615.2M199.26 597.04V615.2M202.88 596.93H206.49M202.88 596.93V615.2M206.49 596.93V615.2M197.45 596.54H204.68M197.45 596.54V597.04M204.68 596.54V596.93M201.07 595.39H210.11M201.07 595.39V596.54M210.11 595.39V615.2M213.72 598.01H217.34M213.72 598.01V615.2M217.34 598.01V615.2M224.57 598.15H228.19M224.57 598.15V615.2M228.19 598.15V615.2M220.96 597.13H226.38M220.96 597.13V615.2M226.38 597.13V598.15M215.53 596.76H223.67M215.53 596.76V598.01M223.67 596.76V597.13M205.59 594.73H219.6M205.59 594.73V595.39M219.6 594.73V596.76M231.8 597.32H235.42M231.8 597.32V615.2M235.42 597.32V615.2M239.04 596.51H242.65M239.04 596.51V615.2M242.65 596.51V615.2M233.61 595.32H240.85M233.61 595.32V597.32M240.85 595.32V596.51M246.27 595.09H249.89M246.27 595.09V615.2M249.89 595.09V615.2M237.23 593.48H248.08M237.23 593.48V595.32M248.08 593.48V595.09M212.59 590.39H242.65M212.59 590.39V594.73M242.65 590.39V593.48M185.25 581.6H227.62M185.25 581.6V585.8M227.62 581.6V590.39M253.5 592.33H257.12M253.5 592.33V615.2M257.12 592.33V615.2M260.73 597.49H264.35M260.73 597.49V615.2M264.35 597.49V615.2M262.54 596.69H267.97M262.54 596.69V597.49M267.97 596.69V615.2M275.2 598.34H278.81M275.2 598.34V615.2M278.81 598.34V615.2M271.58 597.59H277.01M271.58 597.59V615.2M277.01 597.59V598.34M286.05 598.11H289.66M286.05 598.11V615.2M289.66 598.11V615.2M282.43 597.2H287.85M282.43 597.2V615.2M287.85 597.2V598.11M274.29 596.59H285.14M274.29 596.59V597.59M285.14 596.59V597.2M265.25 593.44H279.72M265.25 593.44V596.69M279.72 593.44V596.59M255.31 586.4H272.49M255.31 586.4V592.33M272.49 586.4V593.44M296.9 585.14H300.51M296.9 585.14V615.2M300.51 585.14V615.2M293.28 582.34H298.7M293.28 582.34V615.2M298.7 582.34V585.14M307.74 591.14H311.36M307.74 591.14V615.2M311.36 591.14V615.2M304.13 587.67H309.55M304.13 587.67V615.2M309.55 587.67V591.14M314.98 592.1H318.59M314.98 592.1V615.2M318.59 592.1V615.2M306.84 585.81H316.78M306.84 585.81V587.67M316.78 585.81V592.1M295.99 577.4H311.81M295.99 577.4V582.34M311.81 577.4V585.81M127.63 578.2H206.44M127.63 578.2V592.5M206.44 578.2V581.6M263.9 574.9H303.9M263.9 574.9V586.4M303.9 574.9V577.4M167.03 570.1H283.9M167.03 570.1V578.2M283.9 570.1V574.9" stroke="#b2b2b2" stroke-width="0.7" fill="none"/>
<path d="M94 623.3H73.0M94 624.3H74.8M94 625.3H66.9M94 626.3H62.7M94 627.3H59.2M94 628.3H55.6M94 629.3H55.8M94 630.3H70.2M94 631.3H57.9M94 632.3H56.5M94 633.3H58.9M94 634.3H77.0M94 635.3H65.9M94 636.3H68.4M94 637.3H69.7M94 638.3H69.6M94 639.3H74.7M94 640.3H62.8M94 641.3H61.6M94 642.3H57.7M94 643.3H56.8M94 644.3H68.4M94 645.3H59.5M94 646.3H62.3M94 647.3H64.0M94 648.3H66.0M94 649.3H70.9M94 650.3H74.7M94 651.3H74.3M94 652.3H72.7M94 653.3H68.0M94 654.3H64.1M94 655.3H59.3M94 656.3H57.1M94 657.3H53.3M94 658.3H50.5M94 659.3H54.4M94 660.3H53.7M94 661.3H52.7M94 662.3H54.7M94 663.3H53.8M94 664.3H53.6M94 665.3H54.6M94 666.3H56.8M94 667.3H55.8M94 668.3H57.2M94 669.3H55.6M94 670.3H60.6M94 671.3H64.1M94 672.3H65.2M94 673.3H77.8M94 674.3H69.7M94 675.3H71.7M94 676.3H75.7M94 677.3H77.1M94 678.3H81.3M94 679.3H82.0M94 680.3H90.0M94 681.3H75.4M94 682.3H75.5M94 683.3H71.8M94 684.3H70.6M94 685.3H66.2M94 686.3H65.8M94 687.3H61.6M94 688.3H61.8M94 689.3H60.9M94 690.3H59.9M94 691.3H59.4M94 692.3H58.2M94 693.3H62.4M94 694.3H65.4M94 695.3H67.2M94 696.3H79.0M94 697.3H57.7M94 698.3H58.3M94 699.3H58.6M94 700.3H56.8M94 701.3H55.1M94 702.3H56.6M94 703.3H58.9M94 704.3H58.5M94 705.3H60.9M94 706.3H61.7M94 707.3H65.2M94 708.3H66.7M94 709.3H62.8M94 710.3H62.3M94 711.3H60.1M94 712.3H59.8M94 713.3H60.8M94 714.3H59.1M94 715.3H56.0M94 716.3H59.4M94 717.3H58.7M94 718.3H59.5M94 719.3H61.7M94 720.3H63.4M94 721.3H66.6M94 722.3H66.6M94 723.3H69.4M94 724.3H79.3M94 725.3H73.7M94 726.3H74.1M94 727.3H76.5M94 728.3H77.1M94 729.3H80.3M94 730.3H77.8M94 731.3H78.0M94 732.3H76.6M94 733.3H75.6M94 734.3H74.3M94 735.3H72.8M94 736.3H75.4M94 737.3H68.7M94 738.3H68.2M94 739.3H65.9M94 740.3H64.0M94 741.3H62.8M94 742.3H64.0M94 743.3H69.0M94 744.3H74.5M94 745.3H66.1M94 746.3H73.2M94 747.3H63.4M94 748.3H70.8M94 749.3H59.2M94 750.3H56.4M94 751.3H57.7M94 752.3H67.4M94 753.3H60.2M94 754.3H61.2M94 755.3H62.1M94 756.3H65.6M94 757.3H66.8M94 758.3H66.2M94 759.3H68.5M94 760.3H69.9M94 761.3H72.7M94 762.3H74.8M94 763.3H74.0M94 764.3H76.8M94 765.3H77.0M94 766.3H78.7M94 767.3H90.0M94 768.3H80.6M94 769.3H88.2M94 770.3H79.8M94 771.3H76.3M94 772.3H76.5M94 773.3H72.6M94 774.3H72.9M94 775.3H70.5M94 776.3H69.8M94 777.3H66.8M94 778.3H64.2M94 779.3H64.4M94 780.3H62.5M94 781.3H60.2M94 782.3H59.8M94 783.3H58.0M94 784.3H56.2M94 785.3H56.8M94 786.3H57.6M94 787.3H60.8M94 788.3H63.6M94 789.3H59.2M94 790.3H56.2M94 791.3H57.2M94 792.3H57.8M94 793.3H57.2M94 794.3H53.8M94 795.3H61.8M94 796.3H54.8" stroke="#545454" stroke-width="1.05" fill="none"/>
<path d="M73.5 631.2H80.1M73.2 674.0H86.7M65.8 759.3H73.5M74.9 730.4H88.3M68.6 750.9H81.8M71.9 779.5H79.3M62.6 765.4H68.7M68.0 675.7H83.7M69.0 750.1H80.7M76.4 695.7H88.6M77.0 686.7H91.1M77.4 694.6H84.0M69.2 773.9H80.1M68.8 774.5H79.1M72.9 665.4H86.1M64.5 739.2H79.3M63.8 708.5H71.9M64.3 646.3H75.4M73.2 752.8H88.9M72.0 793.0H86.5M70.2 780.1H84.6M74.1 720.9H88.2" stroke="#8a8a8a" stroke-width="0.6" fill="none"/>
<path d="M57.0 624.5V639.0M59.0 641.0V656.0M52.0 658.0V669.0M58.0 671.0V696.0M57.5 698.0V715.0M58.0 717.0V744.0M58.0 746.0V783.0M55.0 785.0V796.0M50.5 631.8V648.5M50.5 631.8H57.0M50.5 648.5H59.0M46.5 640.1V663.5M46.5 640.1H50.5M46.5 663.5H52.0M53.0 683.5V706.5M53.0 683.5H58.0M53.0 706.5H57.5M54.0 730.5V764.5M54.0 730.5H58.0M54.0 764.5H58.0M49.5 695.0V747.5M49.5 695.0H53.0M49.5 747.5H54.0M47.0 721.2V790.5M47.0 721.2H49.5M47.0 790.5H55.0M40.5 651.8V755.9M40.5 651.8H46.5M40.5 755.9H47.0" stroke="#9a9a9a" stroke-width="0.7" fill="none"/>
<text x="118.7" y="818" font-size="11.85" font-style="italic" fill="#1a1a1a">Significant Features (p<tspan font-size="8" dy="2.5">corr</tspan><tspan dy="-2.5"> &lt; .05)</tspan></text>
<rect x="79.1" y="843.3" width="10.6" height="9.4" fill="#000"/>
<rect x="163.2" y="843.3" width="10.4" height="9.6" fill="#ff0a0a"/>
<rect x="255" y="843" width="11.2" height="9.8" fill="#5b8c3c"/>
<text x="100.3" y="852.8" font-size="11.7" text-anchor="start" fill="#1a1a1a" >Healthy</text>
<text x="100.3" y="867.1" font-size="11.7" text-anchor="start" fill="#1a1a1a" >Control</text>
<text x="100.3" y="881.4" font-size="11.7" text-anchor="start" fill="#1a1a1a" >(HC)</text>
<text x="180.8" y="852.8" font-size="11.7" text-anchor="start" fill="#1a1a1a" >Severe</text>
<text x="180.8" y="867.1" font-size="11.7" text-anchor="start" fill="#1a1a1a" >COVID-19</text>
<text x="180.8" y="881.4" font-size="11.7" text-anchor="start" fill="#1a1a1a" >(SC19)</text>
<text x="277.6" y="852.8" font-size="11.7" text-anchor="start" fill="#1a1a1a" >Post</text>
<text x="277.6" y="867.1" font-size="11.7" text-anchor="start" fill="#1a1a1a" >COVID-19</text>
<text x="277.6" y="881.4" font-size="11.7" text-anchor="start" fill="#1a1a1a" >(PC19)</text>
<text x="336.3" y="572" font-size="16.6" text-anchor="start" fill="#111" >F</text>
<rect x="385.6" y="601.4" width="119.2" height="88.8" fill="none" stroke="#a8a8a8" stroke-width="1.1"/>
<path d="M385.6 601.4V690.2H504.8" stroke="#7a7a7a" stroke-width="1.1" fill="none"/>
<path d="M385.6 690.4h2M385.6 668.6h2M385.6 646.8h2M385.6 625h2M385.6 603.2h2" stroke="#888" stroke-width="0.7"/>
<text x="384.4" y="694.4" font-size="11.3" text-anchor="end" fill="#111" >10</text>
<text x="384.4" y="672.6" font-size="11.3" text-anchor="end" fill="#111" >14</text>
<text x="384.4" y="650.8" font-size="11.3" text-anchor="end" fill="#111" >18</text>
<text x="384.4" y="629" font-size="11.3" text-anchor="end" fill="#111" >22</text>
<text x="384.4" y="607.2" font-size="11.3" text-anchor="end" fill="#111" >26</text>
<path d="M405.9 690.2v-2M445.3 690.2v-2M485 690.2v-2" stroke="#888" stroke-width="0.7"/>
<text x="403.9" y="702.5" font-size="11.8" text-anchor="middle" fill="#111" >HC</text>
<text x="441.5" y="702.5" font-size="11.8" text-anchor="middle" fill="#111" >SC19</text>
<text x="480" y="702.5" font-size="11.8" text-anchor="middle" fill="#111" >PC19</text>
<path d="M405.5 623.8V622.4H485.1V623.8M405.5 627.8V626.4H445.5V627.8" stroke="#8a8a8a" stroke-width="0.9" fill="none"/>
<text x="445.1" y="621" font-size="4.2" text-anchor="middle" fill="#555" style="stroke:none">****</text>
<text x="425.4" y="624.6" font-size="4.2" text-anchor="middle" fill="#aaa" style="stroke:none">****</text>
<path d="M405.9 635.9V633.17M400.1 633.17H411.7" stroke="#555" stroke-width="0.9" fill="none"/>
<path d="M405.9 638.9V639.82M400.1 639.82H411.7" stroke="#555" stroke-width="0.9" fill="none"/>
<rect x="394" y="635.9" width="23.8" height="3" fill="#6c6c6c" stroke="#666" stroke-width="0.6"/>
<path d="M394 637.53H417.8" stroke="#444" stroke-width="0.9" fill="none"/>
<path d="M445.3 672.14V662.28M439.3 662.28H451.3" stroke="#555" stroke-width="0.9" fill="none"/>
<rect x="433.4" y="672.14" width="23.8" height="12.15" fill="#f46a72" stroke="#666" stroke-width="0.6"/>
<path d="M433.4 684.13H457.2" stroke="#444" stroke-width="0.9" fill="none"/>
<path d="M473.55 684.4H496.45" stroke="#6a6a6a" stroke-width="0.9" fill="none"/>
<circle cx="484.5" cy="663.8" r="1.45" fill="none" stroke="#8a8a8a" stroke-width="0.7"/>
<circle cx="484.5" cy="665.6" r="1.45" fill="none" stroke="#8a8a8a" stroke-width="0.7"/>
<circle cx="484.5" cy="672.2" r="1.45" fill="none" stroke="#8a8a8a" stroke-width="0.7"/>
<text x="443.8" y="570.2" font-size="11.7" text-anchor="middle" fill="#111">1,2-DPPC [H+, m+<tspan font-size="8" dy="-4">13</tspan><tspan dy="4">C</tspan><tspan font-size="8" dy="2">1</tspan><tspan dy="-2">]</tspan></text>
<text x="443.8" y="582.4" font-size="11.7" text-anchor="middle" fill="#111">F210226</text>
<text x="443.8" y="598" font-size="11.7" text-anchor="middle" fill="#111">314.3245<tspan font-style="italic">m/z</tspan> @ 58.78</text>
<rect x="534" y="603" width="115.5" height="87.4" fill="none" stroke="#a8a8a8" stroke-width="1.1"/>
<path d="M534 603V690.4H649.5" stroke="#7a7a7a" stroke-width="1.1" fill="none"/>
<path d="M534 690.9h2M534 669.4h2M534 647.9h2M534 626.4h2M534 604.9h2" stroke="#888" stroke-width="0.7"/>
<text x="530.6" y="694.9" font-size="11.3" text-anchor="end" fill="#111" >10</text>
<text x="530.6" y="673.4" font-size="11.3" text-anchor="end" fill="#111" >14</text>
<text x="530.6" y="651.9" font-size="11.3" text-anchor="end" fill="#111" >18</text>
<text x="530.6" y="630.4" font-size="11.3" text-anchor="end" fill="#111" >22</text>
<text x="530.6" y="608.9" font-size="11.3" text-anchor="end" fill="#111" >26</text>
<path d="M552.7 690.4v-2M591.4 690.4v-2M630 690.4v-2" stroke="#888" stroke-width="0.7"/>
<text x="553.9" y="701.4" font-size="11.8" text-anchor="middle" fill="#111" >HC</text>
<text x="590.6" y="701.4" font-size="11.8" text-anchor="middle" fill="#111" >SC19</text>
<text x="629.2" y="701.4" font-size="11.8" text-anchor="middle" fill="#111" >PC19</text>
<path d="M553.4 611.9V610.5H630V611.9M553.4 616.1V614.7H591.4V616.1" stroke="#8a8a8a" stroke-width="0.9" fill="none"/>
<text x="591.6" y="609" font-size="4.2" text-anchor="middle" fill="#888" style="stroke:none">****</text>
<text x="572.4" y="613.2" font-size="4.2" text-anchor="middle" fill="#aaa" style="stroke:none">***</text>
<path d="M552.7 624.79V622.37M547.2 622.37H558.2" stroke="#555" stroke-width="0.9" fill="none"/>
<path d="M552.7 627.21V628.28M547.2 628.28H558.2" stroke="#555" stroke-width="0.9" fill="none"/>
<rect x="541" y="624.79" width="23.4" height="2.42" fill="#6c6c6c" stroke="#666" stroke-width="0.6"/>
<path d="M541 626.4H564.4" stroke="#444" stroke-width="0.9" fill="none"/>
<path d="M591.4 644.67V640.38M585.1 640.38H597.7" stroke="#555" stroke-width="0.9" fill="none"/>
<rect x="579.7" y="644.67" width="23.4" height="33.59" fill="#f46a72" stroke="#666" stroke-width="0.6"/>
<path d="M579.7 649.14H603.1" stroke="#444" stroke-width="0.9" fill="none"/>
<path d="M630 646.82V639.3M623.7 639.3H636.3" stroke="#555" stroke-width="0.9" fill="none"/>
<rect x="618.25" y="646.82" width="23.5" height="31.44" fill="#5fbf6e" stroke="#666" stroke-width="0.6"/>
<path d="M618.25 662.41H641.75" stroke="#444" stroke-width="0.9" fill="none"/>
<text x="590.3" y="568.6" font-size="11.7" text-anchor="middle" fill="#111">1,2-DPPC [H+, m]</text>
<text x="590.3" y="581.2" font-size="11.7" text-anchor="middle" fill="#111">F209589</text>
<text x="590.3" y="596" font-size="11.7" text-anchor="middle" fill="#111">313.3212<tspan font-style="italic">m/z</tspan> @ 58.92s</text>
<rect x="386.5" y="746.9" width="119.4" height="89" fill="none" stroke="#a8a8a8" stroke-width="1.1"/>
<path d="M386.5 746.9V835.9H505.9" stroke="#7a7a7a" stroke-width="1.1" fill="none"/>
<path d="M386.5 835.9h2M386.5 814.26h2M386.5 792.62h2M386.5 770.98h2M386.5 749.34h2" stroke="#888" stroke-width="0.7"/>
<text x="384.6" y="839.9" font-size="11.3" text-anchor="end" fill="#111" >10</text>
<text x="384.6" y="818.26" font-size="11.3" text-anchor="end" fill="#111" >14</text>
<text x="384.6" y="796.62" font-size="11.3" text-anchor="end" fill="#111" >18</text>
<text x="384.6" y="774.98" font-size="11.3" text-anchor="end" fill="#111" >22</text>
<text x="384.6" y="753.34" font-size="11.3" text-anchor="end" fill="#111" >26</text>
<path d="M406.5 835.9v-2M447.2 835.9v-2M484.6 835.9v-2" stroke="#888" stroke-width="0.7"/>
<text x="403.2" y="846.6" font-size="11.8" text-anchor="middle" fill="#111" >HC</text>
<text x="439.8" y="846.6" font-size="11.8" text-anchor="middle" fill="#111" >SC19</text>
<text x="478.8" y="846.6" font-size="11.8" text-anchor="middle" fill="#111" >PC19</text>
<path d="M406.6 772.5V771.1H486.6V772.5M406.6 776.4V775H445.8V776.4" stroke="#8a8a8a" stroke-width="0.9" fill="none"/>
<text x="446.5" y="769.6" font-size="4.2" text-anchor="middle" fill="#777" style="stroke:none">****</text>
<text x="427" y="773.5" font-size="4.2" text-anchor="middle" fill="#aaa" style="stroke:none">****</text>
<rect x="394.2" y="783.86" width="24.6" height="3.46" fill="#6c6c6c" stroke="#666" stroke-width="0.6"/>
<path d="M394.2 785.59H418.8" stroke="#444" stroke-width="0.9" fill="none"/>
<path d="M436.15 831.14H458.25" stroke="#6a6a6a" stroke-width="0.9" fill="none"/>
<path d="M471.1 831.14H498.1" stroke="#6a6a6a" stroke-width="0.9" fill="none"/>
<circle cx="406.6" cy="781.3" r="1.45" fill="none" stroke="#8a8a8a" stroke-width="0.7"/>
<circle cx="406.6" cy="795" r="1.45" fill="none" stroke="#8a8a8a" stroke-width="0.7"/>
<circle cx="446.3" cy="812.5" r="1.45" fill="none" stroke="#8a8a8a" stroke-width="0.7"/>
<circle cx="446.3" cy="815.2" r="1.45" fill="none" stroke="#8a8a8a" stroke-width="0.7"/>
<circle cx="446.3" cy="817.3" r="1.45" fill="none" stroke="#8a8a8a" stroke-width="0.7"/>
<circle cx="446.3" cy="825.4" r="1.45" fill="none" stroke="#8a8a8a" stroke-width="0.7"/>
<circle cx="486.6" cy="807.5" r="1.45" fill="none" stroke="#8a8a8a" stroke-width="0.7"/>
<circle cx="486.6" cy="813.6" r="1.45" fill="none" stroke="#8a8a8a" stroke-width="0.7"/>
<circle cx="486.6" cy="818" r="1.45" fill="none" stroke="#8a8a8a" stroke-width="0.7"/>
<circle cx="486.6" cy="821.3" r="1.45" fill="none" stroke="#8a8a8a" stroke-width="0.7"/>
<text x="440.3" y="728.9" font-size="11.7" text-anchor="middle" fill="#111">F195810</text>
<text x="440.3" y="743.5" font-size="11.7" text-anchor="middle" fill="#111">289.2733<tspan font-style="italic">m/z</tspan> @ 14.03s</text>
<rect x="534" y="747.5" width="116" height="88.5" fill="none" stroke="#a8a8a8" stroke-width="1.1"/>
<path d="M534 747.5V836H650" stroke="#7a7a7a" stroke-width="1.1" fill="none"/>
<path d="M534 836.5h2M534 815.02h2M534 793.54h2M534 772.06h2M534 750.58h2" stroke="#888" stroke-width="0.7"/>
<text x="530.6" y="840.5" font-size="11.3" text-anchor="end" fill="#111" >10</text>
<text x="530.6" y="819.02" font-size="11.3" text-anchor="end" fill="#111" >14</text>
<text x="530.6" y="797.54" font-size="11.3" text-anchor="end" fill="#111" >18</text>
<text x="530.6" y="776.06" font-size="11.3" text-anchor="end" fill="#111" >22</text>
<text x="530.6" y="754.58" font-size="11.3" text-anchor="end" fill="#111" >26</text>
<path d="M552.4 836v-2M592.1 836v-2M631.2 836v-2" stroke="#888" stroke-width="0.7"/>
<text x="552.7" y="848.2" font-size="11.8" text-anchor="middle" fill="#111" >HC</text>
<text x="589.2" y="848.2" font-size="11.8" text-anchor="middle" fill="#111" >SC19</text>
<text x="628.5" y="848.2" font-size="11.8" text-anchor="middle" fill="#111" >PC19</text>
<path d="M552.7 770V768.6H631.7V770M552.7 773.5V772.1H591.4V773.5M591.4 777.5V776.1H631.7V777.5" stroke="#8a8a8a" stroke-width="0.9" fill="none"/>
<text x="592" y="767.2" font-size="4.2" text-anchor="middle" fill="#888" style="stroke:none">****</text>
<text x="572" y="770.9" font-size="4.2" text-anchor="middle" fill="#aaa" style="stroke:none">****</text>
<text x="611.5" y="774.7" font-size="4.2" text-anchor="middle" fill="#aaa" style="stroke:none">*</text>
<path d="M552.4 788.98V786.83M546.6 786.83H558.2" stroke="#555" stroke-width="0.9" fill="none"/>
<path d="M552.4 791.93V794.88M546.6 794.88H558.2" stroke="#555" stroke-width="0.9" fill="none"/>
<rect x="540.35" y="788.98" width="24.1" height="2.95" fill="#6c6c6c" stroke="#666" stroke-width="0.6"/>
<path d="M540.35 790.59H564.45" stroke="#444" stroke-width="0.9" fill="none"/>
<path d="M592.1 817.44V808.04M586.8 808.04H597.4" stroke="#555" stroke-width="0.9" fill="none"/>
<rect x="580.4" y="817.44" width="23.4" height="8.43" fill="#f46a72" stroke="#666" stroke-width="0.6"/>
<path d="M580.4 825.87H603.8" stroke="#444" stroke-width="0.9" fill="none"/>
<path d="M619.5 825.87H642.9" stroke="#6a6a6a" stroke-width="0.9" fill="none"/>
<circle cx="552.7" cy="781.4" r="1.45" fill="none" stroke="#8a8a8a" stroke-width="0.7"/>
<circle cx="552.7" cy="783.2" r="1.45" fill="none" stroke="#8a8a8a" stroke-width="0.7"/>
<circle cx="631.7" cy="811.2" r="1.45" fill="none" stroke="#8a8a8a" stroke-width="0.7"/>
<circle cx="631.7" cy="817.8" r="1.45" fill="none" stroke="#8a8a8a" stroke-width="0.7"/>
<text x="591.5" y="728.7" font-size="11.7" text-anchor="middle" fill="#111">F150714</text>
<text x="591.5" y="742.8" font-size="11.7" text-anchor="middle" fill="#111">143.1066<tspan font-style="italic">m/z</tspan> @ 13.61s</text>
<text transform="translate(363.7,712.6) rotate(-90)" font-size="11.6" text-anchor="middle" fill="#1a1a1a" >Normalized Log2 Abundances</text>
<text x="516.2" y="862" font-size="11.8" text-anchor="middle" fill="#1a1a1a" >COVID Status</text>
<text x="442.4" y="880.2" font-size="10.5" text-anchor="middle" fill="#1a1a1a" font-weight="bold">*</text>
<text x="440.2" y="894.2" font-size="10.5" text-anchor="middle" fill="#1a1a1a" font-weight="bold">**</text>
<text x="532.7" y="880.4" font-size="10.5" text-anchor="middle" fill="#1a1a1a" font-weight="bold">***</text>
<text x="526.5" y="894.2" font-size="10.5" text-anchor="middle" fill="#1a1a1a" font-weight="bold">****</text>
<text x="455" y="879.3" font-size="12.2" fill="#111"><tspan font-style="italic">p</tspan><tspan font-style="italic" font-size="8" dy="2.6">corr</tspan><tspan dy="-2.6" dx="1.0">&lt;.05</tspan></text>
<text x="455" y="893.4" font-size="12.2" fill="#111"><tspan font-style="italic">p</tspan><tspan font-style="italic" font-size="8" dy="2.6">corr</tspan><tspan dy="-2.6" dx="1.0">&lt;.01</tspan></text>
<text x="545.4" y="879.3" font-size="12.2" fill="#111"><tspan font-style="italic">p</tspan><tspan font-style="italic" font-size="8" dy="2.6">corr</tspan><tspan dy="-2.6" dx="1.0">&lt;.001</tspan></text>
<text x="539.4" y="893.4" font-size="12.2" fill="#111"><tspan font-style="italic">p</tspan><tspan font-style="italic" font-size="8" dy="2.6">corr</tspan><tspan dy="-2.6" dx="1.0">&lt;.0001</tspan></text>
</g>
</svg></body></html>
